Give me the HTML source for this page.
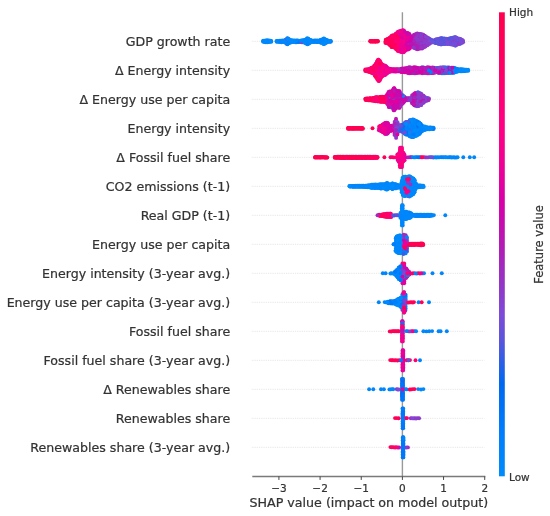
<!DOCTYPE html>
<html><head><meta charset="utf-8"><style>
html,body{margin:0;padding:0;background:#fff;}
body{width:550px;height:516px;overflow:hidden;}
svg{display:block;font-family:"DejaVu Sans","Liberation Sans",sans-serif;}
text{stroke:#333333;stroke-width:0.22px;}
</style></head><body>
<svg width="550" height="516" viewBox="0 0 550 516">
<rect width="550" height="516" fill="#fff"/>
<line x1="251.8" y1="41.30" x2="484.4" y2="41.30" stroke="#e3e3e3" stroke-width="1" stroke-dasharray="0.9 0.9"/>
<line x1="251.8" y1="70.30" x2="484.4" y2="70.30" stroke="#e3e3e3" stroke-width="1" stroke-dasharray="0.9 0.9"/>
<line x1="251.8" y1="99.30" x2="484.4" y2="99.30" stroke="#e3e3e3" stroke-width="1" stroke-dasharray="0.9 0.9"/>
<line x1="251.8" y1="128.30" x2="484.4" y2="128.30" stroke="#e3e3e3" stroke-width="1" stroke-dasharray="0.9 0.9"/>
<line x1="251.8" y1="157.30" x2="484.4" y2="157.30" stroke="#e3e3e3" stroke-width="1" stroke-dasharray="0.9 0.9"/>
<line x1="251.8" y1="186.30" x2="484.4" y2="186.30" stroke="#e3e3e3" stroke-width="1" stroke-dasharray="0.9 0.9"/>
<line x1="251.8" y1="215.30" x2="484.4" y2="215.30" stroke="#e3e3e3" stroke-width="1" stroke-dasharray="0.9 0.9"/>
<line x1="251.8" y1="244.30" x2="484.4" y2="244.30" stroke="#e3e3e3" stroke-width="1" stroke-dasharray="0.9 0.9"/>
<line x1="251.8" y1="273.30" x2="484.4" y2="273.30" stroke="#e3e3e3" stroke-width="1" stroke-dasharray="0.9 0.9"/>
<line x1="251.8" y1="302.30" x2="484.4" y2="302.30" stroke="#e3e3e3" stroke-width="1" stroke-dasharray="0.9 0.9"/>
<line x1="251.8" y1="331.30" x2="484.4" y2="331.30" stroke="#e3e3e3" stroke-width="1" stroke-dasharray="0.9 0.9"/>
<line x1="251.8" y1="360.30" x2="484.4" y2="360.30" stroke="#e3e3e3" stroke-width="1" stroke-dasharray="0.9 0.9"/>
<line x1="251.8" y1="389.30" x2="484.4" y2="389.30" stroke="#e3e3e3" stroke-width="1" stroke-dasharray="0.9 0.9"/>
<line x1="251.8" y1="418.30" x2="484.4" y2="418.30" stroke="#e3e3e3" stroke-width="1" stroke-dasharray="0.9 0.9"/>
<line x1="251.8" y1="447.30" x2="484.4" y2="447.30" stroke="#e3e3e3" stroke-width="1" stroke-dasharray="0.9 0.9"/>
<line x1="402.40" y1="12.3" x2="402.40" y2="476.6" stroke="#999999" stroke-width="1.4"/>
<g><circle cx="402.8" cy="213.3" r="1.95" fill="#008afb"/>
<circle cx="407.9" cy="184.2" r="1.95" fill="#0088fb"/>
<circle cx="399.7" cy="125.3" r="1.95" fill="#8048d6"/>
<circle cx="406.2" cy="273.0" r="1.95" fill="#c60bae"/>
<circle cx="411.4" cy="126.3" r="1.95" fill="#0085fb"/>
<circle cx="396.1" cy="275.1" r="1.95" fill="#0085fb"/>
<circle cx="287.6" cy="41.0" r="1.95" fill="#008bfb"/>
<circle cx="423.8" cy="157.1" r="1.95" fill="#ff005a"/>
<circle cx="387.5" cy="68.5" r="1.95" fill="#f10093"/>
<circle cx="387.5" cy="104.1" r="1.95" fill="#ee0096"/>
<circle cx="400.6" cy="306.8" r="1.95" fill="#0085fb"/>
<circle cx="377.6" cy="64.1" r="1.95" fill="#ff0077"/>
<circle cx="310.3" cy="40.0" r="1.95" fill="#0086fb"/>
<circle cx="429.6" cy="39.0" r="1.95" fill="#724ed9"/>
<circle cx="357.0" cy="128.0" r="1.95" fill="#ff0056"/>
<circle cx="417.5" cy="92.8" r="1.95" fill="#9d2dc1"/>
<circle cx="407.3" cy="126.4" r="1.95" fill="#007ffc"/>
<circle cx="372.8" cy="187.8" r="1.95" fill="#0086fb"/>
<circle cx="425.0" cy="97.5" r="1.95" fill="#774cd9"/>
<circle cx="278.1" cy="40.9" r="1.95" fill="#0088fb"/>
<circle cx="395.9" cy="248.5" r="1.95" fill="#0085fb"/>
<circle cx="403.0" cy="380.5" r="1.95" fill="#006ff4"/>
<circle cx="395.5" cy="99.0" r="1.95" fill="#0088fb"/>
<circle cx="395.4" cy="70.0" r="1.95" fill="#af1eb7"/>
<circle cx="396.9" cy="273.4" r="1.95" fill="#0087fb"/>
<circle cx="430.3" cy="70.0" r="1.95" fill="#8246d4"/>
<circle cx="395.1" cy="92.9" r="1.95" fill="#ce06ac"/>
<circle cx="402.5" cy="128.0" r="1.95" fill="#754dd9"/>
<circle cx="377.1" cy="97.3" r="1.95" fill="#ff006b"/>
<circle cx="404.8" cy="196.0" r="1.95" fill="#0085fb"/>
<circle cx="384.2" cy="188.2" r="1.95" fill="#008bfb"/>
<circle cx="404.5" cy="128.2" r="1.95" fill="#006df3"/>
<circle cx="368.1" cy="99.1" r="1.95" fill="#ff0051"/>
<circle cx="400.9" cy="157.6" r="1.95" fill="#f4008f"/>
<circle cx="377.1" cy="74.3" r="1.95" fill="#ff006e"/>
<circle cx="415.1" cy="120.5" r="1.95" fill="#0086fb"/>
<circle cx="403.2" cy="368.8" r="1.95" fill="#e4009e"/>
<circle cx="400.7" cy="99.3" r="1.95" fill="#cc07ac"/>
<circle cx="391.2" cy="105.7" r="1.95" fill="#b817b3"/>
<circle cx="394.3" cy="39.3" r="1.95" fill="#ff0076"/>
<circle cx="409.2" cy="186.6" r="1.95" fill="#0086fb"/>
<circle cx="396.9" cy="252.2" r="1.95" fill="#0085fb"/>
<circle cx="409.3" cy="176.1" r="1.95" fill="#0088fb"/>
<circle cx="403.1" cy="358.0" r="1.95" fill="#e5009e"/>
<circle cx="394.1" cy="37.4" r="1.95" fill="#ff0061"/>
<circle cx="431.5" cy="68.0" r="1.95" fill="#0084fb"/>
<circle cx="406.8" cy="43.5" r="1.95" fill="#d701a8"/>
<circle cx="352.2" cy="185.9" r="1.95" fill="#0089fb"/>
<circle cx="317.7" cy="157.1" r="1.95" fill="#ff0052"/>
<circle cx="414.5" cy="99.2" r="1.95" fill="#d402a9"/>
<circle cx="296.4" cy="42.2" r="1.95" fill="#0084fb"/>
<circle cx="412.3" cy="121.8" r="1.95" fill="#754dd9"/>
<circle cx="310.6" cy="41.4" r="1.95" fill="#893fce"/>
<circle cx="404.1" cy="184.2" r="1.95" fill="#008bfb"/>
<circle cx="401.7" cy="68.7" r="1.95" fill="#cb08ad"/>
<circle cx="297.5" cy="40.5" r="1.95" fill="#0088fb"/>
<circle cx="397.4" cy="132.8" r="1.95" fill="#8543d2"/>
<circle cx="420.1" cy="99.4" r="1.95" fill="#7e4ad8"/>
<circle cx="394.8" cy="45.8" r="1.95" fill="#ff0060"/>
<circle cx="412.8" cy="188.2" r="1.95" fill="#0089fb"/>
<circle cx="408.1" cy="192.3" r="1.95" fill="#0086fb"/>
<circle cx="427.8" cy="127.4" r="1.95" fill="#0078f9"/>
<circle cx="388.1" cy="132.4" r="1.95" fill="#e4009e"/>
<circle cx="412.8" cy="130.6" r="1.95" fill="#0085fb"/>
<circle cx="403.0" cy="68.5" r="1.95" fill="#cc07ac"/>
<circle cx="373.1" cy="97.9" r="1.95" fill="#ff0070"/>
<circle cx="396.4" cy="271.2" r="1.95" fill="#008bfb"/>
<circle cx="393.6" cy="184.2" r="1.95" fill="#0086fb"/>
<circle cx="386.0" cy="41.6" r="1.95" fill="#ff005e"/>
<circle cx="401.5" cy="95.2" r="1.95" fill="#cc07ac"/>
<circle cx="400.0" cy="41.6" r="1.95" fill="#ff0071"/>
<circle cx="404.8" cy="190.7" r="1.95" fill="#0086fb"/>
<circle cx="405.6" cy="186.1" r="1.95" fill="#008bfb"/>
<circle cx="395.9" cy="45.4" r="1.95" fill="#ff006f"/>
<circle cx="398.3" cy="45.6" r="1.95" fill="#ff0063"/>
<circle cx="412.9" cy="134.5" r="1.95" fill="#008bfb"/>
<circle cx="408.4" cy="217.9" r="1.95" fill="#0086fb"/>
<circle cx="402.2" cy="297.8" r="1.95" fill="#1f61e9"/>
<circle cx="409.9" cy="123.8" r="1.95" fill="#754dd9"/>
<circle cx="455.2" cy="41.4" r="1.95" fill="#704eda"/>
<circle cx="401.2" cy="130.2" r="1.95" fill="#5d54dc"/>
<circle cx="441.7" cy="73.2" r="1.95" fill="#8e3aca"/>
<circle cx="404.6" cy="218.5" r="1.95" fill="#0086fb"/>
<circle cx="329.5" cy="41.7" r="1.95" fill="#0087fb"/>
<circle cx="409.5" cy="121.7" r="1.95" fill="#0089fb"/>
<circle cx="295.3" cy="42.2" r="1.95" fill="#0085fb"/>
<circle cx="405.6" cy="253.4" r="1.95" fill="#0086fb"/>
<circle cx="454.0" cy="37.5" r="1.95" fill="#0071f5"/>
<circle cx="374.8" cy="74.8" r="1.95" fill="#ff0069"/>
<circle cx="417.1" cy="99.3" r="1.95" fill="#9038c8"/>
<circle cx="381.0" cy="186.3" r="1.95" fill="#0087fb"/>
<circle cx="403.3" cy="449.6" r="1.95" fill="#0076f8"/>
<circle cx="376.1" cy="64.1" r="1.95" fill="#ff0065"/>
<circle cx="422.4" cy="126.2" r="1.95" fill="#0084fb"/>
<circle cx="412.1" cy="119.6" r="1.95" fill="#754dd9"/>
<circle cx="405.7" cy="124.4" r="1.95" fill="#754dd9"/>
<circle cx="403.2" cy="364.2" r="1.95" fill="#e5009e"/>
<circle cx="394.2" cy="95.4" r="1.95" fill="#d402a9"/>
<circle cx="402.1" cy="32.6" r="1.95" fill="#e6009d"/>
<circle cx="403.3" cy="182.4" r="1.95" fill="#0089fb"/>
<circle cx="411.1" cy="130.1" r="1.95" fill="#0089fb"/>
<circle cx="401.6" cy="212.6" r="1.95" fill="#0086fb"/>
<circle cx="403.2" cy="359.5" r="1.95" fill="#da00a6"/>
<circle cx="404.7" cy="43.6" r="1.95" fill="#d402a9"/>
<circle cx="305.0" cy="40.0" r="1.95" fill="#0086fb"/>
<circle cx="409.1" cy="273.4" r="1.95" fill="#0084fb"/>
<circle cx="408.3" cy="176.6" r="1.95" fill="#008bfb"/>
<circle cx="375.0" cy="157.1" r="1.95" fill="#ff0060"/>
<circle cx="406.3" cy="268.6" r="1.95" fill="#0084fb"/>
<circle cx="386.2" cy="97.5" r="1.95" fill="#ff0075"/>
<circle cx="389.1" cy="91.6" r="1.95" fill="#c80aae"/>
<circle cx="409.3" cy="35.0" r="1.95" fill="#c30eb0"/>
<circle cx="357.7" cy="185.8" r="1.95" fill="#0084fb"/>
<circle cx="404.4" cy="274.9" r="1.95" fill="#c011b1"/>
<circle cx="276.6" cy="40.9" r="1.95" fill="#008afb"/>
<circle cx="412.3" cy="95.1" r="1.95" fill="#ba15b2"/>
<circle cx="394.7" cy="121.8" r="1.95" fill="#9336c7"/>
<circle cx="404.3" cy="195.9" r="1.95" fill="#0084fb"/>
<circle cx="365.7" cy="156.7" r="1.95" fill="#ff0055"/>
<circle cx="323.8" cy="41.5" r="1.95" fill="#893fce"/>
<circle cx="421.1" cy="96.9" r="1.95" fill="#a428bd"/>
<circle cx="317.4" cy="157.4" r="1.95" fill="#ff0051"/>
<circle cx="402.0" cy="396.5" r="1.95" fill="#0076f8"/>
<circle cx="403.2" cy="418.3" r="1.95" fill="#0077f9"/>
<circle cx="416.8" cy="35.2" r="1.95" fill="#ad20b8"/>
<circle cx="418.6" cy="70.3" r="1.95" fill="#b31bb4"/>
<circle cx="449.5" cy="72.9" r="1.95" fill="#006df3"/>
<circle cx="410.9" cy="195.0" r="1.95" fill="#008bfb"/>
<circle cx="403.0" cy="398.1" r="1.95" fill="#0078fa"/>
<circle cx="399.9" cy="165.3" r="1.95" fill="#f4008f"/>
<circle cx="398.1" cy="71.4" r="1.95" fill="#b916b2"/>
<circle cx="415.8" cy="97.4" r="1.95" fill="#0088fb"/>
<circle cx="395.8" cy="242.3" r="1.95" fill="#0086fb"/>
<circle cx="448.1" cy="72.3" r="1.95" fill="#3a5ce3"/>
<circle cx="403.3" cy="354.9" r="1.95" fill="#e000a2"/>
<circle cx="402.8" cy="438.8" r="1.95" fill="#0079fa"/>
<circle cx="403.0" cy="153.2" r="1.95" fill="#f5008e"/>
<circle cx="407.9" cy="447.4" r="1.95" fill="#a12abf"/>
<circle cx="396.7" cy="244.0" r="1.95" fill="#0089fb"/>
<circle cx="393.2" cy="45.3" r="1.95" fill="#ff006d"/>
<circle cx="385.6" cy="125.9" r="1.95" fill="#e4009e"/>
<circle cx="400.8" cy="155.5" r="1.95" fill="#f6008d"/>
<circle cx="401.5" cy="182.6" r="1.95" fill="#008afb"/>
<circle cx="395.6" cy="43.7" r="1.95" fill="#ff0076"/>
<circle cx="419.6" cy="185.5" r="1.95" fill="#008bfb"/>
<circle cx="413.5" cy="94.9" r="1.95" fill="#9633c4"/>
<circle cx="401.9" cy="394.9" r="1.95" fill="#0071f5"/>
<circle cx="404.1" cy="299.9" r="1.95" fill="#893fce"/>
<circle cx="376.7" cy="184.7" r="1.95" fill="#008bfb"/>
<circle cx="402.5" cy="301.5" r="1.95" fill="#0084fb"/>
<circle cx="380.5" cy="125.9" r="1.95" fill="#f30090"/>
<circle cx="401.0" cy="31.0" r="1.95" fill="#f6008d"/>
<circle cx="401.7" cy="96.9" r="1.95" fill="#9b2fc2"/>
<circle cx="402.6" cy="278.2" r="1.95" fill="#ff0061"/>
<circle cx="402.1" cy="398.1" r="1.95" fill="#0075f8"/>
<circle cx="391.5" cy="273.2" r="1.95" fill="#0088fb"/>
<circle cx="382.2" cy="101.8" r="1.95" fill="#ff005c"/>
<circle cx="411.8" cy="192.5" r="1.95" fill="#0087fb"/>
<circle cx="383.6" cy="214.3" r="1.95" fill="#ff005e"/>
<circle cx="416.9" cy="43.3" r="1.95" fill="#a428bd"/>
<circle cx="421.5" cy="35.0" r="1.95" fill="#8e3aca"/>
<circle cx="415.0" cy="41.1" r="1.95" fill="#a02bbf"/>
<circle cx="402.4" cy="304.3" r="1.95" fill="#1564eb"/>
<circle cx="402.8" cy="445.0" r="1.95" fill="#0078f9"/>
<circle cx="369.1" cy="72.0" r="1.95" fill="#ff0052"/>
<circle cx="320.2" cy="42.3" r="1.95" fill="#0086fb"/>
<circle cx="373.1" cy="99.3" r="1.95" fill="#ff0070"/>
<circle cx="423.5" cy="102.8" r="1.95" fill="#9336c7"/>
<circle cx="415.3" cy="124.0" r="1.95" fill="#008bfb"/>
<circle cx="413.6" cy="128.4" r="1.95" fill="#007dfc"/>
<circle cx="293.6" cy="42.1" r="1.95" fill="#0089fb"/>
<circle cx="359.8" cy="186.9" r="1.95" fill="#008afb"/>
<circle cx="403.2" cy="212.6" r="1.95" fill="#0085fb"/>
<circle cx="355.9" cy="185.8" r="1.95" fill="#0086fb"/>
<circle cx="396.6" cy="239.8" r="1.95" fill="#0084fb"/>
<circle cx="402.8" cy="332.1" r="1.95" fill="#c80aae"/>
<circle cx="295.0" cy="41.2" r="1.95" fill="#0089fb"/>
<circle cx="373.7" cy="156.7" r="1.95" fill="#ff005d"/>
<circle cx="380.9" cy="68.0" r="1.95" fill="#ff0072"/>
<circle cx="361.4" cy="186.0" r="1.95" fill="#008bfb"/>
<circle cx="433.5" cy="157.5" r="1.95" fill="#0078f9"/>
<circle cx="325.5" cy="39.4" r="1.95" fill="#0083fc"/>
<circle cx="394.2" cy="103.3" r="1.95" fill="#0088fb"/>
<circle cx="400.7" cy="161.4" r="1.95" fill="#f6008d"/>
<circle cx="289.9" cy="42.7" r="1.95" fill="#0086fb"/>
<circle cx="401.1" cy="165.3" r="1.95" fill="#ff007e"/>
<circle cx="438.4" cy="41.2" r="1.95" fill="#6e4fda"/>
<circle cx="403.7" cy="242.7" r="1.95" fill="#e4009e"/>
<circle cx="454.2" cy="38.9" r="1.95" fill="#6950da"/>
<circle cx="289.7" cy="41.1" r="1.95" fill="#0084fb"/>
<circle cx="393.5" cy="244.3" r="1.95" fill="#0085fb"/>
<circle cx="413.9" cy="45.8" r="1.95" fill="#a12abe"/>
<circle cx="419.9" cy="273.5" r="1.95" fill="#ff0060"/>
<circle cx="402.0" cy="329.0" r="1.95" fill="#f6008d"/>
<circle cx="421.0" cy="103.4" r="1.95" fill="#9831c3"/>
<circle cx="374.3" cy="41.0" r="1.95" fill="#ff0051"/>
<circle cx="419.0" cy="128.3" r="1.95" fill="#0085fb"/>
<circle cx="419.1" cy="418.3" r="1.95" fill="#8b3dcd"/>
<circle cx="407.2" cy="38.9" r="1.95" fill="#dc00a4"/>
<circle cx="386.7" cy="189.6" r="1.95" fill="#008bfb"/>
<circle cx="399.0" cy="268.9" r="1.95" fill="#0084fb"/>
<circle cx="379.2" cy="186.2" r="1.95" fill="#0087fb"/>
<circle cx="400.7" cy="47.4" r="1.95" fill="#d402a9"/>
<circle cx="390.3" cy="41.0" r="1.95" fill="#ff005b"/>
<circle cx="306.8" cy="43.9" r="1.95" fill="#008afb"/>
<circle cx="403.5" cy="43.3" r="1.95" fill="#e8009b"/>
<circle cx="387.3" cy="183.2" r="1.95" fill="#008bfb"/>
<circle cx="425.4" cy="41.0" r="1.95" fill="#8e3ac9"/>
<circle cx="398.9" cy="267.5" r="1.95" fill="#0078f9"/>
<circle cx="415.8" cy="128.3" r="1.95" fill="#0084fb"/>
<circle cx="390.1" cy="45.2" r="1.95" fill="#ff005b"/>
<circle cx="403.5" cy="249.1" r="1.95" fill="#b41ab4"/>
<circle cx="399.6" cy="43.2" r="1.95" fill="#e4009e"/>
<circle cx="397.5" cy="304.3" r="1.95" fill="#0086fb"/>
<circle cx="410.8" cy="70.4" r="1.95" fill="#cc07ac"/>
<circle cx="347.4" cy="157.4" r="1.95" fill="#ff0052"/>
<circle cx="390.0" cy="101.2" r="1.95" fill="#d502a9"/>
<circle cx="324.4" cy="157.1" r="1.95" fill="#ff0054"/>
<circle cx="406.9" cy="177.5" r="1.95" fill="#0086fb"/>
<circle cx="407.3" cy="212.1" r="1.95" fill="#0085fb"/>
<circle cx="348.3" cy="128.0" r="1.95" fill="#ff0052"/>
<circle cx="359.0" cy="185.8" r="1.95" fill="#008bfb"/>
<circle cx="401.0" cy="32.7" r="1.95" fill="#f00093"/>
<circle cx="398.2" cy="47.3" r="1.95" fill="#ff006b"/>
<circle cx="423.7" cy="186.9" r="1.95" fill="#0089fb"/>
<circle cx="391.5" cy="186.4" r="1.95" fill="#0085fb"/>
<circle cx="353.4" cy="185.9" r="1.95" fill="#0086fb"/>
<circle cx="402.6" cy="130.1" r="1.95" fill="#2760e7"/>
<circle cx="406.4" cy="215.6" r="1.95" fill="#0088fb"/>
<circle cx="378.6" cy="68.2" r="1.95" fill="#ff0061"/>
<circle cx="393.1" cy="301.1" r="1.95" fill="#0089fb"/>
<circle cx="361.4" cy="156.7" r="1.95" fill="#ff0055"/>
<circle cx="377.2" cy="157.7" r="1.95" fill="#ff0062"/>
<circle cx="402.1" cy="41.1" r="1.95" fill="#f10092"/>
<circle cx="403.7" cy="51.7" r="1.95" fill="#e200a0"/>
<circle cx="370.3" cy="185.1" r="1.95" fill="#0088fb"/>
<circle cx="383.8" cy="123.9" r="1.95" fill="#db00a6"/>
<circle cx="432.6" cy="67.5" r="1.95" fill="#a02bbf"/>
<circle cx="382.8" cy="126.5" r="1.95" fill="#f10093"/>
<circle cx="411.2" cy="389.4" r="1.95" fill="#ff0056"/>
<circle cx="399.6" cy="99.2" r="1.95" fill="#ce06ac"/>
<circle cx="394.8" cy="35.1" r="1.95" fill="#ff0053"/>
<circle cx="366.6" cy="100.1" r="1.95" fill="#ff0051"/>
<circle cx="398.8" cy="155.2" r="1.95" fill="#ff007a"/>
<circle cx="414.9" cy="244.4" r="1.95" fill="#ff0057"/>
<circle cx="464.3" cy="71.1" r="1.95" fill="#0073f6"/>
<circle cx="394.0" cy="103.2" r="1.95" fill="#0088fb"/>
<circle cx="381.6" cy="125.4" r="1.95" fill="#e200a0"/>
<circle cx="402.3" cy="306.5" r="1.95" fill="#0085fb"/>
<circle cx="426.1" cy="214.6" r="1.95" fill="#0087fb"/>
<circle cx="394.2" cy="90.8" r="1.95" fill="#d204aa"/>
<circle cx="397.7" cy="69.2" r="1.95" fill="#f20091"/>
<circle cx="425.1" cy="97.5" r="1.95" fill="#7f49d7"/>
<circle cx="381.8" cy="215.3" r="1.95" fill="#ff0065"/>
<circle cx="317.7" cy="157.6" r="1.95" fill="#ff0054"/>
<circle cx="427.9" cy="98.2" r="1.95" fill="#9c2ec1"/>
<circle cx="324.0" cy="43.2" r="1.95" fill="#008bfb"/>
<circle cx="387.2" cy="188.7" r="1.95" fill="#0089fb"/>
<circle cx="389.3" cy="38.0" r="1.95" fill="#ff0058"/>
<circle cx="355.6" cy="156.7" r="1.95" fill="#ff0052"/>
<circle cx="369.3" cy="186.5" r="1.95" fill="#0087fb"/>
<circle cx="401.9" cy="206.8" r="1.95" fill="#0086fb"/>
<circle cx="403.9" cy="306.2" r="1.95" fill="#0086fb"/>
<circle cx="408.2" cy="98.3" r="1.95" fill="#a824bb"/>
<circle cx="406.9" cy="245.1" r="1.95" fill="#b519b4"/>
<circle cx="416.6" cy="130.3" r="1.95" fill="#0084fb"/>
<circle cx="399.6" cy="47.8" r="1.95" fill="#f10092"/>
<circle cx="414.0" cy="215.2" r="1.95" fill="#0088fb"/>
<circle cx="393.7" cy="97.5" r="1.95" fill="#cd07ac"/>
<circle cx="409.2" cy="218.1" r="1.95" fill="#0086fb"/>
<circle cx="426.9" cy="216.1" r="1.95" fill="#0089fb"/>
<circle cx="399.4" cy="101.3" r="1.95" fill="#c10fb0"/>
<circle cx="407.4" cy="134.2" r="1.95" fill="#0085fb"/>
<circle cx="404.7" cy="299.2" r="1.95" fill="#8741d0"/>
<circle cx="395.6" cy="33.9" r="1.95" fill="#ff0064"/>
<circle cx="398.8" cy="159.7" r="1.95" fill="#ff0073"/>
<circle cx="394.6" cy="131.6" r="1.95" fill="#a328bd"/>
<circle cx="389.7" cy="91.4" r="1.95" fill="#d402a9"/>
<circle cx="300.3" cy="42.0" r="1.95" fill="#0086fb"/>
<circle cx="376.9" cy="76.4" r="1.95" fill="#ff006c"/>
<circle cx="415.5" cy="216.0" r="1.95" fill="#0088fb"/>
<circle cx="377.4" cy="101.3" r="1.95" fill="#ff005b"/>
<circle cx="414.9" cy="70.5" r="1.95" fill="#9c2ec1"/>
<circle cx="386.5" cy="123.8" r="1.95" fill="#dc00a4"/>
<circle cx="416.8" cy="41.6" r="1.95" fill="#c40daf"/>
<circle cx="397.6" cy="186.3" r="1.95" fill="#0086fb"/>
<circle cx="382.3" cy="215.5" r="1.95" fill="#ff006b"/>
<circle cx="397.9" cy="304.5" r="1.95" fill="#0082fc"/>
<circle cx="413.0" cy="182.4" r="1.95" fill="#008bfb"/>
<circle cx="407.1" cy="271.5" r="1.95" fill="#ff0072"/>
<circle cx="394.1" cy="101.1" r="1.95" fill="#dc00a4"/>
<circle cx="404.3" cy="268.4" r="1.95" fill="#9e2dc0"/>
<circle cx="402.6" cy="361.1" r="1.95" fill="#e8009b"/>
<circle cx="428.1" cy="129.2" r="1.95" fill="#008bfb"/>
<circle cx="409.5" cy="68.3" r="1.95" fill="#cb08ad"/>
<circle cx="288.5" cy="41.2" r="1.95" fill="#0084fb"/>
<circle cx="370.7" cy="157.6" r="1.95" fill="#ff0061"/>
<circle cx="406.5" cy="122.0" r="1.95" fill="#0087fb"/>
<circle cx="394.3" cy="88.3" r="1.95" fill="#b717b3"/>
<circle cx="445.4" cy="41.1" r="1.95" fill="#6053db"/>
<circle cx="385.4" cy="130.2" r="1.95" fill="#f6008d"/>
<circle cx="410.5" cy="188.1" r="1.95" fill="#008bfb"/>
<circle cx="377.5" cy="157.6" r="1.95" fill="#ff0063"/>
<circle cx="401.5" cy="71.9" r="1.95" fill="#ce06ac"/>
<circle cx="406.0" cy="130.1" r="1.95" fill="#0084fb"/>
<circle cx="343.3" cy="157.2" r="1.95" fill="#ff0057"/>
<circle cx="388.5" cy="97.2" r="1.95" fill="#bd12b1"/>
<circle cx="401.0" cy="152.6" r="1.95" fill="#e8009b"/>
<circle cx="440.6" cy="157.1" r="1.95" fill="#0084fb"/>
<circle cx="402.6" cy="209.9" r="1.95" fill="#0085fb"/>
<circle cx="416.3" cy="103.5" r="1.95" fill="#9e2dc0"/>
<circle cx="405.6" cy="176.8" r="1.95" fill="#0086fb"/>
<circle cx="276.7" cy="41.7" r="1.95" fill="#0086fb"/>
<circle cx="401.8" cy="130.4" r="1.95" fill="#754dd9"/>
<circle cx="376.9" cy="68.5" r="1.95" fill="#ff006a"/>
<circle cx="447.9" cy="39.0" r="1.95" fill="#5556dd"/>
<circle cx="377.3" cy="101.3" r="1.95" fill="#ff005b"/>
<circle cx="319.3" cy="157.6" r="1.95" fill="#ff0051"/>
<circle cx="445.4" cy="43.2" r="1.95" fill="#784cd9"/>
<circle cx="439.7" cy="70.1" r="1.95" fill="#893fce"/>
<circle cx="393.0" cy="37.0" r="1.95" fill="#ff006e"/>
<circle cx="391.4" cy="184.3" r="1.95" fill="#0089fb"/>
<circle cx="410.1" cy="121.7" r="1.95" fill="#754dd9"/>
<circle cx="350.0" cy="156.7" r="1.95" fill="#ff0055"/>
<circle cx="403.3" cy="70.6" r="1.95" fill="#d502a9"/>
<circle cx="401.8" cy="213.4" r="1.95" fill="#0080fc"/>
<circle cx="421.5" cy="41.1" r="1.95" fill="#9b2fc2"/>
<circle cx="452.1" cy="70.5" r="1.95" fill="#0085fb"/>
<circle cx="418.3" cy="103.5" r="1.95" fill="#9534c5"/>
<circle cx="408.1" cy="72.9" r="1.95" fill="#d700a8"/>
<circle cx="406.4" cy="275.5" r="1.95" fill="#9336c6"/>
<circle cx="387.1" cy="186.0" r="1.95" fill="#0089fb"/>
<circle cx="390.9" cy="97.4" r="1.95" fill="#e6009d"/>
<circle cx="448.7" cy="67.5" r="1.95" fill="#0071f5"/>
<circle cx="406.6" cy="218.8" r="1.95" fill="#008bfb"/>
<circle cx="455.5" cy="39.2" r="1.95" fill="#5e54dc"/>
<circle cx="402.3" cy="47.9" r="1.95" fill="#e8009b"/>
<circle cx="419.7" cy="72.4" r="1.95" fill="#b519b4"/>
<circle cx="410.8" cy="190.4" r="1.95" fill="#008bfb"/>
<circle cx="398.1" cy="36.9" r="1.95" fill="#ff0068"/>
<circle cx="291.0" cy="41.5" r="1.95" fill="#0085fb"/>
<circle cx="401.0" cy="187.6" r="1.95" fill="#0085fb"/>
<circle cx="394.7" cy="128.3" r="1.95" fill="#bb14b2"/>
<circle cx="395.4" cy="95.4" r="1.95" fill="#b31bb4"/>
<circle cx="340.0" cy="156.7" r="1.95" fill="#ff0052"/>
<circle cx="438.8" cy="39.0" r="1.95" fill="#8345d4"/>
<circle cx="371.4" cy="187.8" r="1.95" fill="#0086fb"/>
<circle cx="391.8" cy="360.3" r="1.95" fill="#ff005a"/>
<circle cx="381.8" cy="126.0" r="1.95" fill="#e8009b"/>
<circle cx="407.6" cy="49.5" r="1.95" fill="#f00093"/>
<circle cx="460.6" cy="39.2" r="1.95" fill="#4f57de"/>
<circle cx="283.5" cy="42.0" r="1.95" fill="#0088fb"/>
<circle cx="371.6" cy="68.4" r="1.95" fill="#ff0070"/>
<circle cx="403.8" cy="192.6" r="1.95" fill="#008bfb"/>
<circle cx="426.6" cy="72.7" r="1.95" fill="#0084fb"/>
<circle cx="381.8" cy="130.3" r="1.95" fill="#f10092"/>
<circle cx="418.6" cy="92.7" r="1.95" fill="#8246d4"/>
<circle cx="405.7" cy="303.1" r="1.95" fill="#008bfb"/>
<circle cx="402.7" cy="358.0" r="1.95" fill="#d402a9"/>
<circle cx="381.3" cy="64.0" r="1.95" fill="#f6008d"/>
<circle cx="377.6" cy="41.5" r="1.95" fill="#ff0053"/>
<circle cx="403.2" cy="416.7" r="1.95" fill="#0080fc"/>
<circle cx="410.0" cy="360.1" r="1.95" fill="#ff0064"/>
<circle cx="425.9" cy="43.1" r="1.95" fill="#8345d3"/>
<circle cx="347.3" cy="156.7" r="1.95" fill="#ff005b"/>
<circle cx="292.2" cy="40.5" r="1.95" fill="#0087fb"/>
<circle cx="409.3" cy="73.3" r="1.95" fill="#b31bb4"/>
<circle cx="415.6" cy="186.2" r="1.95" fill="#0088fb"/>
<circle cx="402.9" cy="441.9" r="1.95" fill="#0072f6"/>
<circle cx="385.7" cy="216.7" r="1.95" fill="#ff0064"/>
<circle cx="400.7" cy="36.9" r="1.95" fill="#ff0073"/>
<circle cx="365.3" cy="187.0" r="1.95" fill="#0088fb"/>
<circle cx="412.3" cy="244.2" r="1.95" fill="#ff0056"/>
<circle cx="444.6" cy="68.3" r="1.95" fill="#5d54dc"/>
<circle cx="406.9" cy="49.6" r="1.95" fill="#dc00a4"/>
<circle cx="404.1" cy="131.9" r="1.95" fill="#0083fc"/>
<circle cx="360.5" cy="158.0" r="1.95" fill="#ff0054"/>
<circle cx="382.4" cy="99.4" r="1.95" fill="#ff0051"/>
<circle cx="417.3" cy="49.2" r="1.95" fill="#a923ba"/>
<circle cx="431.8" cy="67.6" r="1.95" fill="#d402a9"/>
<circle cx="385.1" cy="122.9" r="1.95" fill="#ff0080"/>
<circle cx="378.4" cy="74.8" r="1.95" fill="#ff007a"/>
<circle cx="404.2" cy="43.2" r="1.95" fill="#eb0099"/>
<circle cx="433.8" cy="70.2" r="1.95" fill="#0084fb"/>
<circle cx="351.7" cy="128.6" r="1.95" fill="#ff0051"/>
<circle cx="404.0" cy="126.0" r="1.95" fill="#0071f5"/>
<circle cx="386.0" cy="101.6" r="1.95" fill="#ff0078"/>
<circle cx="456.9" cy="44.8" r="1.95" fill="#7a4bd8"/>
<circle cx="400.6" cy="126.5" r="1.95" fill="#6352db"/>
<circle cx="403.4" cy="457.4" r="1.95" fill="#007cfc"/>
<circle cx="377.6" cy="66.0" r="1.95" fill="#ed0096"/>
<circle cx="396.8" cy="91.2" r="1.95" fill="#0088fb"/>
<circle cx="453.9" cy="41.0" r="1.95" fill="#5157de"/>
<circle cx="396.3" cy="97.3" r="1.95" fill="#c60bae"/>
<circle cx="392.4" cy="189.1" r="1.95" fill="#008bfb"/>
<circle cx="388.3" cy="93.0" r="1.95" fill="#e4009e"/>
<circle cx="414.5" cy="101.7" r="1.95" fill="#bb14b2"/>
<circle cx="458.1" cy="43.3" r="1.95" fill="#8e3ac9"/>
<circle cx="396.8" cy="92.9" r="1.95" fill="#bd13b1"/>
<circle cx="415.5" cy="43.4" r="1.95" fill="#c60bae"/>
<circle cx="424.2" cy="216.1" r="1.95" fill="#0087fb"/>
<circle cx="356.6" cy="158.0" r="1.95" fill="#ff0051"/>
<circle cx="364.5" cy="158.0" r="1.95" fill="#ff0059"/>
<circle cx="400.5" cy="152.8" r="1.95" fill="#f7008c"/>
<circle cx="381.2" cy="184.5" r="1.95" fill="#008afb"/>
<circle cx="405.7" cy="98.3" r="1.95" fill="#b31bb4"/>
<circle cx="401.6" cy="218.0" r="1.95" fill="#0089fb"/>
<circle cx="417.3" cy="95.0" r="1.95" fill="#9f2cc0"/>
<circle cx="375.1" cy="65.2" r="1.95" fill="#ff0071"/>
<circle cx="405.8" cy="418.2" r="1.95" fill="#ff005d"/>
<circle cx="372.3" cy="98.1" r="1.95" fill="#ff0051"/>
<circle cx="426.6" cy="41.3" r="1.95" fill="#8147d5"/>
<circle cx="385.6" cy="215.5" r="1.95" fill="#ff006f"/>
<circle cx="339.6" cy="157.9" r="1.95" fill="#ff0051"/>
<circle cx="401.1" cy="150.9" r="1.95" fill="#f4008f"/>
<circle cx="403.2" cy="356.4" r="1.95" fill="#e4009e"/>
<circle cx="381.8" cy="186.2" r="1.95" fill="#008bfb"/>
<circle cx="397.4" cy="126.8" r="1.95" fill="#8e3ac9"/>
<circle cx="401.7" cy="128.4" r="1.95" fill="#5456dd"/>
<circle cx="402.5" cy="367.3" r="1.95" fill="#ec0098"/>
<circle cx="402.8" cy="329.0" r="1.95" fill="#f30090"/>
<circle cx="397.2" cy="275.2" r="1.95" fill="#893fce"/>
<circle cx="425.7" cy="216.1" r="1.95" fill="#0089fb"/>
<circle cx="420.1" cy="215.3" r="1.95" fill="#0086fb"/>
<circle cx="418.6" cy="185.4" r="1.95" fill="#0088fb"/>
<circle cx="402.5" cy="270.0" r="1.95" fill="#9931c3"/>
<circle cx="439.0" cy="68.0" r="1.95" fill="#9633c5"/>
<circle cx="403.2" cy="408.4" r="1.95" fill="#007dfc"/>
<circle cx="357.4" cy="128.7" r="1.95" fill="#ff0051"/>
<circle cx="417.6" cy="45.7" r="1.95" fill="#9633c4"/>
<circle cx="426.8" cy="129.3" r="1.95" fill="#007efc"/>
<circle cx="411.4" cy="43.9" r="1.95" fill="#d402a9"/>
<circle cx="394.0" cy="331.3" r="1.95" fill="#ff005c"/>
<circle cx="431.9" cy="70.1" r="1.95" fill="#0084fb"/>
<circle cx="457.8" cy="41.6" r="1.95" fill="#4659e0"/>
<circle cx="409.3" cy="47.5" r="1.95" fill="#d402a9"/>
<circle cx="401.0" cy="185.1" r="1.95" fill="#008bfb"/>
<circle cx="461.7" cy="41.1" r="1.95" fill="#8345d4"/>
<circle cx="374.3" cy="41.4" r="1.95" fill="#ff005d"/>
<circle cx="416.3" cy="33.9" r="1.95" fill="#b519b4"/>
<circle cx="378.7" cy="62.1" r="1.95" fill="#ff007a"/>
<circle cx="419.4" cy="187.1" r="1.95" fill="#0089fb"/>
<circle cx="382.0" cy="74.7" r="1.95" fill="#ff0072"/>
<circle cx="412.1" cy="215.4" r="1.95" fill="#0086fb"/>
<circle cx="446.1" cy="43.2" r="1.95" fill="#4f57de"/>
<circle cx="393.0" cy="302.5" r="1.95" fill="#0087fb"/>
<circle cx="396.0" cy="186.2" r="1.95" fill="#008bfb"/>
<circle cx="447.5" cy="41.2" r="1.95" fill="#4a58df"/>
<circle cx="401.7" cy="94.6" r="1.95" fill="#d402a9"/>
<circle cx="376.2" cy="41.0" r="1.95" fill="#ff0051"/>
<circle cx="432.5" cy="70.5" r="1.95" fill="#9633c4"/>
<circle cx="398.7" cy="278.9" r="1.95" fill="#0085fb"/>
<circle cx="381.3" cy="126.3" r="1.95" fill="#e8009b"/>
<circle cx="452.5" cy="68.0" r="1.95" fill="#4859e0"/>
<circle cx="367.7" cy="98.4" r="1.95" fill="#f6008d"/>
<circle cx="428.1" cy="43.5" r="1.95" fill="#9633c4"/>
<circle cx="397.4" cy="43.5" r="1.95" fill="#ff0072"/>
<circle cx="408.2" cy="188.4" r="1.95" fill="#0088fb"/>
<circle cx="403.5" cy="39.4" r="1.95" fill="#e4009e"/>
<circle cx="394.8" cy="188.3" r="1.95" fill="#0085fb"/>
<circle cx="403.7" cy="32.8" r="1.95" fill="#e4009e"/>
<circle cx="409.4" cy="196.5" r="1.95" fill="#0087fb"/>
<circle cx="390.4" cy="447.1" r="1.95" fill="#ff005b"/>
<circle cx="395.2" cy="274.6" r="1.95" fill="#0087fb"/>
<circle cx="450.8" cy="70.0" r="1.95" fill="#0078f9"/>
<circle cx="402.5" cy="354.9" r="1.95" fill="#f20091"/>
<circle cx="380.2" cy="128.1" r="1.95" fill="#9633c4"/>
<circle cx="424.3" cy="45.2" r="1.95" fill="#8e3ac9"/>
<circle cx="398.8" cy="302.4" r="1.95" fill="#0077f9"/>
<circle cx="448.1" cy="70.2" r="1.95" fill="#1f62e9"/>
<circle cx="308.5" cy="43.8" r="1.95" fill="#0086fb"/>
<circle cx="407.7" cy="41.6" r="1.95" fill="#dc00a4"/>
<circle cx="391.9" cy="45.8" r="1.95" fill="#ff005d"/>
<circle cx="409.8" cy="128.6" r="1.95" fill="#0084fb"/>
<circle cx="422.1" cy="48.5" r="1.95" fill="#a329be"/>
<circle cx="433.3" cy="128.2" r="1.95" fill="#0084fb"/>
<circle cx="386.4" cy="68.4" r="1.95" fill="#e5009e"/>
<circle cx="386.9" cy="101.2" r="1.95" fill="#e4009e"/>
<circle cx="380.4" cy="130.2" r="1.95" fill="#f30090"/>
<circle cx="402.6" cy="206.8" r="1.95" fill="#008afb"/>
<circle cx="425.2" cy="129.8" r="1.95" fill="#008bfb"/>
<circle cx="424.8" cy="72.7" r="1.95" fill="#b31bb5"/>
<circle cx="396.8" cy="236.5" r="1.95" fill="#0085fb"/>
<circle cx="418.7" cy="187.2" r="1.95" fill="#008afb"/>
<circle cx="403.0" cy="386.9" r="1.95" fill="#0071f6"/>
<circle cx="402.1" cy="155.7" r="1.95" fill="#ff0078"/>
<circle cx="412.0" cy="194.8" r="1.95" fill="#0088fb"/>
<circle cx="395.4" cy="215.1" r="1.95" fill="#5a55dc"/>
<circle cx="437.8" cy="157.3" r="1.95" fill="#0087fb"/>
<circle cx="405.5" cy="309.9" r="1.95" fill="#006af1"/>
<circle cx="410.9" cy="192.6" r="1.95" fill="#0087fb"/>
<circle cx="419.6" cy="157.3" r="1.95" fill="#0088fb"/>
<circle cx="381.1" cy="188.4" r="1.95" fill="#0086fb"/>
<circle cx="380.0" cy="78.4" r="1.95" fill="#ff006a"/>
<circle cx="383.5" cy="68.4" r="1.95" fill="#ee0095"/>
<circle cx="366.8" cy="99.1" r="1.95" fill="#ff0051"/>
<circle cx="427.9" cy="100.4" r="1.95" fill="#7f49d7"/>
<circle cx="269.8" cy="41.6" r="1.95" fill="#008bfb"/>
<circle cx="422.8" cy="126.4" r="1.95" fill="#0087fb"/>
<circle cx="390.7" cy="43.3" r="1.95" fill="#ff005b"/>
<circle cx="412.2" cy="180.1" r="1.95" fill="#754dd9"/>
<circle cx="423.1" cy="43.3" r="1.95" fill="#a626bc"/>
<circle cx="401.3" cy="186.0" r="1.95" fill="#008bfb"/>
<circle cx="379.8" cy="78.6" r="1.95" fill="#ff006a"/>
<circle cx="402.1" cy="97.5" r="1.95" fill="#dc00a4"/>
<circle cx="311.9" cy="40.5" r="1.95" fill="#0089fb"/>
<circle cx="416.8" cy="216.1" r="1.95" fill="#0087fb"/>
<circle cx="402.6" cy="368.8" r="1.95" fill="#e100a1"/>
<circle cx="409.0" cy="35.2" r="1.95" fill="#ce06ac"/>
<circle cx="419.6" cy="186.3" r="1.95" fill="#008afb"/>
<circle cx="402.5" cy="279.9" r="1.95" fill="#ff0075"/>
<circle cx="400.0" cy="158.9" r="1.95" fill="#f20091"/>
<circle cx="411.9" cy="184.3" r="1.95" fill="#008afb"/>
<circle cx="412.0" cy="72.6" r="1.95" fill="#d402a9"/>
<circle cx="403.7" cy="215.6" r="1.95" fill="#0084fb"/>
<circle cx="405.7" cy="235.2" r="1.95" fill="#b41ab4"/>
<circle cx="424.1" cy="215.0" r="1.95" fill="#0085fb"/>
<circle cx="352.2" cy="128.0" r="1.95" fill="#ff0054"/>
<circle cx="417.2" cy="41.3" r="1.95" fill="#ae1fb7"/>
<circle cx="419.0" cy="126.1" r="1.95" fill="#0076f8"/>
<circle cx="409.2" cy="213.1" r="1.95" fill="#0085fb"/>
<circle cx="383.9" cy="101.4" r="1.95" fill="#ff0051"/>
<circle cx="415.1" cy="47.5" r="1.95" fill="#9a30c2"/>
<circle cx="392.2" cy="45.8" r="1.95" fill="#ff0051"/>
<circle cx="371.7" cy="41.4" r="1.95" fill="#ff0053"/>
<circle cx="421.4" cy="97.5" r="1.95" fill="#9038c8"/>
<circle cx="401.4" cy="300.3" r="1.95" fill="#0084fb"/>
<circle cx="395.0" cy="447.5" r="1.95" fill="#ff0061"/>
<circle cx="363.9" cy="186.1" r="1.95" fill="#008bfb"/>
<circle cx="404.0" cy="101.5" r="1.95" fill="#d402a9"/>
<circle cx="366.2" cy="185.6" r="1.95" fill="#008bfb"/>
<circle cx="415.5" cy="186.3" r="1.95" fill="#008bfb"/>
<circle cx="412.3" cy="99.1" r="1.95" fill="#0088fb"/>
<circle cx="397.4" cy="157.4" r="1.95" fill="#f30091"/>
<circle cx="420.9" cy="187.1" r="1.95" fill="#0084fb"/>
<circle cx="358.6" cy="128.0" r="1.95" fill="#ff0056"/>
<circle cx="402.5" cy="364.2" r="1.95" fill="#e4009e"/>
<circle cx="403.4" cy="298.4" r="1.95" fill="#6452db"/>
<circle cx="326.8" cy="40.0" r="1.95" fill="#0084fb"/>
<circle cx="407.0" cy="273.4" r="1.95" fill="#d402a9"/>
<circle cx="411.3" cy="213.5" r="1.95" fill="#0084fb"/>
<circle cx="396.3" cy="71.5" r="1.95" fill="#cc08ad"/>
<circle cx="408.5" cy="213.5" r="1.95" fill="#0087fb"/>
<circle cx="419.2" cy="134.0" r="1.95" fill="#008bfb"/>
<circle cx="423.6" cy="101.1" r="1.95" fill="#9633c4"/>
<circle cx="407.8" cy="194.6" r="1.95" fill="#0087fb"/>
<circle cx="416.4" cy="121.1" r="1.95" fill="#008bfb"/>
<circle cx="405.2" cy="186.5" r="1.95" fill="#008afb"/>
<circle cx="403.3" cy="448.1" r="1.95" fill="#0084fb"/>
<circle cx="378.1" cy="187.8" r="1.95" fill="#0085fb"/>
<circle cx="399.3" cy="95.4" r="1.95" fill="#d303aa"/>
<circle cx="393.9" cy="43.3" r="1.95" fill="#ff0062"/>
<circle cx="399.3" cy="242.5" r="1.95" fill="#0085fb"/>
<circle cx="393.4" cy="157.4" r="1.95" fill="#ff0061"/>
<circle cx="386.5" cy="70.3" r="1.95" fill="#ff0076"/>
<circle cx="279.5" cy="41.8" r="1.95" fill="#0084fb"/>
<circle cx="443.2" cy="72.6" r="1.95" fill="#9138c8"/>
<circle cx="419.0" cy="48.6" r="1.95" fill="#a02bbf"/>
<circle cx="395.7" cy="250.6" r="1.95" fill="#0088fb"/>
<circle cx="406.2" cy="126.1" r="1.95" fill="#0084fb"/>
<circle cx="395.1" cy="331.3" r="1.95" fill="#ff0058"/>
<circle cx="357.6" cy="128.2" r="1.95" fill="#ff0053"/>
<circle cx="404.6" cy="45.8" r="1.95" fill="#ee0095"/>
<circle cx="386.9" cy="39.5" r="1.95" fill="#ff005f"/>
<circle cx="385.9" cy="189.2" r="1.95" fill="#0089fb"/>
<circle cx="419.4" cy="45.5" r="1.95" fill="#9137c8"/>
<circle cx="403.5" cy="124.7" r="1.95" fill="#006bf2"/>
<circle cx="447.6" cy="43.5" r="1.95" fill="#4f57df"/>
<circle cx="455.1" cy="37.1" r="1.95" fill="#5756dd"/>
<circle cx="383.8" cy="128.5" r="1.95" fill="#d104ab"/>
<circle cx="450.3" cy="39.4" r="1.95" fill="#714ed9"/>
<circle cx="414.0" cy="120.0" r="1.95" fill="#0089fb"/>
<circle cx="414.7" cy="331.1" r="1.95" fill="#0085fb"/>
<circle cx="387.4" cy="123.8" r="1.95" fill="#cd07ac"/>
<circle cx="393.6" cy="88.9" r="1.95" fill="#c80aae"/>
<circle cx="392.7" cy="331.1" r="1.95" fill="#ff0053"/>
<circle cx="406.9" cy="238.8" r="1.95" fill="#7e4ad8"/>
<circle cx="383.7" cy="70.2" r="1.95" fill="#ff006c"/>
<circle cx="418.0" cy="128.6" r="1.95" fill="#008bfb"/>
<circle cx="409.1" cy="45.8" r="1.95" fill="#e300a0"/>
<circle cx="396.0" cy="118.8" r="1.95" fill="#9633c4"/>
<circle cx="423.3" cy="245.0" r="1.95" fill="#ff0056"/>
<circle cx="403.8" cy="37.3" r="1.95" fill="#e8009b"/>
<circle cx="397.3" cy="276.7" r="1.95" fill="#0084fb"/>
<circle cx="385.3" cy="96.7" r="1.95" fill="#ff0068"/>
<circle cx="425.2" cy="70.4" r="1.95" fill="#9633c4"/>
<circle cx="406.6" cy="360.2" r="1.95" fill="#ff0064"/>
<circle cx="377.2" cy="61.6" r="1.95" fill="#ff0057"/>
<circle cx="324.2" cy="43.9" r="1.95" fill="#0087fb"/>
<circle cx="369.3" cy="100.3" r="1.95" fill="#ff0059"/>
<circle cx="399.2" cy="97.2" r="1.95" fill="#d005ab"/>
<circle cx="431.2" cy="42.8" r="1.95" fill="#724ed9"/>
<circle cx="400.7" cy="153.4" r="1.95" fill="#f7008c"/>
<circle cx="406.4" cy="277.6" r="1.95" fill="#0084fb"/>
<circle cx="382.3" cy="184.3" r="1.95" fill="#008bfb"/>
<circle cx="393.4" cy="41.5" r="1.95" fill="#ff0062"/>
<circle cx="399.7" cy="126.0" r="1.95" fill="#6651db"/>
<circle cx="410.8" cy="215.0" r="1.95" fill="#0088fb"/>
<circle cx="359.5" cy="157.6" r="1.95" fill="#ff0055"/>
<circle cx="269.6" cy="41.9" r="1.95" fill="#0088fb"/>
<circle cx="372.3" cy="72.8" r="1.95" fill="#f4008f"/>
<circle cx="417.9" cy="99.0" r="1.95" fill="#9d2dc1"/>
<circle cx="403.9" cy="176.7" r="1.95" fill="#0088fb"/>
<circle cx="387.4" cy="215.5" r="1.95" fill="#ff0073"/>
<circle cx="300.2" cy="40.6" r="1.95" fill="#0084fb"/>
<circle cx="369.7" cy="158.0" r="1.95" fill="#ff005b"/>
<circle cx="398.2" cy="246.3" r="1.95" fill="#0084fb"/>
<circle cx="397.3" cy="248.7" r="1.95" fill="#0088fb"/>
<circle cx="305.7" cy="39.5" r="1.95" fill="#0084fb"/>
<circle cx="402.8" cy="449.6" r="1.95" fill="#0075f8"/>
<circle cx="399.2" cy="152.9" r="1.95" fill="#ff007f"/>
<circle cx="406.2" cy="39.3" r="1.95" fill="#e4009e"/>
<circle cx="395.4" cy="103.8" r="1.95" fill="#e000a2"/>
<circle cx="389.8" cy="43.7" r="1.95" fill="#ff005a"/>
<circle cx="372.2" cy="157.2" r="1.95" fill="#ff005d"/>
<circle cx="320.3" cy="157.6" r="1.95" fill="#ff0051"/>
<circle cx="400.9" cy="45.2" r="1.95" fill="#ff0074"/>
<circle cx="381.1" cy="74.3" r="1.95" fill="#ff006a"/>
<circle cx="392.4" cy="107.4" r="1.95" fill="#dc00a4"/>
<circle cx="402.7" cy="410.1" r="1.95" fill="#0078fa"/>
<circle cx="391.2" cy="216.9" r="1.95" fill="#ff006b"/>
<circle cx="392.3" cy="183.5" r="1.95" fill="#0085fb"/>
<circle cx="413.8" cy="72.5" r="1.95" fill="#c50caf"/>
<circle cx="407.0" cy="98.3" r="1.95" fill="#a129be"/>
<circle cx="445.8" cy="73.1" r="1.95" fill="#5c54dc"/>
<circle cx="407.7" cy="182.4" r="1.95" fill="#008bfb"/>
<circle cx="397.3" cy="302.2" r="1.95" fill="#0084fb"/>
<circle cx="419.5" cy="128.0" r="1.95" fill="#008bfb"/>
<circle cx="441.4" cy="43.1" r="1.95" fill="#7e4ad8"/>
<circle cx="402.8" cy="338.3" r="1.95" fill="#ef0095"/>
<circle cx="426.7" cy="127.3" r="1.95" fill="#0085fb"/>
<circle cx="402.9" cy="327.4" r="1.95" fill="#f00094"/>
<circle cx="403.0" cy="393.3" r="1.95" fill="#0071f5"/>
<circle cx="411.1" cy="134.9" r="1.95" fill="#008bfb"/>
<circle cx="448.9" cy="43.9" r="1.95" fill="#764cd9"/>
<circle cx="388.8" cy="91.9" r="1.95" fill="#f4008f"/>
<circle cx="402.5" cy="216.1" r="1.95" fill="#0085fb"/>
<circle cx="417.1" cy="33.4" r="1.95" fill="#9930c3"/>
<circle cx="409.5" cy="177.6" r="1.95" fill="#0087fb"/>
<circle cx="408.7" cy="217.3" r="1.95" fill="#0084fb"/>
<circle cx="408.1" cy="360.2" r="1.95" fill="#ff005d"/>
<circle cx="402.5" cy="356.4" r="1.95" fill="#d402a9"/>
<circle cx="421.3" cy="128.4" r="1.95" fill="#008bfb"/>
<circle cx="414.8" cy="418.3" r="1.95" fill="#8e3ac9"/>
<circle cx="390.2" cy="360.1" r="1.95" fill="#ff0058"/>
<circle cx="391.5" cy="125.8" r="1.95" fill="#e4009e"/>
<circle cx="399.1" cy="125.2" r="1.95" fill="#7a4bd8"/>
<circle cx="404.9" cy="126.4" r="1.95" fill="#754dd9"/>
<circle cx="397.5" cy="185.1" r="1.95" fill="#008bfb"/>
<circle cx="387.4" cy="99.6" r="1.95" fill="#e4009e"/>
<circle cx="425.1" cy="39.2" r="1.95" fill="#9534c5"/>
<circle cx="417.3" cy="186.1" r="1.95" fill="#0089fb"/>
<circle cx="380.7" cy="76.9" r="1.95" fill="#ff0063"/>
<circle cx="399.8" cy="126.0" r="1.95" fill="#6651db"/>
<circle cx="391.4" cy="125.9" r="1.95" fill="#cc07ac"/>
<circle cx="420.8" cy="93.6" r="1.95" fill="#0088fb"/>
<circle cx="420.6" cy="130.6" r="1.95" fill="#008bfb"/>
<circle cx="399.9" cy="157.3" r="1.95" fill="#f5008e"/>
<circle cx="406.0" cy="37.0" r="1.95" fill="#cb08ad"/>
<circle cx="401.9" cy="103.4" r="1.95" fill="#0088fb"/>
<circle cx="370.4" cy="41.3" r="1.95" fill="#ff0051"/>
<circle cx="384.0" cy="132.7" r="1.95" fill="#e6009d"/>
<circle cx="387.8" cy="41.1" r="1.95" fill="#ff005a"/>
<circle cx="403.6" cy="236.3" r="1.95" fill="#9d2dc1"/>
<circle cx="423.0" cy="101.4" r="1.95" fill="#8246d4"/>
<circle cx="402.8" cy="454.3" r="1.95" fill="#0078f9"/>
<circle cx="324.1" cy="38.7" r="1.95" fill="#0078f9"/>
<circle cx="404.3" cy="34.7" r="1.95" fill="#ef0094"/>
<circle cx="300.3" cy="41.6" r="1.95" fill="#0085fb"/>
<circle cx="407.8" cy="196.0" r="1.95" fill="#008bfb"/>
<circle cx="433.9" cy="215.1" r="1.95" fill="#0087fb"/>
<circle cx="436.4" cy="72.1" r="1.95" fill="#8147d5"/>
<circle cx="375.7" cy="63.8" r="1.95" fill="#f9008a"/>
<circle cx="383.1" cy="130.3" r="1.95" fill="#ff0075"/>
<circle cx="382.2" cy="97.0" r="1.95" fill="#ff0054"/>
<circle cx="399.2" cy="103.2" r="1.95" fill="#0088fb"/>
<circle cx="395.2" cy="107.6" r="1.95" fill="#0088fb"/>
<circle cx="431.9" cy="72.4" r="1.95" fill="#af1eb7"/>
<circle cx="342.3" cy="156.7" r="1.95" fill="#ff0053"/>
<circle cx="401.3" cy="35.2" r="1.95" fill="#ed0096"/>
<circle cx="422.9" cy="244.3" r="1.95" fill="#ff0054"/>
<circle cx="399.6" cy="37.0" r="1.95" fill="#ff0076"/>
<circle cx="413.7" cy="214.7" r="1.95" fill="#0087fb"/>
<circle cx="403.3" cy="30.3" r="1.95" fill="#f20091"/>
<circle cx="372.2" cy="99.4" r="1.95" fill="#ff006c"/>
<circle cx="404.8" cy="212.1" r="1.95" fill="#0089fb"/>
<circle cx="421.9" cy="131.4" r="1.95" fill="#008bfb"/>
<circle cx="450.6" cy="157.2" r="1.95" fill="#0085fb"/>
<circle cx="403.2" cy="415.0" r="1.95" fill="#007afb"/>
<circle cx="407.4" cy="33.1" r="1.95" fill="#ff007a"/>
<circle cx="399.3" cy="248.7" r="1.95" fill="#0087fb"/>
<circle cx="396.9" cy="250.3" r="1.95" fill="#0088fb"/>
<circle cx="402.8" cy="451.2" r="1.95" fill="#0078f9"/>
<circle cx="420.2" cy="34.0" r="1.95" fill="#9b2ec2"/>
<circle cx="403.9" cy="304.7" r="1.95" fill="#764cd9"/>
<circle cx="403.3" cy="52.3" r="1.95" fill="#eb0099"/>
<circle cx="401.1" cy="147.7" r="1.95" fill="#ff0076"/>
<circle cx="387.2" cy="189.4" r="1.95" fill="#0088fb"/>
<circle cx="407.7" cy="130.2" r="1.95" fill="#754dd9"/>
<circle cx="403.3" cy="365.7" r="1.95" fill="#e6009d"/>
<circle cx="402.0" cy="150.9" r="1.95" fill="#f30090"/>
<circle cx="285.2" cy="40.0" r="1.95" fill="#0089fb"/>
<circle cx="389.8" cy="186.2" r="1.95" fill="#0089fb"/>
<circle cx="374.3" cy="65.8" r="1.95" fill="#ff005b"/>
<circle cx="402.7" cy="154.9" r="1.95" fill="#ff0079"/>
<circle cx="398.7" cy="157.2" r="1.95" fill="#f20091"/>
<circle cx="409.9" cy="244.4" r="1.95" fill="#ff005b"/>
<circle cx="394.7" cy="133.2" r="1.95" fill="#e4009e"/>
<circle cx="389.9" cy="97.0" r="1.95" fill="#cc07ac"/>
<circle cx="409.2" cy="274.6" r="1.95" fill="#ee0096"/>
<circle cx="414.2" cy="180.3" r="1.95" fill="#0086fb"/>
<circle cx="415.8" cy="93.0" r="1.95" fill="#ad20b8"/>
<circle cx="362.5" cy="128.5" r="1.95" fill="#ff0051"/>
<circle cx="405.9" cy="72.3" r="1.95" fill="#df00a2"/>
<circle cx="392.6" cy="92.9" r="1.95" fill="#c20fb0"/>
<circle cx="390.2" cy="128.3" r="1.95" fill="#ed0096"/>
<circle cx="304.7" cy="42.5" r="1.95" fill="#0085fb"/>
<circle cx="388.9" cy="303.2" r="1.95" fill="#0089fb"/>
<circle cx="404.3" cy="278.2" r="1.95" fill="#0084fb"/>
<circle cx="401.9" cy="225.4" r="1.95" fill="#008afb"/>
<circle cx="417.7" cy="37.1" r="1.95" fill="#aa22b9"/>
<circle cx="394.2" cy="109.9" r="1.95" fill="#0088fb"/>
<circle cx="402.9" cy="180.1" r="1.95" fill="#0088fb"/>
<circle cx="371.7" cy="70.0" r="1.95" fill="#ff005c"/>
<circle cx="420.3" cy="123.7" r="1.95" fill="#0088fb"/>
<circle cx="407.3" cy="33.0" r="1.95" fill="#e4009e"/>
<circle cx="402.4" cy="306.6" r="1.95" fill="#4d58df"/>
<circle cx="402.5" cy="131.8" r="1.95" fill="#754dd9"/>
<circle cx="421.1" cy="70.5" r="1.95" fill="#9633c4"/>
<circle cx="380.0" cy="76.9" r="1.95" fill="#ff0079"/>
<circle cx="400.0" cy="149.3" r="1.95" fill="#f7008c"/>
<circle cx="416.1" cy="243.7" r="1.95" fill="#ff0061"/>
<circle cx="402.0" cy="222.3" r="1.95" fill="#0089fb"/>
<circle cx="377.0" cy="99.2" r="1.95" fill="#ff005d"/>
<circle cx="400.7" cy="69.0" r="1.95" fill="#d402a9"/>
<circle cx="451.6" cy="41.3" r="1.95" fill="#3e5be2"/>
<circle cx="407.1" cy="36.9" r="1.95" fill="#dc00a4"/>
<circle cx="293.8" cy="41.5" r="1.95" fill="#008bfb"/>
<circle cx="384.9" cy="68.2" r="1.95" fill="#ee0096"/>
<circle cx="407.2" cy="124.3" r="1.95" fill="#754dd9"/>
<circle cx="387.2" cy="213.8" r="1.95" fill="#ff0065"/>
<circle cx="401.0" cy="125.9" r="1.95" fill="#8246d4"/>
<circle cx="411.6" cy="190.5" r="1.95" fill="#0088fb"/>
<circle cx="402.9" cy="217.5" r="1.95" fill="#0088fb"/>
<circle cx="384.6" cy="302.1" r="1.95" fill="#0087fb"/>
<circle cx="320.7" cy="40.0" r="1.95" fill="#0084fb"/>
<circle cx="392.8" cy="103.7" r="1.95" fill="#e4009e"/>
<circle cx="388.6" cy="101.2" r="1.95" fill="#0088fb"/>
<circle cx="370.9" cy="68.3" r="1.95" fill="#ff006c"/>
<circle cx="402.0" cy="223.8" r="1.95" fill="#0088fb"/>
<circle cx="372.8" cy="186.6" r="1.95" fill="#0086fb"/>
<circle cx="405.3" cy="190.7" r="1.95" fill="#008bfb"/>
<circle cx="406.7" cy="190.5" r="1.95" fill="#008bfb"/>
<circle cx="379.8" cy="61.8" r="1.95" fill="#ff0079"/>
<circle cx="403.3" cy="101.6" r="1.95" fill="#b31bb4"/>
<circle cx="400.9" cy="154.1" r="1.95" fill="#ff0079"/>
<circle cx="422.2" cy="101.5" r="1.95" fill="#9c2ec1"/>
<circle cx="407.9" cy="100.3" r="1.95" fill="#0088fb"/>
<circle cx="416.7" cy="135.5" r="1.95" fill="#008bfb"/>
<circle cx="422.6" cy="273.4" r="1.95" fill="#008afb"/>
<circle cx="408.4" cy="121.7" r="1.95" fill="#007afb"/>
<circle cx="403.4" cy="37.4" r="1.95" fill="#e8009b"/>
<circle cx="401.9" cy="214.5" r="1.95" fill="#0089fb"/>
<circle cx="388.9" cy="302.3" r="1.95" fill="#0087fb"/>
<circle cx="404.8" cy="47.3" r="1.95" fill="#eb0099"/>
<circle cx="402.0" cy="211.4" r="1.95" fill="#0089fb"/>
<circle cx="420.9" cy="101.5" r="1.95" fill="#8444d3"/>
<circle cx="402.0" cy="101.7" r="1.95" fill="#ab21b9"/>
<circle cx="446.2" cy="38.8" r="1.95" fill="#6a50da"/>
<circle cx="407.0" cy="248.2" r="1.95" fill="#6950da"/>
<circle cx="430.5" cy="129.1" r="1.95" fill="#0088fb"/>
<circle cx="399.6" cy="244.6" r="1.95" fill="#0085fb"/>
<circle cx="394.3" cy="43.6" r="1.95" fill="#ff0071"/>
<circle cx="323.9" cy="43.5" r="1.95" fill="#0085fb"/>
<circle cx="401.9" cy="297.6" r="1.95" fill="#0076f8"/>
<circle cx="412.5" cy="137.0" r="1.95" fill="#0088fb"/>
<circle cx="407.3" cy="34.8" r="1.95" fill="#d402a9"/>
<circle cx="384.4" cy="186.3" r="1.95" fill="#0087fb"/>
<circle cx="398.9" cy="331.2" r="1.95" fill="#ff0057"/>
<circle cx="405.5" cy="306.5" r="1.95" fill="#0076f8"/>
<circle cx="411.0" cy="215.1" r="1.95" fill="#0087fb"/>
<circle cx="399.0" cy="240.4" r="1.95" fill="#0084fb"/>
<circle cx="402.9" cy="192.3" r="1.95" fill="#0089fb"/>
<circle cx="394.0" cy="93.2" r="1.95" fill="#e4009e"/>
<circle cx="394.9" cy="184.3" r="1.95" fill="#0086fb"/>
<circle cx="366.8" cy="98.5" r="1.95" fill="#ff0051"/>
<circle cx="348.1" cy="128.0" r="1.95" fill="#ff0053"/>
<circle cx="435.1" cy="157.2" r="1.95" fill="#0085fb"/>
<circle cx="366.6" cy="70.6" r="1.95" fill="#ff005b"/>
<circle cx="405.0" cy="39.3" r="1.95" fill="#e4009e"/>
<circle cx="370.4" cy="186.3" r="1.95" fill="#008bfb"/>
<circle cx="401.6" cy="94.4" r="1.95" fill="#0088fb"/>
<circle cx="419.6" cy="68.2" r="1.95" fill="#8e3aca"/>
<circle cx="407.8" cy="178.1" r="1.95" fill="#0086fb"/>
<circle cx="388.4" cy="92.9" r="1.95" fill="#cc07ac"/>
<circle cx="349.0" cy="156.7" r="1.95" fill="#ff0054"/>
<circle cx="418.9" cy="34.0" r="1.95" fill="#8f39c9"/>
<circle cx="449.3" cy="157.3" r="1.95" fill="#007afb"/>
<circle cx="404.1" cy="159.1" r="1.95" fill="#ff0074"/>
<circle cx="414.4" cy="192.3" r="1.95" fill="#0088fb"/>
<circle cx="390.8" cy="99.1" r="1.95" fill="#0088fb"/>
<circle cx="403.9" cy="32.8" r="1.95" fill="#eb0099"/>
<circle cx="456.3" cy="71.9" r="1.95" fill="#008bfb"/>
<circle cx="377.1" cy="61.7" r="1.95" fill="#ff005e"/>
<circle cx="418.9" cy="92.7" r="1.95" fill="#8e3aca"/>
<circle cx="376.3" cy="41.5" r="1.95" fill="#ff0051"/>
<circle cx="410.1" cy="136.4" r="1.95" fill="#0084fb"/>
<circle cx="398.8" cy="159.1" r="1.95" fill="#ff0075"/>
<circle cx="400.3" cy="97.4" r="1.95" fill="#cb08ad"/>
<circle cx="410.9" cy="132.5" r="1.95" fill="#754dd9"/>
<circle cx="402.5" cy="408.4" r="1.95" fill="#007efc"/>
<circle cx="402.1" cy="380.5" r="1.95" fill="#006ff4"/>
<circle cx="424.1" cy="41.5" r="1.95" fill="#8c3ccb"/>
<circle cx="410.7" cy="186.0" r="1.95" fill="#0084fb"/>
<circle cx="365.3" cy="71.1" r="1.95" fill="#ff0073"/>
<circle cx="355.3" cy="158.0" r="1.95" fill="#ff0051"/>
<circle cx="409.3" cy="190.8" r="1.95" fill="#0087fb"/>
<circle cx="399.4" cy="273.0" r="1.95" fill="#0084fb"/>
<circle cx="271.2" cy="41.0" r="1.95" fill="#0082fc"/>
<circle cx="388.5" cy="186.1" r="1.95" fill="#008afb"/>
<circle cx="398.4" cy="299.2" r="1.95" fill="#0084fb"/>
<circle cx="389.7" cy="184.7" r="1.95" fill="#0089fb"/>
<circle cx="412.4" cy="243.6" r="1.95" fill="#ff0059"/>
<circle cx="411.3" cy="190.3" r="1.95" fill="#008bfb"/>
<circle cx="381.1" cy="215.2" r="1.95" fill="#ff0051"/>
<circle cx="372.0" cy="186.1" r="1.95" fill="#0087fb"/>
<circle cx="402.4" cy="39.1" r="1.95" fill="#f20092"/>
<circle cx="398.3" cy="33.1" r="1.95" fill="#f7008c"/>
<circle cx="401.7" cy="215.3" r="1.95" fill="#008afb"/>
<circle cx="398.8" cy="39.3" r="1.95" fill="#f7008c"/>
<circle cx="390.8" cy="45.8" r="1.95" fill="#ff0074"/>
<circle cx="405.9" cy="41.2" r="1.95" fill="#d403aa"/>
<circle cx="402.6" cy="274.9" r="1.95" fill="#a427bd"/>
<circle cx="446.7" cy="41.5" r="1.95" fill="#4959e0"/>
<circle cx="388.7" cy="125.9" r="1.95" fill="#9633c4"/>
<circle cx="400.8" cy="43.6" r="1.95" fill="#ff007f"/>
<circle cx="399.5" cy="271.4" r="1.95" fill="#007afb"/>
<circle cx="425.6" cy="215.3" r="1.95" fill="#0086fb"/>
<circle cx="451.3" cy="38.0" r="1.95" fill="#5456dd"/>
<circle cx="369.4" cy="156.7" r="1.95" fill="#ff0055"/>
<circle cx="360.0" cy="185.7" r="1.95" fill="#008bfb"/>
<circle cx="401.2" cy="186.4" r="1.95" fill="#0088fb"/>
<circle cx="404.6" cy="68.4" r="1.95" fill="#e000a2"/>
<circle cx="387.7" cy="97.5" r="1.95" fill="#ed0096"/>
<circle cx="403.2" cy="419.9" r="1.95" fill="#0084fb"/>
<circle cx="377.9" cy="41.3" r="1.95" fill="#ff0051"/>
<circle cx="428.7" cy="72.1" r="1.95" fill="#ca09ad"/>
<circle cx="416.4" cy="132.5" r="1.95" fill="#0084fb"/>
<circle cx="403.1" cy="194.5" r="1.95" fill="#0088fb"/>
<circle cx="398.8" cy="275.4" r="1.95" fill="#008afb"/>
<circle cx="403.0" cy="382.1" r="1.95" fill="#0076f8"/>
<circle cx="397.9" cy="159.4" r="1.95" fill="#ff0079"/>
<circle cx="406.3" cy="126.4" r="1.95" fill="#0071f5"/>
<circle cx="397.7" cy="277.4" r="1.95" fill="#0085fb"/>
<circle cx="393.0" cy="360.2" r="1.95" fill="#ff0056"/>
<circle cx="382.7" cy="124.5" r="1.95" fill="#ee0095"/>
<circle cx="414.1" cy="273.2" r="1.95" fill="#e8009b"/>
<circle cx="433.5" cy="127.6" r="1.95" fill="#008bfb"/>
<circle cx="423.0" cy="47.8" r="1.95" fill="#8f39c8"/>
<circle cx="428.7" cy="216.0" r="1.95" fill="#0086fb"/>
<circle cx="427.7" cy="73.4" r="1.95" fill="#cb08ad"/>
<circle cx="402.1" cy="163.7" r="1.95" fill="#ff0082"/>
<circle cx="413.6" cy="418.4" r="1.95" fill="#8e3ac9"/>
<circle cx="404.9" cy="192.7" r="1.95" fill="#008bfb"/>
<circle cx="399.1" cy="237.7" r="1.95" fill="#0088fb"/>
<circle cx="415.5" cy="34.8" r="1.95" fill="#8b3dcd"/>
<circle cx="457.4" cy="71.6" r="1.95" fill="#0087fb"/>
<circle cx="347.7" cy="158.0" r="1.95" fill="#ff0052"/>
<circle cx="318.7" cy="40.6" r="1.95" fill="#008afb"/>
<circle cx="430.9" cy="41.3" r="1.95" fill="#6c4fda"/>
<circle cx="381.3" cy="128.3" r="1.95" fill="#e8009c"/>
<circle cx="406.0" cy="132.3" r="1.95" fill="#0075f8"/>
<circle cx="423.2" cy="36.9" r="1.95" fill="#a229be"/>
<circle cx="402.9" cy="443.4" r="1.95" fill="#0078f9"/>
<circle cx="365.5" cy="185.6" r="1.95" fill="#0087fb"/>
<circle cx="418.2" cy="389.1" r="1.95" fill="#0085fb"/>
<circle cx="447.4" cy="70.5" r="1.95" fill="#734dd9"/>
<circle cx="423.6" cy="99.5" r="1.95" fill="#0088fb"/>
<circle cx="395.3" cy="273.2" r="1.95" fill="#008bfb"/>
<circle cx="440.0" cy="72.2" r="1.95" fill="#a328bd"/>
<circle cx="392.0" cy="41.6" r="1.95" fill="#ff0061"/>
<circle cx="414.9" cy="122.1" r="1.95" fill="#007afb"/>
<circle cx="428.9" cy="68.1" r="1.95" fill="#b31bb4"/>
<circle cx="396.8" cy="269.9" r="1.95" fill="#0086fb"/>
<circle cx="422.2" cy="72.5" r="1.95" fill="#ae1fb7"/>
<circle cx="441.8" cy="70.3" r="1.95" fill="#8444d3"/>
<circle cx="323.7" cy="44.0" r="1.95" fill="#0089fb"/>
<circle cx="365.6" cy="100.0" r="1.95" fill="#ff0067"/>
<circle cx="375.5" cy="74.5" r="1.95" fill="#ff0063"/>
<circle cx="401.8" cy="125.0" r="1.95" fill="#4559e1"/>
<circle cx="393.3" cy="447.3" r="1.95" fill="#ff005d"/>
<circle cx="417.8" cy="134.9" r="1.95" fill="#0089fb"/>
<circle cx="410.0" cy="45.6" r="1.95" fill="#c30eb0"/>
<circle cx="399.6" cy="95.4" r="1.95" fill="#dc00a4"/>
<circle cx="401.7" cy="184.3" r="1.95" fill="#0089fb"/>
<circle cx="423.2" cy="214.6" r="1.95" fill="#0088fb"/>
<circle cx="397.9" cy="70.3" r="1.95" fill="#b619b4"/>
<circle cx="401.0" cy="30.6" r="1.95" fill="#f6008d"/>
<circle cx="387.6" cy="72.5" r="1.95" fill="#f20091"/>
<circle cx="397.7" cy="103.4" r="1.95" fill="#bc14b2"/>
<circle cx="436.0" cy="39.5" r="1.95" fill="#3c5be3"/>
<circle cx="384.9" cy="188.5" r="1.95" fill="#0087fb"/>
<circle cx="394.0" cy="188.1" r="1.95" fill="#0085fb"/>
<circle cx="402.6" cy="211.4" r="1.95" fill="#0084fb"/>
<circle cx="400.5" cy="253.2" r="1.95" fill="#0085fb"/>
<circle cx="402.6" cy="208.3" r="1.95" fill="#008afb"/>
<circle cx="415.0" cy="136.1" r="1.95" fill="#0084fb"/>
<circle cx="427.1" cy="45.4" r="1.95" fill="#9633c4"/>
<circle cx="459.8" cy="43.6" r="1.95" fill="#7a4bd8"/>
<circle cx="408.7" cy="33.4" r="1.95" fill="#dc00a4"/>
<circle cx="284.6" cy="42.1" r="1.95" fill="#0086fb"/>
<circle cx="395.6" cy="36.8" r="1.95" fill="#ff0060"/>
<circle cx="404.2" cy="177.6" r="1.95" fill="#0089fb"/>
<circle cx="383.4" cy="216.3" r="1.95" fill="#ff005c"/>
<circle cx="400.5" cy="212.9" r="1.95" fill="#008afb"/>
<circle cx="417.1" cy="101.2" r="1.95" fill="#b21cb5"/>
<circle cx="379.7" cy="79.7" r="1.95" fill="#ff0068"/>
<circle cx="378.4" cy="97.4" r="1.95" fill="#ff0051"/>
<circle cx="419.2" cy="41.0" r="1.95" fill="#a12abf"/>
<circle cx="337.2" cy="157.4" r="1.95" fill="#ff0057"/>
<circle cx="444.3" cy="70.0" r="1.95" fill="#4759e0"/>
<circle cx="396.9" cy="45.5" r="1.95" fill="#ff005d"/>
<circle cx="402.0" cy="322.8" r="1.95" fill="#9534c5"/>
<circle cx="396.0" cy="126.7" r="1.95" fill="#9633c4"/>
<circle cx="375.4" cy="184.5" r="1.95" fill="#0087fb"/>
<circle cx="391.2" cy="97.3" r="1.95" fill="#cf05ab"/>
<circle cx="375.5" cy="41.0" r="1.95" fill="#ff0051"/>
<circle cx="384.6" cy="97.5" r="1.95" fill="#ff0051"/>
<circle cx="411.9" cy="188.2" r="1.95" fill="#754dd9"/>
<circle cx="378.9" cy="78.6" r="1.95" fill="#f10093"/>
<circle cx="391.8" cy="35.6" r="1.95" fill="#ff0075"/>
<circle cx="411.7" cy="331.3" r="1.95" fill="#ff0063"/>
<circle cx="415.9" cy="125.9" r="1.95" fill="#0084fb"/>
<circle cx="386.8" cy="216.9" r="1.95" fill="#ff006d"/>
<circle cx="399.1" cy="248.7" r="1.95" fill="#0086fb"/>
<circle cx="398.9" cy="91.1" r="1.95" fill="#bb14b2"/>
<circle cx="398.0" cy="215.3" r="1.95" fill="#5955dc"/>
<circle cx="410.7" cy="178.1" r="1.95" fill="#0089fb"/>
<circle cx="380.9" cy="99.2" r="1.95" fill="#ff0051"/>
<circle cx="414.1" cy="37.1" r="1.95" fill="#b519b4"/>
<circle cx="375.5" cy="72.1" r="1.95" fill="#ff0074"/>
<circle cx="395.9" cy="134.7" r="1.95" fill="#9038c8"/>
<circle cx="375.6" cy="188.1" r="1.95" fill="#008afb"/>
<circle cx="395.2" cy="186.0" r="1.95" fill="#0089fb"/>
<circle cx="442.6" cy="39.4" r="1.95" fill="#435ae1"/>
<circle cx="409.5" cy="130.2" r="1.95" fill="#008bfb"/>
<circle cx="350.4" cy="128.7" r="1.95" fill="#ff0052"/>
<circle cx="376.0" cy="157.4" r="1.95" fill="#ff005d"/>
<circle cx="394.5" cy="302.5" r="1.95" fill="#008bfb"/>
<circle cx="398.8" cy="273.1" r="1.95" fill="#008afb"/>
<circle cx="386.3" cy="126.0" r="1.95" fill="#d800a8"/>
<circle cx="408.7" cy="47.7" r="1.95" fill="#de00a3"/>
<circle cx="377.4" cy="79.0" r="1.95" fill="#f20091"/>
<circle cx="409.3" cy="212.5" r="1.95" fill="#0087fb"/>
<circle cx="416.3" cy="132.6" r="1.95" fill="#008bfb"/>
<circle cx="434.1" cy="72.2" r="1.95" fill="#d402a9"/>
<circle cx="387.2" cy="184.5" r="1.95" fill="#0084fb"/>
<circle cx="394.7" cy="126.7" r="1.95" fill="#e4009e"/>
<circle cx="430.9" cy="127.5" r="1.95" fill="#008bfb"/>
<circle cx="453.6" cy="72.9" r="1.95" fill="#0084fb"/>
<circle cx="402.5" cy="222.3" r="1.95" fill="#0085fb"/>
<circle cx="435.8" cy="68.4" r="1.95" fill="#ae1fb8"/>
<circle cx="396.6" cy="69.1" r="1.95" fill="#dc00a4"/>
<circle cx="387.1" cy="183.0" r="1.95" fill="#0089fb"/>
<circle cx="402.8" cy="161.4" r="1.95" fill="#ff0075"/>
<circle cx="417.0" cy="106.2" r="1.95" fill="#9d2dc1"/>
<circle cx="376.2" cy="65.8" r="1.95" fill="#ff0069"/>
<circle cx="307.2" cy="41.0" r="1.95" fill="#007bfb"/>
<circle cx="378.9" cy="74.3" r="1.95" fill="#ff0073"/>
<circle cx="402.7" cy="300.1" r="1.95" fill="#0072f6"/>
<circle cx="386.3" cy="96.2" r="1.95" fill="#ff0075"/>
<circle cx="425.7" cy="39.3" r="1.95" fill="#8840cf"/>
<circle cx="421.5" cy="214.6" r="1.95" fill="#0086fb"/>
<circle cx="402.6" cy="183.9" r="1.95" fill="#0086fb"/>
<circle cx="394.2" cy="215.5" r="1.95" fill="#3f5be2"/>
<circle cx="413.2" cy="119.5" r="1.95" fill="#0085fb"/>
<circle cx="324.4" cy="157.4" r="1.95" fill="#ff0053"/>
<circle cx="419.1" cy="215.0" r="1.95" fill="#0086fb"/>
<circle cx="414.2" cy="186.2" r="1.95" fill="#008bfb"/>
<circle cx="415.6" cy="101.1" r="1.95" fill="#ae1fb7"/>
<circle cx="411.9" cy="39.5" r="1.95" fill="#be12b1"/>
<circle cx="426.3" cy="100.9" r="1.95" fill="#784cd9"/>
<circle cx="397.6" cy="185.1" r="1.95" fill="#0089fb"/>
<circle cx="440.9" cy="68.3" r="1.95" fill="#bd13b1"/>
<circle cx="395.4" cy="108.8" r="1.95" fill="#d402a9"/>
<circle cx="388.0" cy="123.8" r="1.95" fill="#e8009b"/>
<circle cx="405.4" cy="192.4" r="1.95" fill="#0089fb"/>
<circle cx="346.2" cy="157.4" r="1.95" fill="#ff0056"/>
<circle cx="398.7" cy="43.7" r="1.95" fill="#ff006d"/>
<circle cx="399.5" cy="277.5" r="1.95" fill="#007ffc"/>
<circle cx="396.2" cy="45.4" r="1.95" fill="#ff0073"/>
<circle cx="404.2" cy="283.2" r="1.95" fill="#e5009e"/>
<circle cx="398.0" cy="302.0" r="1.95" fill="#007ffc"/>
<circle cx="387.4" cy="132.5" r="1.95" fill="#e8009b"/>
<circle cx="414.6" cy="389.1" r="1.95" fill="#ff005b"/>
<circle cx="416.4" cy="39.5" r="1.95" fill="#9732c4"/>
<circle cx="403.5" cy="239.5" r="1.95" fill="#b31bb4"/>
<circle cx="424.0" cy="39.0" r="1.95" fill="#b31bb4"/>
<circle cx="398.9" cy="277.8" r="1.95" fill="#0089fb"/>
<circle cx="383.8" cy="75.4" r="1.95" fill="#f7008c"/>
<circle cx="356.3" cy="186.4" r="1.95" fill="#0088fb"/>
<circle cx="405.5" cy="215.3" r="1.95" fill="#0089fb"/>
<circle cx="389.3" cy="39.3" r="1.95" fill="#ff005e"/>
<circle cx="434.4" cy="41.6" r="1.95" fill="#0071f5"/>
<circle cx="407.0" cy="188.1" r="1.95" fill="#0087fb"/>
<circle cx="424.4" cy="37.2" r="1.95" fill="#9633c4"/>
<circle cx="389.2" cy="131.1" r="1.95" fill="#d005ab"/>
<circle cx="404.5" cy="72.2" r="1.95" fill="#e4009e"/>
<circle cx="392.3" cy="186.3" r="1.95" fill="#008bfb"/>
<circle cx="402.9" cy="437.2" r="1.95" fill="#0074f7"/>
<circle cx="381.7" cy="125.4" r="1.95" fill="#dc00a4"/>
<circle cx="444.1" cy="38.5" r="1.95" fill="#0071f5"/>
<circle cx="417.7" cy="37.2" r="1.95" fill="#9633c4"/>
<circle cx="400.6" cy="246.6" r="1.95" fill="#0086fb"/>
<circle cx="448.3" cy="68.4" r="1.95" fill="#0084fb"/>
<circle cx="403.1" cy="95.7" r="1.95" fill="#b31bb4"/>
<circle cx="403.8" cy="51.9" r="1.95" fill="#f30091"/>
<circle cx="394.7" cy="301.1" r="1.95" fill="#0080fc"/>
<circle cx="406.7" cy="100.3" r="1.95" fill="#b01db6"/>
<circle cx="399.9" cy="299.9" r="1.95" fill="#0076f9"/>
<circle cx="405.7" cy="299.8" r="1.95" fill="#0084fb"/>
<circle cx="414.8" cy="103.3" r="1.95" fill="#ca09ad"/>
<circle cx="336.9" cy="157.8" r="1.95" fill="#ff0051"/>
<circle cx="399.6" cy="131.3" r="1.95" fill="#4d58df"/>
<circle cx="413.7" cy="124.2" r="1.95" fill="#008bfb"/>
<circle cx="401.9" cy="220.7" r="1.95" fill="#008afb"/>
<circle cx="402.0" cy="213.0" r="1.95" fill="#0085fb"/>
<circle cx="401.2" cy="49.5" r="1.95" fill="#f7008c"/>
<circle cx="421.0" cy="94.9" r="1.95" fill="#0088fb"/>
<circle cx="451.8" cy="44.6" r="1.95" fill="#774cd9"/>
<circle cx="397.0" cy="99.6" r="1.95" fill="#ce06ac"/>
<circle cx="408.9" cy="41.1" r="1.95" fill="#dc00a5"/>
<circle cx="310.6" cy="40.2" r="1.95" fill="#0084fb"/>
<circle cx="403.3" cy="437.2" r="1.95" fill="#007ffc"/>
<circle cx="361.5" cy="185.7" r="1.95" fill="#0089fb"/>
<circle cx="367.1" cy="157.2" r="1.95" fill="#ff005a"/>
<circle cx="404.3" cy="180.0" r="1.95" fill="#0089fb"/>
<circle cx="378.3" cy="65.8" r="1.95" fill="#ff005f"/>
<circle cx="362.8" cy="185.7" r="1.95" fill="#0089fb"/>
<circle cx="382.5" cy="75.9" r="1.95" fill="#ff0070"/>
<circle cx="420.2" cy="48.6" r="1.95" fill="#b817b3"/>
<circle cx="395.6" cy="101.4" r="1.95" fill="#b01db6"/>
<circle cx="402.6" cy="411.7" r="1.95" fill="#0076f9"/>
<circle cx="386.3" cy="72.3" r="1.95" fill="#e8009b"/>
<circle cx="450.8" cy="72.8" r="1.95" fill="#0074f7"/>
<circle cx="420.2" cy="45.5" r="1.95" fill="#9b2fc2"/>
<circle cx="402.5" cy="359.5" r="1.95" fill="#dc00a4"/>
<circle cx="326.8" cy="41.0" r="1.95" fill="#0085fb"/>
<circle cx="402.3" cy="294.8" r="1.95" fill="#007afb"/>
<circle cx="400.9" cy="158.9" r="1.95" fill="#ff0076"/>
<circle cx="409.9" cy="243.6" r="1.95" fill="#ff005a"/>
<circle cx="398.1" cy="275.5" r="1.95" fill="#0084fb"/>
<circle cx="442.7" cy="43.7" r="1.95" fill="#744dd9"/>
<circle cx="396.5" cy="273.2" r="1.95" fill="#0089fb"/>
<circle cx="308.0" cy="41.3" r="1.95" fill="#0086fb"/>
<circle cx="403.9" cy="304.7" r="1.95" fill="#893fce"/>
<circle cx="401.0" cy="38.9" r="1.95" fill="#f00093"/>
<circle cx="401.7" cy="152.8" r="1.95" fill="#ff0076"/>
<circle cx="465.2" cy="71.0" r="1.95" fill="#0089fb"/>
<circle cx="353.6" cy="158.0" r="1.95" fill="#ff0058"/>
<circle cx="418.1" cy="95.0" r="1.95" fill="#cc07ac"/>
<circle cx="391.3" cy="130.8" r="1.95" fill="#ce06ac"/>
<circle cx="408.3" cy="194.8" r="1.95" fill="#008bfb"/>
<circle cx="404.0" cy="157.1" r="1.95" fill="#ff0079"/>
<circle cx="424.7" cy="43.6" r="1.95" fill="#8642d1"/>
<circle cx="399.8" cy="302.5" r="1.95" fill="#0088fb"/>
<circle cx="404.1" cy="101.7" r="1.95" fill="#a527bd"/>
<circle cx="414.7" cy="190.7" r="1.95" fill="#0088fb"/>
<circle cx="354.2" cy="157.3" r="1.95" fill="#ff005a"/>
<circle cx="449.1" cy="39.0" r="1.95" fill="#8c3ccb"/>
<circle cx="408.3" cy="178.0" r="1.95" fill="#0086fb"/>
<circle cx="320.1" cy="41.2" r="1.95" fill="#008bfb"/>
<circle cx="396.6" cy="389.1" r="1.95" fill="#8642d1"/>
<circle cx="419.3" cy="39.1" r="1.95" fill="#9137c7"/>
<circle cx="414.1" cy="244.5" r="1.95" fill="#ff0059"/>
<circle cx="400.1" cy="147.7" r="1.95" fill="#f10092"/>
<circle cx="402.0" cy="104.0" r="1.95" fill="#b817b3"/>
<circle cx="326.7" cy="42.6" r="1.95" fill="#893fce"/>
<circle cx="281.8" cy="42.2" r="1.95" fill="#008bfb"/>
<circle cx="403.2" cy="350.2" r="1.95" fill="#e6009d"/>
<circle cx="287.6" cy="38.2" r="1.95" fill="#0086fb"/>
<circle cx="316.0" cy="41.2" r="1.95" fill="#0084fb"/>
<circle cx="361.4" cy="186.9" r="1.95" fill="#0087fb"/>
<circle cx="413.9" cy="243.6" r="1.95" fill="#ff005a"/>
<circle cx="393.7" cy="110.3" r="1.95" fill="#c50caf"/>
<circle cx="399.2" cy="186.1" r="1.95" fill="#0089fb"/>
<circle cx="399.8" cy="128.0" r="1.95" fill="#8444d3"/>
<circle cx="358.4" cy="128.0" r="1.95" fill="#ff0051"/>
<circle cx="422.0" cy="39.2" r="1.95" fill="#9c2ec1"/>
<circle cx="360.7" cy="157.0" r="1.95" fill="#ff0052"/>
<circle cx="413.4" cy="184.2" r="1.95" fill="#0086fb"/>
<circle cx="391.6" cy="302.4" r="1.95" fill="#0086fb"/>
<circle cx="396.8" cy="35.0" r="1.95" fill="#ff005d"/>
<circle cx="461.4" cy="69.3" r="1.95" fill="#008bfb"/>
<circle cx="392.5" cy="70.4" r="1.95" fill="#e3009f"/>
<circle cx="401.5" cy="306.8" r="1.95" fill="#0077f9"/>
<circle cx="334.8" cy="157.7" r="1.95" fill="#ff0052"/>
<circle cx="414.8" cy="103.4" r="1.95" fill="#0088fb"/>
<circle cx="377.7" cy="41.0" r="1.95" fill="#ff0051"/>
<circle cx="401.8" cy="161.8" r="1.95" fill="#f5008e"/>
<circle cx="421.8" cy="34.1" r="1.95" fill="#a427bd"/>
<circle cx="307.6" cy="44.2" r="1.95" fill="#0089fb"/>
<circle cx="462.6" cy="69.4" r="1.95" fill="#007bfb"/>
<circle cx="441.9" cy="68.3" r="1.95" fill="#d402a9"/>
<circle cx="391.6" cy="36.8" r="1.95" fill="#ff0051"/>
<circle cx="407.7" cy="270.7" r="1.95" fill="#ff0072"/>
<circle cx="412.2" cy="101.7" r="1.95" fill="#9c2ec1"/>
<circle cx="352.5" cy="158.0" r="1.95" fill="#ff0057"/>
<circle cx="400.5" cy="271.0" r="1.95" fill="#0084fb"/>
<circle cx="405.6" cy="296.4" r="1.95" fill="#0078f9"/>
<circle cx="377.5" cy="156.9" r="1.95" fill="#ff005c"/>
<circle cx="411.9" cy="68.2" r="1.95" fill="#cc08ad"/>
<circle cx="391.2" cy="215.5" r="1.95" fill="#ff0074"/>
<circle cx="382.4" cy="72.2" r="1.95" fill="#e7009c"/>
<circle cx="382.8" cy="65.8" r="1.95" fill="#ff0077"/>
<circle cx="327.7" cy="40.5" r="1.95" fill="#0089fb"/>
<circle cx="388.5" cy="105.4" r="1.95" fill="#e7009c"/>
<circle cx="316.0" cy="40.5" r="1.95" fill="#0089fb"/>
<circle cx="282.1" cy="41.2" r="1.95" fill="#008bfb"/>
<circle cx="396.0" cy="240.3" r="1.95" fill="#008bfb"/>
<circle cx="447.6" cy="43.6" r="1.95" fill="#774cd9"/>
<circle cx="401.4" cy="217.1" r="1.95" fill="#0084fb"/>
<circle cx="399.1" cy="360.3" r="1.95" fill="#ff0059"/>
<circle cx="403.1" cy="378.9" r="1.95" fill="#0078f9"/>
<circle cx="403.4" cy="445.0" r="1.95" fill="#007dfc"/>
<circle cx="392.7" cy="188.2" r="1.95" fill="#0084fb"/>
<circle cx="398.8" cy="187.6" r="1.95" fill="#0085fb"/>
<circle cx="397.3" cy="103.4" r="1.95" fill="#cb08ad"/>
<circle cx="398.2" cy="49.4" r="1.95" fill="#ff006a"/>
<circle cx="422.2" cy="67.3" r="1.95" fill="#0084fb"/>
<circle cx="416.0" cy="99.2" r="1.95" fill="#734dd9"/>
<circle cx="408.3" cy="130.6" r="1.95" fill="#0085fb"/>
<circle cx="361.3" cy="128.7" r="1.95" fill="#ff0051"/>
<circle cx="408.5" cy="49.2" r="1.95" fill="#cf06ab"/>
<circle cx="402.8" cy="333.6" r="1.95" fill="#fa0089"/>
<circle cx="409.2" cy="124.0" r="1.95" fill="#008bfb"/>
<circle cx="451.7" cy="43.2" r="1.95" fill="#784cd9"/>
<circle cx="402.6" cy="223.8" r="1.95" fill="#0084fb"/>
<circle cx="403.9" cy="45.3" r="1.95" fill="#dc00a4"/>
<circle cx="387.6" cy="73.1" r="1.95" fill="#c60bae"/>
<circle cx="405.2" cy="50.8" r="1.95" fill="#ef0094"/>
<circle cx="417.5" cy="215.5" r="1.95" fill="#0085fb"/>
<circle cx="419.6" cy="133.7" r="1.95" fill="#008bfb"/>
<circle cx="456.2" cy="157.5" r="1.95" fill="#008bfb"/>
<circle cx="374.5" cy="101.0" r="1.95" fill="#ff0051"/>
<circle cx="402.1" cy="298.2" r="1.95" fill="#0076f8"/>
<circle cx="402.7" cy="72.1" r="1.95" fill="#d303aa"/>
<circle cx="443.0" cy="70.0" r="1.95" fill="#6452db"/>
<circle cx="398.7" cy="47.5" r="1.95" fill="#ff0065"/>
<circle cx="399.0" cy="250.4" r="1.95" fill="#0085fb"/>
<circle cx="402.9" cy="97.5" r="1.95" fill="#0088fb"/>
<circle cx="380.9" cy="97.0" r="1.95" fill="#ff0064"/>
<circle cx="423.2" cy="45.5" r="1.95" fill="#b31bb4"/>
<circle cx="324.6" cy="157.6" r="1.95" fill="#ff0054"/>
<circle cx="430.9" cy="215.9" r="1.95" fill="#0085fb"/>
<circle cx="330.7" cy="41.2" r="1.95" fill="#0084fb"/>
<circle cx="388.7" cy="105.6" r="1.95" fill="#0088fb"/>
<circle cx="390.8" cy="103.4" r="1.95" fill="#db00a6"/>
<circle cx="367.8" cy="70.1" r="1.95" fill="#ff005e"/>
<circle cx="421.6" cy="245.2" r="1.95" fill="#ff005a"/>
<circle cx="383.1" cy="124.6" r="1.95" fill="#e8009c"/>
<circle cx="396.7" cy="418.1" r="1.95" fill="#ff0059"/>
<circle cx="406.5" cy="35.3" r="1.95" fill="#f00094"/>
<circle cx="396.3" cy="36.9" r="1.95" fill="#ff0078"/>
<circle cx="409.5" cy="182.3" r="1.95" fill="#008bfb"/>
<circle cx="401.9" cy="186.2" r="1.95" fill="#008afb"/>
<circle cx="419.5" cy="122.9" r="1.95" fill="#0084fb"/>
<circle cx="362.4" cy="128.0" r="1.95" fill="#ff0051"/>
<circle cx="446.1" cy="157.3" r="1.95" fill="#0088fb"/>
<circle cx="311.9" cy="41.0" r="1.95" fill="#0085fb"/>
<circle cx="378.4" cy="60.1" r="1.95" fill="#ff0078"/>
<circle cx="394.2" cy="110.2" r="1.95" fill="#d402a9"/>
<circle cx="406.5" cy="182.4" r="1.95" fill="#0086fb"/>
<circle cx="405.3" cy="300.5" r="1.95" fill="#744dd9"/>
<circle cx="419.5" cy="37.1" r="1.95" fill="#9633c4"/>
<circle cx="410.5" cy="180.2" r="1.95" fill="#008bfb"/>
<circle cx="405.2" cy="188.3" r="1.95" fill="#0089fb"/>
<circle cx="405.3" cy="128.2" r="1.95" fill="#2a5fe7"/>
<circle cx="402.7" cy="43.4" r="1.95" fill="#f30091"/>
<circle cx="400.6" cy="128.0" r="1.95" fill="#4b58df"/>
<circle cx="358.0" cy="157.0" r="1.95" fill="#ff0053"/>
<circle cx="356.9" cy="157.6" r="1.95" fill="#ff005d"/>
<circle cx="375.7" cy="70.1" r="1.95" fill="#ff0070"/>
<circle cx="413.9" cy="122.0" r="1.95" fill="#0078f9"/>
<circle cx="368.0" cy="158.0" r="1.95" fill="#ff0051"/>
<circle cx="404.2" cy="70.4" r="1.95" fill="#be12b1"/>
<circle cx="389.2" cy="44.6" r="1.95" fill="#ff0051"/>
<circle cx="400.8" cy="250.4" r="1.95" fill="#0086fb"/>
<circle cx="303.0" cy="41.6" r="1.95" fill="#0085fb"/>
<circle cx="322.9" cy="39.0" r="1.95" fill="#0087fb"/>
<circle cx="402.0" cy="160.5" r="1.95" fill="#f5008f"/>
<circle cx="354.8" cy="186.3" r="1.95" fill="#0089fb"/>
<circle cx="416.0" cy="134.3" r="1.95" fill="#0088fb"/>
<circle cx="402.5" cy="370.4" r="1.95" fill="#e000a1"/>
<circle cx="396.3" cy="47.7" r="1.95" fill="#ff0068"/>
<circle cx="423.5" cy="216.1" r="1.95" fill="#0087fb"/>
<circle cx="408.0" cy="124.2" r="1.95" fill="#754dd9"/>
<circle cx="399.1" cy="237.7" r="1.95" fill="#008bfb"/>
<circle cx="403.2" cy="361.1" r="1.95" fill="#dc00a4"/>
<circle cx="398.3" cy="31.7" r="1.95" fill="#ff0077"/>
<circle cx="405.2" cy="49.5" r="1.95" fill="#eb0099"/>
<circle cx="458.0" cy="38.5" r="1.95" fill="#7f49d7"/>
<circle cx="402.6" cy="35.3" r="1.95" fill="#ff006f"/>
<circle cx="406.3" cy="130.6" r="1.95" fill="#0080fc"/>
<circle cx="462.9" cy="71.2" r="1.95" fill="#0088fb"/>
<circle cx="393.2" cy="389.3" r="1.95" fill="#0085fb"/>
<circle cx="395.5" cy="105.3" r="1.95" fill="#c60bae"/>
<circle cx="466.4" cy="69.7" r="1.95" fill="#007efc"/>
<circle cx="386.3" cy="70.2" r="1.95" fill="#f10092"/>
<circle cx="414.7" cy="190.2" r="1.95" fill="#008bfb"/>
<circle cx="413.5" cy="99.1" r="1.95" fill="#0088fb"/>
<circle cx="422.4" cy="68.3" r="1.95" fill="#0084fb"/>
<circle cx="421.4" cy="126.2" r="1.95" fill="#008bfb"/>
<circle cx="367.7" cy="187.2" r="1.95" fill="#008bfb"/>
<circle cx="412.6" cy="99.1" r="1.95" fill="#a427bd"/>
<circle cx="457.6" cy="157.3" r="1.95" fill="#0089fb"/>
<circle cx="412.8" cy="130.3" r="1.95" fill="#008bfb"/>
<circle cx="416.1" cy="72.1" r="1.95" fill="#cc07ac"/>
<circle cx="414.7" cy="93.4" r="1.95" fill="#c70bae"/>
<circle cx="403.0" cy="388.5" r="1.95" fill="#006ff4"/>
<circle cx="371.6" cy="184.8" r="1.95" fill="#0089fb"/>
<circle cx="404.2" cy="30.9" r="1.95" fill="#e4009e"/>
<circle cx="428.2" cy="39.4" r="1.95" fill="#9038c8"/>
<circle cx="375.6" cy="97.3" r="1.95" fill="#ff006a"/>
<circle cx="419.5" cy="126.0" r="1.95" fill="#008bfb"/>
<circle cx="418.4" cy="68.3" r="1.95" fill="#dc00a4"/>
<circle cx="416.0" cy="184.0" r="1.95" fill="#0089fb"/>
<circle cx="466.3" cy="70.0" r="1.95" fill="#008bfb"/>
<circle cx="395.6" cy="38.9" r="1.95" fill="#ff0060"/>
<circle cx="426.6" cy="99.1" r="1.95" fill="#9038c8"/>
<circle cx="404.8" cy="179.7" r="1.95" fill="#0084fb"/>
<circle cx="396.8" cy="238.2" r="1.95" fill="#008bfb"/>
<circle cx="413.4" cy="192.4" r="1.95" fill="#008afb"/>
<circle cx="398.1" cy="50.9" r="1.95" fill="#ff0067"/>
<circle cx="402.2" cy="45.5" r="1.95" fill="#f4008f"/>
<circle cx="398.2" cy="300.3" r="1.95" fill="#008bfb"/>
<circle cx="293.5" cy="40.5" r="1.95" fill="#008bfb"/>
<circle cx="372.3" cy="184.8" r="1.95" fill="#0088fb"/>
<circle cx="344.7" cy="158.0" r="1.95" fill="#ff0055"/>
<circle cx="416.9" cy="273.5" r="1.95" fill="#007dfc"/>
<circle cx="409.6" cy="180.3" r="1.95" fill="#0089fb"/>
<circle cx="386.5" cy="43.1" r="1.95" fill="#ff0055"/>
<circle cx="423.0" cy="128.6" r="1.95" fill="#0088fb"/>
<circle cx="354.9" cy="157.6" r="1.95" fill="#ff0051"/>
<circle cx="399.5" cy="71.4" r="1.95" fill="#d005ab"/>
<circle cx="413.7" cy="104.3" r="1.95" fill="#bc13b1"/>
<circle cx="407.3" cy="275.9" r="1.95" fill="#a824ba"/>
<circle cx="353.6" cy="128.2" r="1.95" fill="#ff0052"/>
<circle cx="381.8" cy="131.2" r="1.95" fill="#ee0095"/>
<circle cx="385.6" cy="41.2" r="1.95" fill="#ff0051"/>
<circle cx="418.8" cy="72.7" r="1.95" fill="#c20fb0"/>
<circle cx="402.5" cy="303.1" r="1.95" fill="#008bfb"/>
<circle cx="436.0" cy="41.4" r="1.95" fill="#6950da"/>
<circle cx="413.0" cy="190.8" r="1.95" fill="#0087fb"/>
<circle cx="404.8" cy="130.2" r="1.95" fill="#754dd9"/>
<circle cx="415.7" cy="124.2" r="1.95" fill="#008bfb"/>
<circle cx="383.9" cy="65.2" r="1.95" fill="#f4008f"/>
<circle cx="369.1" cy="70.5" r="1.95" fill="#ff0075"/>
<circle cx="414.2" cy="39.1" r="1.95" fill="#9c2ec2"/>
<circle cx="378.2" cy="78.6" r="1.95" fill="#ff0063"/>
<circle cx="411.3" cy="245.0" r="1.95" fill="#ff0053"/>
<circle cx="390.2" cy="188.1" r="1.95" fill="#008bfb"/>
<circle cx="417.9" cy="216.1" r="1.95" fill="#0088fb"/>
<circle cx="398.7" cy="305.4" r="1.95" fill="#007efc"/>
<circle cx="380.7" cy="215.9" r="1.95" fill="#ff0058"/>
<circle cx="401.0" cy="163.7" r="1.95" fill="#f20091"/>
<circle cx="350.6" cy="186.6" r="1.95" fill="#0086fb"/>
<circle cx="377.7" cy="72.3" r="1.95" fill="#ff006d"/>
<circle cx="405.7" cy="100.3" r="1.95" fill="#c60caf"/>
<circle cx="420.1" cy="103.2" r="1.95" fill="#8e3ac9"/>
<circle cx="406.7" cy="72.3" r="1.95" fill="#e8009b"/>
<circle cx="407.2" cy="130.5" r="1.95" fill="#0082fc"/>
<circle cx="395.2" cy="184.3" r="1.95" fill="#0087fb"/>
<circle cx="396.0" cy="120.3" r="1.95" fill="#e4009e"/>
<circle cx="404.0" cy="295.2" r="1.95" fill="#0085fb"/>
<circle cx="296.7" cy="41.6" r="1.95" fill="#0089fb"/>
<circle cx="390.1" cy="184.5" r="1.95" fill="#0087fb"/>
<circle cx="415.4" cy="134.3" r="1.95" fill="#008afb"/>
<circle cx="401.9" cy="378.9" r="1.95" fill="#0076f8"/>
<circle cx="401.8" cy="181.9" r="1.95" fill="#0088fb"/>
<circle cx="403.2" cy="212.4" r="1.95" fill="#0086fb"/>
<circle cx="402.0" cy="393.3" r="1.95" fill="#335de5"/>
<circle cx="417.3" cy="187.3" r="1.95" fill="#0084fb"/>
<circle cx="324.0" cy="39.4" r="1.95" fill="#0086fb"/>
<circle cx="386.7" cy="122.6" r="1.95" fill="#d402a9"/>
<circle cx="445.7" cy="68.5" r="1.95" fill="#5f54db"/>
<circle cx="407.7" cy="126.4" r="1.95" fill="#008bfb"/>
<circle cx="414.9" cy="126.3" r="1.95" fill="#0085fb"/>
<circle cx="358.8" cy="158.0" r="1.95" fill="#ff0054"/>
<circle cx="420.1" cy="95.0" r="1.95" fill="#ab21b9"/>
<circle cx="368.3" cy="100.2" r="1.95" fill="#ff005b"/>
<circle cx="386.2" cy="73.9" r="1.95" fill="#f6008d"/>
<circle cx="414.3" cy="105.2" r="1.95" fill="#9633c4"/>
<circle cx="405.5" cy="245.1" r="1.95" fill="#cd07ac"/>
<circle cx="392.3" cy="184.2" r="1.95" fill="#008afb"/>
<circle cx="429.3" cy="128.4" r="1.95" fill="#008bfb"/>
<circle cx="397.2" cy="105.9" r="1.95" fill="#c10fb0"/>
<circle cx="401.6" cy="70.0" r="1.95" fill="#dc00a4"/>
<circle cx="425.3" cy="126.8" r="1.95" fill="#008bfb"/>
<circle cx="431.4" cy="73.0" r="1.95" fill="#9435c6"/>
<circle cx="350.6" cy="186.3" r="1.95" fill="#0088fb"/>
<circle cx="405.8" cy="122.1" r="1.95" fill="#007cfc"/>
<circle cx="318.5" cy="42.0" r="1.95" fill="#0084fb"/>
<circle cx="402.1" cy="190.5" r="1.95" fill="#0088fb"/>
<circle cx="405.3" cy="217.6" r="1.95" fill="#0086fb"/>
<circle cx="403.1" cy="413.4" r="1.95" fill="#0077f9"/>
<circle cx="402.5" cy="415.0" r="1.95" fill="#007efc"/>
<circle cx="402.8" cy="341.4" r="1.95" fill="#ff007a"/>
<circle cx="410.7" cy="184.3" r="1.95" fill="#0087fb"/>
<circle cx="412.3" cy="119.8" r="1.95" fill="#0086fb"/>
<circle cx="417.6" cy="105.8" r="1.95" fill="#8d3bcb"/>
<circle cx="417.8" cy="214.6" r="1.95" fill="#0088fb"/>
<circle cx="403.9" cy="124.7" r="1.95" fill="#2161e9"/>
<circle cx="400.4" cy="106.0" r="1.95" fill="#8e3aca"/>
<circle cx="373.9" cy="184.6" r="1.95" fill="#008bfb"/>
<circle cx="392.8" cy="69.2" r="1.95" fill="#e5009e"/>
<circle cx="410.7" cy="67.5" r="1.95" fill="#cc07ac"/>
<circle cx="412.4" cy="97.0" r="1.95" fill="#a02bbf"/>
<circle cx="403.5" cy="250.7" r="1.95" fill="#6352db"/>
<circle cx="317.5" cy="42.1" r="1.95" fill="#0084fb"/>
<circle cx="427.3" cy="214.6" r="1.95" fill="#0088fb"/>
<circle cx="441.2" cy="38.2" r="1.95" fill="#5c54dc"/>
<circle cx="308.5" cy="38.8" r="1.95" fill="#0087fb"/>
<circle cx="403.1" cy="215.1" r="1.95" fill="#0089fb"/>
<circle cx="388.4" cy="99.4" r="1.95" fill="#c60bae"/>
<circle cx="408.7" cy="244.5" r="1.95" fill="#ff005c"/>
<circle cx="360.0" cy="128.7" r="1.95" fill="#ff0051"/>
<circle cx="401.2" cy="43.3" r="1.95" fill="#ef0094"/>
<circle cx="349.1" cy="128.5" r="1.95" fill="#ff0051"/>
<circle cx="452.9" cy="39.4" r="1.95" fill="#4f57de"/>
<circle cx="447.1" cy="68.4" r="1.95" fill="#6252db"/>
<circle cx="435.0" cy="39.9" r="1.95" fill="#4c58df"/>
<circle cx="419.2" cy="214.6" r="1.95" fill="#0087fb"/>
<circle cx="385.7" cy="213.9" r="1.95" fill="#c60bae"/>
<circle cx="403.7" cy="212.9" r="1.95" fill="#008afb"/>
<circle cx="400.9" cy="277.5" r="1.95" fill="#007bfb"/>
<circle cx="416.7" cy="157.1" r="1.95" fill="#0071f5"/>
<circle cx="450.2" cy="38.3" r="1.95" fill="#6452db"/>
<circle cx="394.7" cy="186.0" r="1.95" fill="#0089fb"/>
<circle cx="407.0" cy="251.4" r="1.95" fill="#6053db"/>
<circle cx="418.4" cy="105.9" r="1.95" fill="#734dd9"/>
<circle cx="402.6" cy="418.3" r="1.95" fill="#0076f9"/>
<circle cx="414.8" cy="180.3" r="1.95" fill="#0088fb"/>
<circle cx="417.5" cy="68.3" r="1.95" fill="#b817b3"/>
<circle cx="370.3" cy="41.0" r="1.95" fill="#ff0051"/>
<circle cx="402.4" cy="281.5" r="1.95" fill="#cf06ab"/>
<circle cx="396.9" cy="107.3" r="1.95" fill="#dc00a4"/>
<circle cx="374.1" cy="186.3" r="1.95" fill="#008afb"/>
<circle cx="388.1" cy="303.0" r="1.95" fill="#007afb"/>
<circle cx="425.4" cy="128.6" r="1.95" fill="#008bfb"/>
<circle cx="396.9" cy="242.4" r="1.95" fill="#0089fb"/>
<circle cx="403.0" cy="383.7" r="1.95" fill="#006ff4"/>
<circle cx="402.1" cy="385.3" r="1.95" fill="#0075f8"/>
<circle cx="445.5" cy="67.5" r="1.95" fill="#754dd9"/>
<circle cx="354.6" cy="128.0" r="1.95" fill="#ff0051"/>
<circle cx="402.7" cy="190.4" r="1.95" fill="#0087fb"/>
<circle cx="378.1" cy="59.8" r="1.95" fill="#ff0068"/>
<circle cx="429.7" cy="127.4" r="1.95" fill="#0081fc"/>
<circle cx="435.8" cy="41.0" r="1.95" fill="#4659e0"/>
<circle cx="384.6" cy="96.7" r="1.95" fill="#ff006a"/>
<circle cx="447.3" cy="67.5" r="1.95" fill="#5756dd"/>
<circle cx="399.7" cy="250.6" r="1.95" fill="#0088fb"/>
<circle cx="425.0" cy="46.7" r="1.95" fill="#9633c4"/>
<circle cx="422.9" cy="215.5" r="1.95" fill="#0088fb"/>
<circle cx="420.1" cy="105.2" r="1.95" fill="#a824bb"/>
<circle cx="403.2" cy="161.6" r="1.95" fill="#f6008d"/>
<circle cx="393.8" cy="45.8" r="1.95" fill="#ff0056"/>
<circle cx="443.5" cy="157.2" r="1.95" fill="#0084fb"/>
<circle cx="384.7" cy="215.0" r="1.95" fill="#ff0066"/>
<circle cx="349.0" cy="128.0" r="1.95" fill="#ff0051"/>
<circle cx="402.7" cy="225.4" r="1.95" fill="#0084fb"/>
<circle cx="433.3" cy="40.4" r="1.95" fill="#724ed9"/>
<circle cx="405.0" cy="177.9" r="1.95" fill="#008bfb"/>
<circle cx="408.1" cy="192.6" r="1.95" fill="#0089fb"/>
<circle cx="413.1" cy="137.1" r="1.95" fill="#0087fb"/>
<circle cx="414.7" cy="184.0" r="1.95" fill="#008bfb"/>
<circle cx="279.3" cy="40.8" r="1.95" fill="#0084fb"/>
<circle cx="392.1" cy="157.1" r="1.95" fill="#ff006e"/>
<circle cx="405.6" cy="236.9" r="1.95" fill="#8e3ac9"/>
<circle cx="394.7" cy="38.9" r="1.95" fill="#ff0068"/>
<circle cx="401.1" cy="157.3" r="1.95" fill="#ff0083"/>
<circle cx="288.2" cy="43.6" r="1.95" fill="#008bfb"/>
<circle cx="406.7" cy="45.7" r="1.95" fill="#d900a7"/>
<circle cx="378.8" cy="76.5" r="1.95" fill="#ff0071"/>
<circle cx="391.1" cy="91.7" r="1.95" fill="#d402a9"/>
<circle cx="394.6" cy="125.0" r="1.95" fill="#b31bb5"/>
<circle cx="401.1" cy="47.7" r="1.95" fill="#ff0076"/>
<circle cx="454.7" cy="68.2" r="1.95" fill="#008bfb"/>
<circle cx="373.4" cy="158.0" r="1.95" fill="#ff0065"/>
<circle cx="413.0" cy="136.5" r="1.95" fill="#0086fb"/>
<circle cx="406.8" cy="243.5" r="1.95" fill="#0086fb"/>
<circle cx="406.4" cy="43.4" r="1.95" fill="#d402a9"/>
<circle cx="322.9" cy="157.6" r="1.95" fill="#ff0052"/>
<circle cx="404.2" cy="128.6" r="1.95" fill="#0071f5"/>
<circle cx="395.9" cy="47.8" r="1.95" fill="#ff006f"/>
<circle cx="400.5" cy="185.1" r="1.95" fill="#0089fb"/>
<circle cx="439.1" cy="157.4" r="1.95" fill="#0084fb"/>
<circle cx="397.9" cy="187.6" r="1.95" fill="#008bfb"/>
<circle cx="388.8" cy="128.4" r="1.95" fill="#9633c4"/>
<circle cx="413.9" cy="47.5" r="1.95" fill="#9c2ec1"/>
<circle cx="400.8" cy="33.1" r="1.95" fill="#f5008e"/>
<circle cx="394.0" cy="107.5" r="1.95" fill="#d402a9"/>
<circle cx="292.2" cy="41.0" r="1.95" fill="#0084fb"/>
<circle cx="408.8" cy="126.4" r="1.95" fill="#754dd9"/>
<circle cx="400.8" cy="268.9" r="1.95" fill="#0071f5"/>
<circle cx="402.6" cy="424.9" r="1.95" fill="#007afb"/>
<circle cx="412.6" cy="132.4" r="1.95" fill="#0083fc"/>
<circle cx="428.3" cy="214.6" r="1.95" fill="#0086fb"/>
<circle cx="422.1" cy="43.1" r="1.95" fill="#8d3bcb"/>
<circle cx="398.9" cy="155.2" r="1.95" fill="#f00093"/>
<circle cx="419.4" cy="35.3" r="1.95" fill="#8e3ac9"/>
<circle cx="459.4" cy="43.4" r="1.95" fill="#714ed9"/>
<circle cx="372.9" cy="41.5" r="1.95" fill="#ff0051"/>
<circle cx="403.1" cy="426.5" r="1.95" fill="#0077f9"/>
<circle cx="406.8" cy="213.5" r="1.95" fill="#0089fb"/>
<circle cx="385.3" cy="126.2" r="1.95" fill="#9633c4"/>
<circle cx="375.8" cy="186.5" r="1.95" fill="#0087fb"/>
<circle cx="398.6" cy="45.4" r="1.95" fill="#ff0083"/>
<circle cx="418.6" cy="99.5" r="1.95" fill="#ad20b8"/>
<circle cx="414.5" cy="182.3" r="1.95" fill="#008bfb"/>
<circle cx="385.2" cy="74.7" r="1.95" fill="#f6008d"/>
<circle cx="394.1" cy="273.4" r="1.95" fill="#0086fb"/>
<circle cx="404.3" cy="133.3" r="1.95" fill="#754dd9"/>
<circle cx="413.5" cy="67.5" r="1.95" fill="#c909ad"/>
<circle cx="382.1" cy="72.6" r="1.95" fill="#f20092"/>
<circle cx="417.5" cy="47.7" r="1.95" fill="#b31bb4"/>
<circle cx="410.1" cy="39.5" r="1.95" fill="#dc00a4"/>
<circle cx="380.0" cy="66.2" r="1.95" fill="#ff0067"/>
<circle cx="402.0" cy="341.4" r="1.95" fill="#f10093"/>
<circle cx="402.7" cy="324.3" r="1.95" fill="#0078f9"/>
<circle cx="388.6" cy="183.9" r="1.95" fill="#0089fb"/>
<circle cx="350.9" cy="186.0" r="1.95" fill="#0087fb"/>
<circle cx="377.7" cy="74.5" r="1.95" fill="#ff0073"/>
<circle cx="323.9" cy="41.5" r="1.95" fill="#0088fb"/>
<circle cx="391.8" cy="447.3" r="1.95" fill="#ff0064"/>
<circle cx="405.9" cy="70.4" r="1.95" fill="#c20eb0"/>
<circle cx="414.7" cy="186.2" r="1.95" fill="#0089fb"/>
<circle cx="402.0" cy="391.7" r="1.95" fill="#006af1"/>
<circle cx="412.3" cy="134.5" r="1.95" fill="#754dd9"/>
<circle cx="459.5" cy="41.4" r="1.95" fill="#7e4ad8"/>
<circle cx="323.6" cy="39.5" r="1.95" fill="#0084fb"/>
<circle cx="355.9" cy="128.7" r="1.95" fill="#ff0052"/>
<circle cx="449.0" cy="41.0" r="1.95" fill="#794cd9"/>
<circle cx="394.5" cy="134.9" r="1.95" fill="#9732c4"/>
<circle cx="403.2" cy="184.5" r="1.95" fill="#008bfb"/>
<circle cx="413.5" cy="194.0" r="1.95" fill="#008bfb"/>
<circle cx="436.2" cy="43.1" r="1.95" fill="#5c54dc"/>
<circle cx="415.9" cy="130.3" r="1.95" fill="#0084fb"/>
<circle cx="402.0" cy="306.6" r="1.95" fill="#2460e8"/>
<circle cx="394.5" cy="303.5" r="1.95" fill="#0084fb"/>
<circle cx="377.4" cy="68.4" r="1.95" fill="#f8008b"/>
<circle cx="401.5" cy="190.0" r="1.95" fill="#0087fb"/>
<circle cx="454.0" cy="43.5" r="1.95" fill="#0071f5"/>
<circle cx="393.9" cy="70.5" r="1.95" fill="#dc00a4"/>
<circle cx="320.9" cy="42.5" r="1.95" fill="#0084fb"/>
<circle cx="379.8" cy="70.0" r="1.95" fill="#ff006b"/>
<circle cx="268.5" cy="42.1" r="1.95" fill="#0084fb"/>
<circle cx="415.2" cy="189.2" r="1.95" fill="#0089fb"/>
<circle cx="405.0" cy="305.4" r="1.95" fill="#8543d2"/>
<circle cx="424.5" cy="214.6" r="1.95" fill="#0087fb"/>
<circle cx="383.9" cy="74.3" r="1.95" fill="#fa0089"/>
<circle cx="391.8" cy="128.5" r="1.95" fill="#b31bb4"/>
<circle cx="371.7" cy="67.8" r="1.95" fill="#ff005a"/>
<circle cx="415.3" cy="214.6" r="1.95" fill="#0088fb"/>
<circle cx="455.1" cy="45.5" r="1.95" fill="#0071f5"/>
<circle cx="390.4" cy="71.6" r="1.95" fill="#dc00a4"/>
<circle cx="327.1" cy="157.6" r="1.95" fill="#ff0051"/>
<circle cx="291.2" cy="42.3" r="1.95" fill="#0086fb"/>
<circle cx="399.4" cy="105.5" r="1.95" fill="#cc07ac"/>
<circle cx="389.5" cy="216.9" r="1.95" fill="#ff0070"/>
<circle cx="390.6" cy="302.4" r="1.95" fill="#007cfc"/>
<circle cx="413.7" cy="43.1" r="1.95" fill="#b01db6"/>
<circle cx="412.7" cy="41.0" r="1.95" fill="#9633c4"/>
<circle cx="384.4" cy="214.1" r="1.95" fill="#ff0061"/>
<circle cx="402.1" cy="388.5" r="1.95" fill="#0076f9"/>
<circle cx="432.8" cy="215.5" r="1.95" fill="#0087fb"/>
<circle cx="404.3" cy="154.3" r="1.95" fill="#ff0075"/>
<circle cx="396.1" cy="121.9" r="1.95" fill="#7c4bd8"/>
<circle cx="413.1" cy="132.5" r="1.95" fill="#008bfb"/>
<circle cx="338.5" cy="156.7" r="1.95" fill="#ff0053"/>
<circle cx="423.1" cy="215.4" r="1.95" fill="#0087fb"/>
<circle cx="396.0" cy="125.1" r="1.95" fill="#8a3ecd"/>
<circle cx="409.8" cy="39.0" r="1.95" fill="#e4009e"/>
<circle cx="414.6" cy="99.3" r="1.95" fill="#ee0095"/>
<circle cx="410.7" cy="182.3" r="1.95" fill="#008afb"/>
<circle cx="317.5" cy="40.5" r="1.95" fill="#0087fb"/>
<circle cx="411.1" cy="195.5" r="1.95" fill="#0088fb"/>
<circle cx="411.0" cy="100.5" r="1.95" fill="#d204aa"/>
<circle cx="450.5" cy="41.3" r="1.95" fill="#8642d1"/>
<circle cx="396.0" cy="123.5" r="1.95" fill="#8741d0"/>
<circle cx="401.7" cy="213.4" r="1.95" fill="#008bfb"/>
<circle cx="394.3" cy="88.5" r="1.95" fill="#e8009c"/>
<circle cx="363.7" cy="185.6" r="1.95" fill="#0084fb"/>
<circle cx="316.1" cy="157.6" r="1.95" fill="#ff0051"/>
<circle cx="457.0" cy="41.6" r="1.95" fill="#5057de"/>
<circle cx="399.5" cy="246.4" r="1.95" fill="#008bfb"/>
<circle cx="402.3" cy="299.8" r="1.95" fill="#007ffc"/>
<circle cx="412.8" cy="97.2" r="1.95" fill="#b817b3"/>
<circle cx="403.5" cy="452.7" r="1.95" fill="#0077f9"/>
<circle cx="417.6" cy="92.4" r="1.95" fill="#0088fb"/>
<circle cx="307.1" cy="38.7" r="1.95" fill="#0085fb"/>
<circle cx="307.9" cy="43.3" r="1.95" fill="#0085fb"/>
<circle cx="388.8" cy="126.4" r="1.95" fill="#c60bae"/>
<circle cx="403.4" cy="451.2" r="1.95" fill="#0078fa"/>
<circle cx="438.6" cy="331.2" r="1.95" fill="#0086fb"/>
<circle cx="403.7" cy="31.1" r="1.95" fill="#ff007a"/>
<circle cx="401.6" cy="95.1" r="1.95" fill="#ba15b2"/>
<circle cx="402.6" cy="351.8" r="1.95" fill="#f10092"/>
<circle cx="440.1" cy="44.1" r="1.95" fill="#5157de"/>
<circle cx="402.3" cy="52.1" r="1.95" fill="#ff0074"/>
<circle cx="412.7" cy="273.4" r="1.95" fill="#ff0058"/>
<circle cx="401.6" cy="217.7" r="1.95" fill="#0085fb"/>
<circle cx="465.3" cy="69.6" r="1.95" fill="#008bfb"/>
<circle cx="383.1" cy="186.1" r="1.95" fill="#0086fb"/>
<circle cx="439.7" cy="41.3" r="1.95" fill="#8e3ac9"/>
<circle cx="367.0" cy="71.2" r="1.95" fill="#ff0057"/>
<circle cx="388.7" cy="215.3" r="1.95" fill="#ff0069"/>
<circle cx="397.2" cy="49.9" r="1.95" fill="#ff0072"/>
<circle cx="402.6" cy="421.6" r="1.95" fill="#0081fc"/>
<circle cx="399.7" cy="107.5" r="1.95" fill="#bd13b1"/>
<circle cx="406.5" cy="177.8" r="1.95" fill="#008afb"/>
<circle cx="269.6" cy="40.7" r="1.95" fill="#008bfb"/>
<circle cx="400.5" cy="130.2" r="1.95" fill="#5855dc"/>
<circle cx="385.2" cy="132.6" r="1.95" fill="#ef0095"/>
<circle cx="424.5" cy="35.8" r="1.95" fill="#b11cb5"/>
<circle cx="420.8" cy="99.5" r="1.95" fill="#9633c4"/>
<circle cx="403.4" cy="41.6" r="1.95" fill="#ed0096"/>
<circle cx="374.8" cy="72.1" r="1.95" fill="#ff006e"/>
<circle cx="408.2" cy="190.6" r="1.95" fill="#0087fb"/>
<circle cx="401.4" cy="155.0" r="1.95" fill="#f4008f"/>
<circle cx="405.5" cy="180.3" r="1.95" fill="#0087fb"/>
<circle cx="374.9" cy="70.3" r="1.95" fill="#ff005e"/>
<circle cx="360.3" cy="156.7" r="1.95" fill="#ff0055"/>
<circle cx="390.4" cy="99.4" r="1.95" fill="#d104ab"/>
<circle cx="401.0" cy="159.3" r="1.95" fill="#f4008f"/>
<circle cx="392.1" cy="35.6" r="1.95" fill="#ff0077"/>
<circle cx="416.6" cy="244.9" r="1.95" fill="#ff0055"/>
<circle cx="414.1" cy="37.3" r="1.95" fill="#8e3ac9"/>
<circle cx="409.2" cy="34.0" r="1.95" fill="#c60bae"/>
<circle cx="340.9" cy="156.7" r="1.95" fill="#ff0055"/>
<circle cx="355.0" cy="186.7" r="1.95" fill="#0085fb"/>
<circle cx="388.7" cy="99.5" r="1.95" fill="#e200a1"/>
<circle cx="376.9" cy="64.3" r="1.95" fill="#ff005b"/>
<circle cx="389.9" cy="215.4" r="1.95" fill="#ff0077"/>
<circle cx="403.1" cy="410.1" r="1.95" fill="#007ffc"/>
<circle cx="409.8" cy="41.1" r="1.95" fill="#d800a8"/>
<circle cx="389.4" cy="389.4" r="1.95" fill="#0085fb"/>
<circle cx="403.3" cy="351.8" r="1.95" fill="#e4009e"/>
<circle cx="413.6" cy="96.9" r="1.95" fill="#b717b3"/>
<circle cx="336.0" cy="156.9" r="1.95" fill="#ff0055"/>
<circle cx="402.7" cy="217.6" r="1.95" fill="#0087fb"/>
<circle cx="404.2" cy="263.4" r="1.95" fill="#ff0062"/>
<circle cx="387.7" cy="38.9" r="1.95" fill="#ff0051"/>
<circle cx="435.7" cy="72.4" r="1.95" fill="#ae1fb7"/>
<circle cx="290.0" cy="40.0" r="1.95" fill="#0089fb"/>
<circle cx="385.0" cy="70.4" r="1.95" fill="#de00a3"/>
<circle cx="384.5" cy="184.2" r="1.95" fill="#0089fb"/>
<circle cx="462.9" cy="40.4" r="1.95" fill="#6452db"/>
<circle cx="396.1" cy="131.5" r="1.95" fill="#8246d4"/>
<circle cx="349.9" cy="186.6" r="1.95" fill="#0089fb"/>
<circle cx="397.4" cy="32.7" r="1.95" fill="#ff0071"/>
<circle cx="408.1" cy="68.3" r="1.95" fill="#c60bae"/>
<circle cx="387.1" cy="67.5" r="1.95" fill="#e000a1"/>
<circle cx="381.1" cy="70.2" r="1.95" fill="#ff006a"/>
<circle cx="404.1" cy="99.6" r="1.95" fill="#c90aae"/>
<circle cx="365.3" cy="69.5" r="1.95" fill="#ff006f"/>
<circle cx="394.0" cy="41.5" r="1.95" fill="#ff0058"/>
<circle cx="416.0" cy="135.7" r="1.95" fill="#008bfb"/>
<circle cx="409.9" cy="302.4" r="1.95" fill="#ff0057"/>
<circle cx="382.1" cy="101.1" r="1.95" fill="#ff005b"/>
<circle cx="374.7" cy="66.4" r="1.95" fill="#ff006b"/>
<circle cx="382.6" cy="128.2" r="1.95" fill="#ea009a"/>
<circle cx="366.8" cy="187.0" r="1.95" fill="#0086fb"/>
<circle cx="399.0" cy="253.1" r="1.95" fill="#0086fb"/>
<circle cx="422.1" cy="216.1" r="1.95" fill="#0085fb"/>
<circle cx="455.7" cy="41.4" r="1.95" fill="#0071f5"/>
<circle cx="412.3" cy="103.6" r="1.95" fill="#ca09ad"/>
<circle cx="404.1" cy="47.6" r="1.95" fill="#f5008e"/>
<circle cx="408.9" cy="121.7" r="1.95" fill="#0077f9"/>
<circle cx="445.4" cy="39.0" r="1.95" fill="#6c4fda"/>
<circle cx="373.5" cy="68.3" r="1.95" fill="#ff0071"/>
<circle cx="428.1" cy="41.2" r="1.95" fill="#9c2ec1"/>
<circle cx="405.5" cy="250.1" r="1.95" fill="#8b3dcd"/>
<circle cx="378.7" cy="62.1" r="1.95" fill="#ff0073"/>
<circle cx="418.1" cy="92.5" r="1.95" fill="#5e54dc"/>
<circle cx="410.4" cy="37.0" r="1.95" fill="#d402a9"/>
<circle cx="379.9" cy="99.6" r="1.95" fill="#ff0051"/>
<circle cx="365.5" cy="70.2" r="1.95" fill="#ff0051"/>
<circle cx="402.5" cy="178.1" r="1.95" fill="#0084fb"/>
<circle cx="399.1" cy="70.6" r="1.95" fill="#e3009f"/>
<circle cx="373.6" cy="73.4" r="1.95" fill="#f30090"/>
<circle cx="395.9" cy="41.4" r="1.95" fill="#ff0074"/>
<circle cx="432.3" cy="129.0" r="1.95" fill="#008bfb"/>
<circle cx="425.2" cy="157.4" r="1.95" fill="#8d3bca"/>
<circle cx="428.0" cy="70.5" r="1.95" fill="#b817b3"/>
<circle cx="350.5" cy="128.0" r="1.95" fill="#ff0051"/>
<circle cx="396.1" cy="34.7" r="1.95" fill="#ff0076"/>
<circle cx="387.3" cy="94.5" r="1.95" fill="#f20091"/>
<circle cx="415.0" cy="37.2" r="1.95" fill="#b21bb5"/>
<circle cx="408.2" cy="186.2" r="1.95" fill="#0089fb"/>
<circle cx="386.6" cy="41.0" r="1.95" fill="#ff005a"/>
<circle cx="403.0" cy="159.6" r="1.95" fill="#fc0087"/>
<circle cx="431.2" cy="215.2" r="1.95" fill="#0088fb"/>
<circle cx="403.0" cy="390.1" r="1.95" fill="#0071f5"/>
<circle cx="383.5" cy="101.7" r="1.95" fill="#ff005e"/>
<circle cx="393.9" cy="69.2" r="1.95" fill="#c40daf"/>
<circle cx="354.0" cy="156.7" r="1.95" fill="#ff0057"/>
<circle cx="400.3" cy="252.7" r="1.95" fill="#0086fb"/>
<circle cx="325.7" cy="157.1" r="1.95" fill="#ff0052"/>
<circle cx="439.2" cy="72.9" r="1.95" fill="#a229be"/>
<circle cx="407.2" cy="47.8" r="1.95" fill="#de00a4"/>
<circle cx="392.0" cy="389.1" r="1.95" fill="#0087fb"/>
<circle cx="416.5" cy="123.9" r="1.95" fill="#0089fb"/>
<circle cx="447.9" cy="157.4" r="1.95" fill="#0086fb"/>
<circle cx="382.4" cy="70.6" r="1.95" fill="#ff0075"/>
<circle cx="397.0" cy="242.5" r="1.95" fill="#0084fb"/>
<circle cx="426.7" cy="97.7" r="1.95" fill="#714ed9"/>
<circle cx="427.1" cy="215.0" r="1.95" fill="#0085fb"/>
<circle cx="381.2" cy="72.5" r="1.95" fill="#ff006b"/>
<circle cx="342.5" cy="157.2" r="1.95" fill="#ff0055"/>
<circle cx="387.1" cy="101.4" r="1.95" fill="#0088fb"/>
<circle cx="380.6" cy="215.5" r="1.95" fill="#ff0062"/>
<circle cx="409.2" cy="188.4" r="1.95" fill="#0086fb"/>
<circle cx="399.8" cy="304.7" r="1.95" fill="#0077f9"/>
<circle cx="383.9" cy="96.9" r="1.95" fill="#ff005a"/>
<circle cx="387.2" cy="103.5" r="1.95" fill="#e4009e"/>
<circle cx="391.1" cy="92.7" r="1.95" fill="#0088fb"/>
<circle cx="407.0" cy="246.7" r="1.95" fill="#0086fb"/>
<circle cx="411.2" cy="100.5" r="1.95" fill="#9633c4"/>
<circle cx="391.5" cy="69.2" r="1.95" fill="#dc00a4"/>
<circle cx="404.6" cy="41.5" r="1.95" fill="#f20091"/>
<circle cx="447.4" cy="39.0" r="1.95" fill="#8741d0"/>
<circle cx="437.0" cy="70.5" r="1.95" fill="#8d3bcb"/>
<circle cx="422.8" cy="41.4" r="1.95" fill="#8b3dcc"/>
<circle cx="416.0" cy="105.9" r="1.95" fill="#0088fb"/>
<circle cx="379.7" cy="72.1" r="1.95" fill="#ff0070"/>
<circle cx="379.5" cy="188.1" r="1.95" fill="#0089fb"/>
<circle cx="413.1" cy="188.1" r="1.95" fill="#0088fb"/>
<circle cx="387.2" cy="186.3" r="1.95" fill="#0085fb"/>
<circle cx="377.6" cy="61.7" r="1.95" fill="#ff005c"/>
<circle cx="397.5" cy="122.3" r="1.95" fill="#7a4bd8"/>
<circle cx="403.1" cy="370.4" r="1.95" fill="#ea009a"/>
<circle cx="426.5" cy="68.1" r="1.95" fill="#ab21b9"/>
<circle cx="389.8" cy="331.4" r="1.95" fill="#ff0053"/>
<circle cx="405.6" cy="251.7" r="1.95" fill="#0086fb"/>
<circle cx="404.1" cy="301.5" r="1.95" fill="#0081fc"/>
<circle cx="405.5" cy="243.5" r="1.95" fill="#ee0096"/>
<circle cx="398.1" cy="242.5" r="1.95" fill="#0084fb"/>
<circle cx="396.9" cy="246.4" r="1.95" fill="#0088fb"/>
<circle cx="396.8" cy="250.4" r="1.95" fill="#0084fb"/>
<circle cx="316.4" cy="42.1" r="1.95" fill="#0084fb"/>
<circle cx="384.7" cy="99.0" r="1.95" fill="#ff0051"/>
<circle cx="394.0" cy="97.3" r="1.95" fill="#dc00a4"/>
<circle cx="403.8" cy="101.6" r="1.95" fill="#c909ae"/>
<circle cx="397.8" cy="35.2" r="1.95" fill="#ff0056"/>
<circle cx="404.3" cy="279.9" r="1.95" fill="#f7008c"/>
<circle cx="396.0" cy="246.6" r="1.95" fill="#0087fb"/>
<circle cx="402.7" cy="213.0" r="1.95" fill="#0084fb"/>
<circle cx="385.2" cy="74.8" r="1.95" fill="#f30090"/>
<circle cx="402.7" cy="321.2" r="1.95" fill="#dc00a4"/>
<circle cx="398.3" cy="244.4" r="1.95" fill="#008bfb"/>
<circle cx="398.7" cy="236.1" r="1.95" fill="#0088fb"/>
<circle cx="448.9" cy="43.2" r="1.95" fill="#8147d5"/>
<circle cx="378.7" cy="70.5" r="1.95" fill="#ec0098"/>
<circle cx="394.3" cy="99.6" r="1.95" fill="#c70bae"/>
<circle cx="410.2" cy="331.4" r="1.95" fill="#6751db"/>
<circle cx="396.9" cy="236.4" r="1.95" fill="#0084fb"/>
<circle cx="402.4" cy="30.5" r="1.95" fill="#eb0099"/>
<circle cx="397.9" cy="305.3" r="1.95" fill="#008bfb"/>
<circle cx="378.1" cy="184.8" r="1.95" fill="#0086fb"/>
<circle cx="365.6" cy="98.6" r="1.95" fill="#ff0051"/>
<circle cx="393.8" cy="88.4" r="1.95" fill="#dc00a4"/>
<circle cx="425.6" cy="37.3" r="1.95" fill="#a428bd"/>
<circle cx="418.1" cy="244.9" r="1.95" fill="#ff0058"/>
<circle cx="418.8" cy="130.3" r="1.95" fill="#008bfb"/>
<circle cx="429.6" cy="216.0" r="1.95" fill="#0086fb"/>
<circle cx="414.4" cy="192.3" r="1.95" fill="#0085fb"/>
<circle cx="440.7" cy="73.1" r="1.95" fill="#0084fb"/>
<circle cx="403.3" cy="152.8" r="1.95" fill="#f5008e"/>
<circle cx="369.1" cy="99.6" r="1.95" fill="#ff0067"/>
<circle cx="304.5" cy="41.3" r="1.95" fill="#0087fb"/>
<circle cx="423.4" cy="389.1" r="1.95" fill="#0088fb"/>
<circle cx="370.4" cy="99.0" r="1.95" fill="#ff0051"/>
<circle cx="407.1" cy="275.7" r="1.95" fill="#a427bd"/>
<circle cx="411.3" cy="157.2" r="1.95" fill="#c60bae"/>
<circle cx="390.6" cy="389.4" r="1.95" fill="#0088fb"/>
<circle cx="379.4" cy="101.5" r="1.95" fill="#ff005e"/>
<circle cx="404.0" cy="307.8" r="1.95" fill="#893fce"/>
<circle cx="412.9" cy="389.1" r="1.95" fill="#ff005b"/>
<circle cx="409.6" cy="217.1" r="1.95" fill="#0089fb"/>
<circle cx="430.9" cy="157.3" r="1.95" fill="#9236c7"/>
<circle cx="420.4" cy="41.3" r="1.95" fill="#a526bc"/>
<circle cx="402.9" cy="159.2" r="1.95" fill="#f30090"/>
<circle cx="449.4" cy="67.7" r="1.95" fill="#d402a9"/>
<circle cx="422.8" cy="243.6" r="1.95" fill="#ff005c"/>
<circle cx="385.9" cy="42.8" r="1.95" fill="#ff0063"/>
<circle cx="401.2" cy="36.8" r="1.95" fill="#ff0074"/>
<circle cx="420.7" cy="186.2" r="1.95" fill="#008bfb"/>
<circle cx="391.0" cy="106.9" r="1.95" fill="#dc00a4"/>
<circle cx="397.2" cy="186.1" r="1.95" fill="#0088fb"/>
<circle cx="420.6" cy="39.4" r="1.95" fill="#8f39c9"/>
<circle cx="364.2" cy="187.0" r="1.95" fill="#0089fb"/>
<circle cx="416.7" cy="128.3" r="1.95" fill="#0075f8"/>
<circle cx="440.6" cy="70.2" r="1.95" fill="#8a3ecd"/>
<circle cx="415.7" cy="184.1" r="1.95" fill="#0089fb"/>
<circle cx="438.4" cy="72.7" r="1.95" fill="#8444d3"/>
<circle cx="403.5" cy="306.2" r="1.95" fill="#704eda"/>
<circle cx="402.5" cy="273.3" r="1.95" fill="#7d4ad8"/>
<circle cx="409.8" cy="37.2" r="1.95" fill="#da00a6"/>
<circle cx="390.3" cy="130.1" r="1.95" fill="#e8009b"/>
<circle cx="390.9" cy="215.6" r="1.95" fill="#ff005c"/>
<circle cx="416.3" cy="48.7" r="1.95" fill="#ab21b9"/>
<circle cx="418.7" cy="101.1" r="1.95" fill="#0088fb"/>
<circle cx="323.7" cy="38.5" r="1.95" fill="#0088fb"/>
<circle cx="406.6" cy="389.4" r="1.95" fill="#0086fb"/>
<circle cx="422.7" cy="99.5" r="1.95" fill="#7f49d7"/>
<circle cx="395.9" cy="128.3" r="1.95" fill="#8147d5"/>
<circle cx="405.5" cy="240.2" r="1.95" fill="#8f39c9"/>
<circle cx="391.0" cy="103.3" r="1.95" fill="#eb0099"/>
<circle cx="349.6" cy="186.2" r="1.95" fill="#0089fb"/>
<circle cx="395.9" cy="133.1" r="1.95" fill="#9832c4"/>
<circle cx="412.5" cy="45.3" r="1.95" fill="#a427bd"/>
<circle cx="441.2" cy="44.4" r="1.95" fill="#8147d5"/>
<circle cx="350.4" cy="157.0" r="1.95" fill="#ff0055"/>
<circle cx="386.9" cy="95.7" r="1.95" fill="#ff0078"/>
<circle cx="359.0" cy="186.8" r="1.95" fill="#008afb"/>
<circle cx="432.3" cy="127.6" r="1.95" fill="#0082fc"/>
<circle cx="400.2" cy="161.8" r="1.95" fill="#f7008c"/>
<circle cx="409.7" cy="120.2" r="1.95" fill="#0087fb"/>
<circle cx="284.8" cy="41.2" r="1.95" fill="#007efc"/>
<circle cx="421.0" cy="72.8" r="1.95" fill="#d402a9"/>
<circle cx="392.2" cy="302.3" r="1.95" fill="#0086fb"/>
<circle cx="419.3" cy="122.6" r="1.95" fill="#0088fb"/>
<circle cx="389.9" cy="126.3" r="1.95" fill="#cd07ac"/>
<circle cx="417.4" cy="43.5" r="1.95" fill="#ad20b8"/>
<circle cx="404.9" cy="184.5" r="1.95" fill="#0085fb"/>
<circle cx="419.2" cy="130.6" r="1.95" fill="#0084fb"/>
<circle cx="375.5" cy="41.6" r="1.95" fill="#ff0053"/>
<circle cx="400.9" cy="306.6" r="1.95" fill="#0088fb"/>
<circle cx="418.4" cy="273.1" r="1.95" fill="#ff0060"/>
<circle cx="371.9" cy="72.8" r="1.95" fill="#ff0075"/>
<circle cx="423.3" cy="185.7" r="1.95" fill="#0088fb"/>
<circle cx="420.6" cy="123.8" r="1.95" fill="#0084fb"/>
<circle cx="383.8" cy="186.4" r="1.95" fill="#0087fb"/>
<circle cx="399.0" cy="246.6" r="1.95" fill="#0087fb"/>
<circle cx="372.2" cy="158.0" r="1.95" fill="#ff0063"/>
<circle cx="420.6" cy="37.0" r="1.95" fill="#9633c4"/>
<circle cx="379.1" cy="214.8" r="1.95" fill="#ff005e"/>
<circle cx="440.9" cy="44.4" r="1.95" fill="#5955dc"/>
<circle cx="417.3" cy="67.9" r="1.95" fill="#c60caf"/>
<circle cx="353.7" cy="186.7" r="1.95" fill="#0088fb"/>
<circle cx="391.9" cy="41.0" r="1.95" fill="#ff0062"/>
<circle cx="385.1" cy="66.0" r="1.95" fill="#ff0074"/>
<circle cx="380.0" cy="80.0" r="1.95" fill="#f9008a"/>
<circle cx="410.0" cy="47.4" r="1.95" fill="#dc00a4"/>
<circle cx="429.7" cy="215.2" r="1.95" fill="#0088fb"/>
<circle cx="392.5" cy="90.2" r="1.95" fill="#cc07ac"/>
<circle cx="462.9" cy="41.3" r="1.95" fill="#6b50da"/>
<circle cx="397.3" cy="39.5" r="1.95" fill="#ff0068"/>
<circle cx="423.4" cy="39.1" r="1.95" fill="#8e3ac9"/>
<circle cx="421.7" cy="125.2" r="1.95" fill="#0078fa"/>
<circle cx="392.1" cy="39.5" r="1.95" fill="#ff0052"/>
<circle cx="326.7" cy="157.1" r="1.95" fill="#ff0051"/>
<circle cx="382.2" cy="76.2" r="1.95" fill="#ff0074"/>
<circle cx="411.5" cy="124.1" r="1.95" fill="#008bfb"/>
<circle cx="403.3" cy="218.0" r="1.95" fill="#0086fb"/>
<circle cx="306.9" cy="39.4" r="1.95" fill="#008afb"/>
<circle cx="438.0" cy="68.0" r="1.95" fill="#0084fb"/>
<circle cx="310.1" cy="41.2" r="1.95" fill="#0088fb"/>
<circle cx="413.1" cy="186.2" r="1.95" fill="#0088fb"/>
<circle cx="403.4" cy="443.4" r="1.95" fill="#0077f9"/>
<circle cx="394.7" cy="41.4" r="1.95" fill="#ff0066"/>
<circle cx="370.5" cy="98.2" r="1.95" fill="#ff0063"/>
<circle cx="447.3" cy="72.2" r="1.95" fill="#5855dc"/>
<circle cx="365.5" cy="186.5" r="1.95" fill="#0089fb"/>
<circle cx="420.6" cy="215.4" r="1.95" fill="#0087fb"/>
<circle cx="397.5" cy="360.5" r="1.95" fill="#ff0056"/>
<circle cx="414.6" cy="67.2" r="1.95" fill="#bf11b1"/>
<circle cx="374.8" cy="68.1" r="1.95" fill="#ff0071"/>
<circle cx="417.6" cy="215.5" r="1.95" fill="#0086fb"/>
<circle cx="403.2" cy="428.2" r="1.95" fill="#0076f8"/>
<circle cx="404.4" cy="188.2" r="1.95" fill="#0088fb"/>
<circle cx="376.8" cy="187.9" r="1.95" fill="#0086fb"/>
<circle cx="353.7" cy="186.2" r="1.95" fill="#0084fb"/>
<circle cx="398.1" cy="34.8" r="1.95" fill="#ff0074"/>
<circle cx="403.9" cy="298.4" r="1.95" fill="#007afb"/>
<circle cx="402.0" cy="327.4" r="1.95" fill="#f7008c"/>
<circle cx="417.7" cy="39.3" r="1.95" fill="#9633c4"/>
<circle cx="397.7" cy="187.6" r="1.95" fill="#0087fb"/>
<circle cx="396.0" cy="33.7" r="1.95" fill="#ff006d"/>
<circle cx="402.7" cy="339.8" r="1.95" fill="#ff0077"/>
<circle cx="417.6" cy="97.4" r="1.95" fill="#a527bc"/>
<circle cx="402.5" cy="298.1" r="1.95" fill="#0084fb"/>
<circle cx="417.1" cy="103.2" r="1.95" fill="#734dd9"/>
<circle cx="409.7" cy="389.5" r="1.95" fill="#ff0056"/>
<circle cx="451.2" cy="39.2" r="1.95" fill="#6a50da"/>
<circle cx="404.7" cy="124.3" r="1.95" fill="#0076f8"/>
<circle cx="361.4" cy="128.0" r="1.95" fill="#ff0053"/>
<circle cx="315.0" cy="157.6" r="1.95" fill="#ff0054"/>
<circle cx="419.1" cy="244.2" r="1.95" fill="#ff0058"/>
<circle cx="409.8" cy="134.3" r="1.95" fill="#008bfb"/>
<circle cx="362.8" cy="186.9" r="1.95" fill="#0085fb"/>
<circle cx="391.0" cy="93.1" r="1.95" fill="#d403aa"/>
<circle cx="385.2" cy="97.0" r="1.95" fill="#ff0051"/>
<circle cx="412.1" cy="245.0" r="1.95" fill="#ff0053"/>
<circle cx="379.6" cy="60.6" r="1.95" fill="#ff005b"/>
<circle cx="391.3" cy="331.5" r="1.95" fill="#ff0056"/>
<circle cx="411.8" cy="41.2" r="1.95" fill="#c60bae"/>
<circle cx="420.5" cy="35.3" r="1.95" fill="#6851da"/>
<circle cx="399.9" cy="167.0" r="1.95" fill="#ff007a"/>
<circle cx="393.5" cy="186.4" r="1.95" fill="#0088fb"/>
<circle cx="422.0" cy="244.4" r="1.95" fill="#ff005b"/>
<circle cx="434.2" cy="72.9" r="1.95" fill="#8f39c9"/>
<circle cx="402.0" cy="386.9" r="1.95" fill="#0074f7"/>
<circle cx="403.3" cy="45.3" r="1.95" fill="#f7008c"/>
<circle cx="421.7" cy="45.5" r="1.95" fill="#ad20b8"/>
<circle cx="395.2" cy="157.4" r="1.95" fill="#ff0075"/>
<circle cx="380.4" cy="130.7" r="1.95" fill="#f40090"/>
<circle cx="403.0" cy="396.5" r="1.95" fill="#0076f9"/>
<circle cx="321.4" cy="41.1" r="1.95" fill="#0085fb"/>
<circle cx="409.4" cy="45.6" r="1.95" fill="#c60bae"/>
<circle cx="396.5" cy="70.5" r="1.95" fill="#f4008f"/>
<circle cx="316.2" cy="157.3" r="1.95" fill="#ff0052"/>
<circle cx="381.5" cy="130.1" r="1.95" fill="#9633c4"/>
<circle cx="386.0" cy="188.3" r="1.95" fill="#0087fb"/>
<circle cx="424.1" cy="46.8" r="1.95" fill="#a428bd"/>
<circle cx="407.5" cy="43.6" r="1.95" fill="#e9009b"/>
<circle cx="399.7" cy="50.0" r="1.95" fill="#fa0089"/>
<circle cx="388.6" cy="70.1" r="1.95" fill="#ee0096"/>
<circle cx="383.0" cy="184.4" r="1.95" fill="#008bfb"/>
<circle cx="287.2" cy="41.4" r="1.95" fill="#008bfb"/>
<circle cx="357.4" cy="186.5" r="1.95" fill="#0088fb"/>
<circle cx="384.6" cy="72.1" r="1.95" fill="#ff0070"/>
<circle cx="410.9" cy="213.4" r="1.95" fill="#0085fb"/>
<circle cx="397.9" cy="331.2" r="1.95" fill="#ff0058"/>
<circle cx="405.1" cy="176.6" r="1.95" fill="#0089fb"/>
<circle cx="396.2" cy="188.2" r="1.95" fill="#0088fb"/>
<circle cx="387.6" cy="123.0" r="1.95" fill="#b31bb4"/>
<circle cx="415.6" cy="188.3" r="1.95" fill="#0089fb"/>
<circle cx="385.5" cy="128.3" r="1.95" fill="#ee0095"/>
<circle cx="400.2" cy="240.1" r="1.95" fill="#0086fb"/>
<circle cx="397.4" cy="154.4" r="1.95" fill="#ff0081"/>
<circle cx="352.2" cy="128.7" r="1.95" fill="#ff0057"/>
<circle cx="383.5" cy="215.3" r="1.95" fill="#ff0069"/>
<circle cx="410.0" cy="213.0" r="1.95" fill="#0086fb"/>
<circle cx="379.7" cy="74.6" r="1.95" fill="#ff0068"/>
<circle cx="415.5" cy="188.6" r="1.95" fill="#008bfb"/>
<circle cx="408.3" cy="190.3" r="1.95" fill="#008bfb"/>
<circle cx="385.1" cy="65.8" r="1.95" fill="#ff0078"/>
<circle cx="379.2" cy="126.4" r="1.95" fill="#ff0079"/>
<circle cx="436.1" cy="39.5" r="1.95" fill="#8345d4"/>
<circle cx="417.9" cy="33.6" r="1.95" fill="#a328bd"/>
<circle cx="394.1" cy="35.6" r="1.95" fill="#ff0054"/>
<circle cx="408.5" cy="124.2" r="1.95" fill="#0085fb"/>
<circle cx="315.3" cy="157.0" r="1.95" fill="#ff0056"/>
<circle cx="401.2" cy="52.0" r="1.95" fill="#f30090"/>
<circle cx="400.0" cy="152.5" r="1.95" fill="#f30091"/>
<circle cx="401.7" cy="307.0" r="1.95" fill="#006cf3"/>
<circle cx="378.4" cy="99.0" r="1.95" fill="#ff0062"/>
<circle cx="410.2" cy="195.8" r="1.95" fill="#008afb"/>
<circle cx="412.8" cy="125.9" r="1.95" fill="#008bfb"/>
<circle cx="420.2" cy="132.9" r="1.95" fill="#008bfb"/>
<circle cx="409.0" cy="274.6" r="1.95" fill="#c010b0"/>
<circle cx="375.9" cy="76.8" r="1.95" fill="#ff006a"/>
<circle cx="441.5" cy="38.2" r="1.95" fill="#6f4fda"/>
<circle cx="398.3" cy="300.2" r="1.95" fill="#0084fb"/>
<circle cx="408.2" cy="179.7" r="1.95" fill="#0088fb"/>
<circle cx="403.3" cy="47.4" r="1.95" fill="#e8009b"/>
<circle cx="410.2" cy="128.3" r="1.95" fill="#008bfb"/>
<circle cx="397.1" cy="107.4" r="1.95" fill="#b916b2"/>
<circle cx="401.9" cy="131.6" r="1.95" fill="#006df3"/>
<circle cx="362.9" cy="128.7" r="1.95" fill="#ff0055"/>
<circle cx="399.6" cy="31.2" r="1.95" fill="#f20091"/>
<circle cx="400.2" cy="215.3" r="1.95" fill="#008afb"/>
<circle cx="442.1" cy="67.4" r="1.95" fill="#0084fb"/>
<circle cx="405.6" cy="294.8" r="1.95" fill="#006df3"/>
<circle cx="405.6" cy="213.0" r="1.95" fill="#008afb"/>
<circle cx="432.8" cy="73.1" r="1.95" fill="#d402a9"/>
<circle cx="418.0" cy="132.8" r="1.95" fill="#0084fb"/>
<circle cx="385.4" cy="42.7" r="1.95" fill="#ff0056"/>
<circle cx="448.1" cy="73.1" r="1.95" fill="#6851da"/>
<circle cx="397.2" cy="252.1" r="1.95" fill="#0087fb"/>
<circle cx="449.4" cy="68.4" r="1.95" fill="#d402a9"/>
<circle cx="414.0" cy="35.0" r="1.95" fill="#a328bd"/>
<circle cx="394.2" cy="105.4" r="1.95" fill="#cc07ac"/>
<circle cx="418.9" cy="243.6" r="1.95" fill="#ff0055"/>
<circle cx="399.2" cy="105.9" r="1.95" fill="#0088fb"/>
<circle cx="402.0" cy="338.3" r="1.95" fill="#e8009b"/>
<circle cx="403.2" cy="421.6" r="1.95" fill="#0083fc"/>
<circle cx="375.1" cy="74.6" r="1.95" fill="#ff0066"/>
<circle cx="280.8" cy="41.2" r="1.95" fill="#0082fc"/>
<circle cx="454.7" cy="157.5" r="1.95" fill="#0084fb"/>
<circle cx="408.2" cy="215.2" r="1.95" fill="#0084fb"/>
<circle cx="376.7" cy="186.3" r="1.95" fill="#0084fb"/>
<circle cx="410.9" cy="73.1" r="1.95" fill="#ca09ad"/>
<circle cx="263.3" cy="41.8" r="1.95" fill="#0087fb"/>
<circle cx="386.0" cy="99.5" r="1.95" fill="#ff0075"/>
<circle cx="399.3" cy="153.4" r="1.95" fill="#ff0074"/>
<circle cx="388.8" cy="216.9" r="1.95" fill="#ff005a"/>
<circle cx="400.1" cy="92.6" r="1.95" fill="#a824bb"/>
<circle cx="412.6" cy="37.1" r="1.95" fill="#b31bb4"/>
<circle cx="402.0" cy="298.0" r="1.95" fill="#0078fa"/>
<circle cx="336.0" cy="157.7" r="1.95" fill="#ff005b"/>
<circle cx="417.2" cy="185.3" r="1.95" fill="#0088fb"/>
<circle cx="360.0" cy="128.1" r="1.95" fill="#ff0051"/>
<circle cx="366.7" cy="69.4" r="1.95" fill="#ff007f"/>
<circle cx="305.4" cy="43.1" r="1.95" fill="#0085fb"/>
<circle cx="402.8" cy="190.6" r="1.95" fill="#0088fb"/>
<circle cx="402.5" cy="306.8" r="1.95" fill="#0076f8"/>
<circle cx="307.0" cy="43.6" r="1.95" fill="#0089fb"/>
<circle cx="314.9" cy="42.1" r="1.95" fill="#0086fb"/>
<circle cx="400.8" cy="71.6" r="1.95" fill="#ce06ac"/>
<circle cx="396.7" cy="93.1" r="1.95" fill="#b916b2"/>
<circle cx="442.0" cy="157.3" r="1.95" fill="#0084fb"/>
<circle cx="434.5" cy="68.3" r="1.95" fill="#9930c3"/>
<circle cx="467.7" cy="70.2" r="1.95" fill="#0085fb"/>
<circle cx="315.2" cy="157.1" r="1.95" fill="#ff0051"/>
<circle cx="422.2" cy="215.1" r="1.95" fill="#0088fb"/>
<circle cx="380.4" cy="184.2" r="1.95" fill="#0086fb"/>
<circle cx="413.0" cy="180.3" r="1.95" fill="#008bfb"/>
<circle cx="414.7" cy="72.4" r="1.95" fill="#dd00a4"/>
<circle cx="390.4" cy="107.2" r="1.95" fill="#f5008e"/>
<circle cx="377.6" cy="79.7" r="1.95" fill="#ff0071"/>
<circle cx="395.8" cy="244.6" r="1.95" fill="#008bfb"/>
<circle cx="403.7" cy="252.3" r="1.95" fill="#007efc"/>
<circle cx="459.6" cy="38.8" r="1.95" fill="#8345d3"/>
<circle cx="367.8" cy="69.2" r="1.95" fill="#ff005c"/>
<circle cx="371.7" cy="186.4" r="1.95" fill="#0089fb"/>
<circle cx="379.8" cy="61.7" r="1.95" fill="#ff007a"/>
<circle cx="403.1" cy="182.4" r="1.95" fill="#008afb"/>
<circle cx="399.7" cy="131.4" r="1.95" fill="#8048d7"/>
<circle cx="468.1" cy="69.8" r="1.95" fill="#008bfb"/>
<circle cx="438.2" cy="72.6" r="1.95" fill="#b31bb4"/>
<circle cx="402.2" cy="300.2" r="1.95" fill="#007afb"/>
<circle cx="352.5" cy="186.7" r="1.95" fill="#0089fb"/>
<circle cx="397.1" cy="95.0" r="1.95" fill="#cd07ac"/>
<circle cx="402.8" cy="192.4" r="1.95" fill="#008bfb"/>
<circle cx="415.7" cy="95.0" r="1.95" fill="#b31bb4"/>
<circle cx="461.9" cy="39.8" r="1.95" fill="#8246d4"/>
<circle cx="443.0" cy="73.3" r="1.95" fill="#0084fb"/>
<circle cx="397.6" cy="389.5" r="1.95" fill="#8444d2"/>
<circle cx="386.2" cy="183.4" r="1.95" fill="#0085fb"/>
<circle cx="417.1" cy="72.5" r="1.95" fill="#b31bb4"/>
<circle cx="409.8" cy="120.5" r="1.95" fill="#754dd9"/>
<circle cx="389.0" cy="97.4" r="1.95" fill="#0088fb"/>
<circle cx="456.5" cy="68.7" r="1.95" fill="#0084fb"/>
<circle cx="377.4" cy="70.0" r="1.95" fill="#ff005b"/>
<circle cx="439.7" cy="68.4" r="1.95" fill="#b31bb4"/>
<circle cx="424.0" cy="128.3" r="1.95" fill="#0084fb"/>
<circle cx="407.5" cy="271.4" r="1.95" fill="#ff0072"/>
<circle cx="408.2" cy="182.2" r="1.95" fill="#008afb"/>
<circle cx="381.0" cy="78.0" r="1.95" fill="#ff0069"/>
<circle cx="379.5" cy="215.5" r="1.95" fill="#ff0051"/>
<circle cx="397.7" cy="91.0" r="1.95" fill="#d402a9"/>
<circle cx="411.4" cy="43.6" r="1.95" fill="#cd07ac"/>
<circle cx="402.0" cy="399.8" r="1.95" fill="#0075f8"/>
<circle cx="402.7" cy="302.6" r="1.95" fill="#0084fb"/>
<circle cx="404.2" cy="194.7" r="1.95" fill="#0085fb"/>
<circle cx="398.4" cy="41.2" r="1.95" fill="#ff0069"/>
<circle cx="382.4" cy="214.5" r="1.95" fill="#ff0056"/>
<circle cx="402.0" cy="205.2" r="1.95" fill="#0087fb"/>
<circle cx="425.4" cy="72.6" r="1.95" fill="#c70bae"/>
<circle cx="402.7" cy="423.2" r="1.95" fill="#0078f9"/>
<circle cx="307.3" cy="39.4" r="1.95" fill="#008afb"/>
<circle cx="416.6" cy="126.4" r="1.95" fill="#0088fb"/>
<circle cx="423.8" cy="96.3" r="1.95" fill="#893fce"/>
<circle cx="320.3" cy="157.2" r="1.95" fill="#ff0051"/>
<circle cx="289.8" cy="42.5" r="1.95" fill="#008bfb"/>
<circle cx="390.8" cy="217.0" r="1.95" fill="#ff0070"/>
<circle cx="393.3" cy="302.1" r="1.95" fill="#008bfb"/>
<circle cx="444.7" cy="67.4" r="1.95" fill="#0084fb"/>
<circle cx="413.6" cy="126.2" r="1.95" fill="#008bfb"/>
<circle cx="429.2" cy="38.7" r="1.95" fill="#794bd9"/>
<circle cx="404.5" cy="96.9" r="1.95" fill="#b31bb4"/>
<circle cx="321.4" cy="157.1" r="1.95" fill="#ff0051"/>
<circle cx="409.8" cy="48.6" r="1.95" fill="#e100a1"/>
<circle cx="398.8" cy="32.8" r="1.95" fill="#f00093"/>
<circle cx="263.2" cy="40.8" r="1.95" fill="#0088fb"/>
<circle cx="409.3" cy="67.3" r="1.95" fill="#c60bae"/>
<circle cx="402.7" cy="205.2" r="1.95" fill="#0087fb"/>
<circle cx="378.3" cy="70.5" r="1.95" fill="#ff0074"/>
<circle cx="402.4" cy="263.4" r="1.95" fill="#ff0076"/>
<circle cx="415.6" cy="39.2" r="1.95" fill="#b31bb4"/>
<circle cx="443.7" cy="43.3" r="1.95" fill="#8246d4"/>
<circle cx="411.8" cy="182.4" r="1.95" fill="#0080fc"/>
<circle cx="384.3" cy="216.5" r="1.95" fill="#ff0067"/>
<circle cx="453.8" cy="72.4" r="1.95" fill="#0076f8"/>
<circle cx="411.4" cy="38.7" r="1.95" fill="#b916b3"/>
<circle cx="397.1" cy="49.4" r="1.95" fill="#ff0078"/>
<circle cx="397.5" cy="154.9" r="1.95" fill="#fa0089"/>
<circle cx="383.7" cy="184.4" r="1.95" fill="#0089fb"/>
<circle cx="397.4" cy="125.3" r="1.95" fill="#8f39c9"/>
<circle cx="387.1" cy="215.5" r="1.95" fill="#ff0064"/>
<circle cx="402.6" cy="428.2" r="1.95" fill="#0077f9"/>
<circle cx="370.5" cy="41.5" r="1.95" fill="#ff0052"/>
<circle cx="391.6" cy="301.2" r="1.95" fill="#0085fb"/>
<circle cx="414.5" cy="105.2" r="1.95" fill="#c60bae"/>
<circle cx="388.0" cy="128.6" r="1.95" fill="#ff0078"/>
<circle cx="375.9" cy="156.7" r="1.95" fill="#ff0068"/>
<circle cx="412.3" cy="137.0" r="1.95" fill="#754dd9"/>
<circle cx="408.7" cy="243.7" r="1.95" fill="#ff0052"/>
<circle cx="430.3" cy="72.9" r="1.95" fill="#c909ae"/>
<circle cx="388.6" cy="95.3" r="1.95" fill="#dd00a4"/>
<circle cx="343.6" cy="156.7" r="1.95" fill="#ff0051"/>
<circle cx="390.1" cy="37.4" r="1.95" fill="#ff005b"/>
<circle cx="390.1" cy="215.5" r="1.95" fill="#ff0066"/>
<circle cx="398.5" cy="238.2" r="1.95" fill="#0088fb"/>
<circle cx="400.3" cy="161.4" r="1.95" fill="#f4008f"/>
<circle cx="321.0" cy="39.8" r="1.95" fill="#008afb"/>
<circle cx="399.2" cy="107.9" r="1.95" fill="#ca09ad"/>
<circle cx="441.0" cy="41.0" r="1.95" fill="#6f4fda"/>
<circle cx="392.8" cy="95.1" r="1.95" fill="#cb08ad"/>
<circle cx="382.6" cy="66.1" r="1.95" fill="#f00094"/>
<circle cx="441.4" cy="38.9" r="1.95" fill="#5f54db"/>
<circle cx="375.5" cy="68.2" r="1.95" fill="#ff0062"/>
<circle cx="411.1" cy="41.3" r="1.95" fill="#b31bb5"/>
<circle cx="401.5" cy="101.3" r="1.95" fill="#cd07ac"/>
<circle cx="389.7" cy="43.2" r="1.95" fill="#ff0051"/>
<circle cx="396.9" cy="248.2" r="1.95" fill="#0086fb"/>
<circle cx="264.2" cy="41.5" r="1.95" fill="#0089fb"/>
<circle cx="417.3" cy="70.5" r="1.95" fill="#d204aa"/>
<circle cx="359.7" cy="128.0" r="1.95" fill="#ff0052"/>
<circle cx="399.5" cy="39.4" r="1.95" fill="#ff006b"/>
<circle cx="422.7" cy="70.6" r="1.95" fill="#c60caf"/>
<circle cx="455.3" cy="43.4" r="1.95" fill="#4f57de"/>
<circle cx="406.4" cy="180.3" r="1.95" fill="#0084fb"/>
<circle cx="420.5" cy="132.2" r="1.95" fill="#0078f9"/>
<circle cx="306.6" cy="41.1" r="1.95" fill="#0084fb"/>
<circle cx="430.0" cy="214.6" r="1.95" fill="#0086fb"/>
<circle cx="409.7" cy="126.3" r="1.95" fill="#0089fb"/>
<circle cx="409.2" cy="272.0" r="1.95" fill="#ef0095"/>
<circle cx="383.5" cy="99.1" r="1.95" fill="#ff005d"/>
<circle cx="406.5" cy="217.6" r="1.95" fill="#008afb"/>
<circle cx="378.1" cy="64.0" r="1.95" fill="#ff0078"/>
<circle cx="427.9" cy="128.2" r="1.95" fill="#008bfb"/>
<circle cx="419.0" cy="132.8" r="1.95" fill="#0089fb"/>
<circle cx="285.3" cy="41.0" r="1.95" fill="#0084fb"/>
<circle cx="418.5" cy="101.4" r="1.95" fill="#8642d1"/>
<circle cx="394.4" cy="37.1" r="1.95" fill="#ff0073"/>
<circle cx="393.9" cy="107.5" r="1.95" fill="#cc07ac"/>
<circle cx="423.6" cy="67.5" r="1.95" fill="#ba15b2"/>
<circle cx="395.8" cy="43.6" r="1.95" fill="#ff0063"/>
<circle cx="399.1" cy="279.1" r="1.95" fill="#0084fb"/>
<circle cx="410.7" cy="177.6" r="1.95" fill="#0085fb"/>
<circle cx="401.9" cy="302.5" r="1.95" fill="#0567ef"/>
<circle cx="423.4" cy="95.8" r="1.95" fill="#a328bd"/>
<circle cx="404.3" cy="265.1" r="1.95" fill="#f5008e"/>
<circle cx="422.7" cy="130.2" r="1.95" fill="#0088fb"/>
<circle cx="390.3" cy="69.0" r="1.95" fill="#ee0095"/>
<circle cx="422.0" cy="186.4" r="1.95" fill="#0089fb"/>
<circle cx="392.4" cy="189.1" r="1.95" fill="#0085fb"/>
<circle cx="435.7" cy="43.1" r="1.95" fill="#744dd9"/>
<circle cx="374.4" cy="70.6" r="1.95" fill="#ff0070"/>
<circle cx="389.2" cy="187.9" r="1.95" fill="#0088fb"/>
<circle cx="394.8" cy="303.6" r="1.95" fill="#0087fb"/>
<circle cx="374.3" cy="188.0" r="1.95" fill="#0087fb"/>
<circle cx="396.0" cy="237.7" r="1.95" fill="#0089fb"/>
<circle cx="402.4" cy="296.4" r="1.95" fill="#0089fb"/>
<circle cx="429.5" cy="157.1" r="1.95" fill="#0084fb"/>
<circle cx="383.8" cy="97.1" r="1.95" fill="#ff005a"/>
<circle cx="404.3" cy="212.9" r="1.95" fill="#0087fb"/>
<circle cx="405.2" cy="218.7" r="1.95" fill="#0084fb"/>
<circle cx="387.3" cy="70.0" r="1.95" fill="#ee0095"/>
<circle cx="400.8" cy="300.4" r="1.95" fill="#007ffc"/>
<circle cx="395.1" cy="302.5" r="1.95" fill="#0084fb"/>
<circle cx="417.4" cy="39.4" r="1.95" fill="#8e3aca"/>
<circle cx="396.1" cy="137.9" r="1.95" fill="#9633c4"/>
<circle cx="406.8" cy="192.9" r="1.95" fill="#008bfb"/>
<circle cx="407.3" cy="270.1" r="1.95" fill="#dc00a4"/>
<circle cx="396.9" cy="215.2" r="1.95" fill="#5d54dc"/>
<circle cx="416.1" cy="215.3" r="1.95" fill="#0089fb"/>
<circle cx="372.1" cy="156.7" r="1.95" fill="#ff005c"/>
<circle cx="389.0" cy="125.5" r="1.95" fill="#dc00a4"/>
<circle cx="369.6" cy="98.3" r="1.95" fill="#ff005d"/>
<circle cx="443.6" cy="41.1" r="1.95" fill="#4f57de"/>
<circle cx="401.9" cy="99.3" r="1.95" fill="#dc00a4"/>
<circle cx="402.7" cy="419.9" r="1.95" fill="#007ffc"/>
<circle cx="420.6" cy="214.6" r="1.95" fill="#0086fb"/>
<circle cx="388.9" cy="131.1" r="1.95" fill="#dc00a4"/>
<circle cx="401.6" cy="103.7" r="1.95" fill="#a328bd"/>
<circle cx="408.6" cy="134.9" r="1.95" fill="#0084fb"/>
<circle cx="401.5" cy="72.0" r="1.95" fill="#e200a0"/>
<circle cx="406.6" cy="99.5" r="1.95" fill="#b519b4"/>
<circle cx="314.7" cy="41.3" r="1.95" fill="#008afb"/>
<circle cx="400.8" cy="279.9" r="1.95" fill="#0081fc"/>
<circle cx="385.1" cy="101.9" r="1.95" fill="#ff0055"/>
<circle cx="407.3" cy="128.4" r="1.95" fill="#0084fb"/>
<circle cx="403.3" cy="441.9" r="1.95" fill="#007bfb"/>
<circle cx="408.2" cy="72.2" r="1.95" fill="#e8009b"/>
<circle cx="411.1" cy="121.8" r="1.95" fill="#0077f9"/>
<circle cx="409.4" cy="98.3" r="1.95" fill="#ac20b8"/>
<circle cx="402.0" cy="339.8" r="1.95" fill="#f30091"/>
<circle cx="390.7" cy="213.7" r="1.95" fill="#ff005b"/>
<circle cx="430.4" cy="67.7" r="1.95" fill="#9138c8"/>
<circle cx="446.7" cy="43.8" r="1.95" fill="#714ed9"/>
<circle cx="401.4" cy="157.0" r="1.95" fill="#f6008d"/>
<circle cx="417.5" cy="418.1" r="1.95" fill="#8f39c9"/>
<circle cx="402.6" cy="362.6" r="1.95" fill="#e4009e"/>
<circle cx="385.0" cy="101.1" r="1.95" fill="#ff0051"/>
<circle cx="389.7" cy="213.7" r="1.95" fill="#ff0066"/>
<circle cx="348.0" cy="128.7" r="1.95" fill="#ff0051"/>
<circle cx="424.7" cy="37.1" r="1.95" fill="#a229be"/>
<circle cx="410.8" cy="418.2" r="1.95" fill="#9d2dc1"/>
<circle cx="408.1" cy="196.0" r="1.95" fill="#754dd9"/>
<circle cx="292.2" cy="42.1" r="1.95" fill="#008afb"/>
<circle cx="415.0" cy="101.3" r="1.95" fill="#aa22b9"/>
<circle cx="396.1" cy="270.6" r="1.95" fill="#0084fb"/>
<circle cx="408.2" cy="67.9" r="1.95" fill="#c909ae"/>
<circle cx="455.6" cy="39.4" r="1.95" fill="#8246d4"/>
<circle cx="387.8" cy="43.5" r="1.95" fill="#ff006d"/>
<circle cx="397.2" cy="246.6" r="1.95" fill="#0085fb"/>
<circle cx="401.9" cy="209.9" r="1.95" fill="#0088fb"/>
<circle cx="327.2" cy="157.6" r="1.95" fill="#ff0051"/>
<circle cx="424.9" cy="68.0" r="1.95" fill="#b31bb4"/>
<circle cx="390.6" cy="39.5" r="1.95" fill="#ff0057"/>
<circle cx="302.8" cy="40.3" r="1.95" fill="#0089fb"/>
<circle cx="415.0" cy="243.7" r="1.95" fill="#ff0053"/>
<circle cx="429.3" cy="73.2" r="1.95" fill="#a12abe"/>
<circle cx="420.2" cy="70.3" r="1.95" fill="#cf05ab"/>
<circle cx="353.2" cy="128.0" r="1.95" fill="#ff0051"/>
<circle cx="422.9" cy="128.1" r="1.95" fill="#008bfb"/>
<circle cx="382.1" cy="188.3" r="1.95" fill="#0088fb"/>
<circle cx="355.9" cy="128.4" r="1.95" fill="#ff0051"/>
<circle cx="386.4" cy="132.4" r="1.95" fill="#f30091"/>
<circle cx="409.6" cy="130.4" r="1.95" fill="#008bfb"/>
<circle cx="395.0" cy="71.5" r="1.95" fill="#e8009b"/>
<circle cx="325.8" cy="157.6" r="1.95" fill="#ff0051"/>
<circle cx="397.3" cy="239.9" r="1.95" fill="#0084fb"/>
<circle cx="280.3" cy="42.0" r="1.95" fill="#0084fb"/>
<circle cx="379.7" cy="68.1" r="1.95" fill="#ff0069"/>
<circle cx="330.7" cy="41.7" r="1.95" fill="#007ffc"/>
<circle cx="403.6" cy="237.9" r="1.95" fill="#8d3bcb"/>
<circle cx="403.5" cy="440.3" r="1.95" fill="#0078f9"/>
<circle cx="397.5" cy="271.5" r="1.95" fill="#893fce"/>
<circle cx="398.3" cy="235.9" r="1.95" fill="#008afb"/>
<circle cx="401.2" cy="35.2" r="1.95" fill="#ff0065"/>
<circle cx="427.4" cy="99.4" r="1.95" fill="#a725bb"/>
<circle cx="412.3" cy="124.0" r="1.95" fill="#0085fb"/>
<circle cx="412.8" cy="302.5" r="1.95" fill="#ff0054"/>
<circle cx="389.7" cy="71.6" r="1.95" fill="#e4009e"/>
<circle cx="395.8" cy="300.4" r="1.95" fill="#0078f9"/>
<circle cx="400.6" cy="101.4" r="1.95" fill="#0088fb"/>
<circle cx="400.5" cy="236.0" r="1.95" fill="#0085fb"/>
<circle cx="454.6" cy="70.5" r="1.95" fill="#0076f8"/>
<circle cx="390.3" cy="302.2" r="1.95" fill="#0087fb"/>
<circle cx="400.4" cy="298.1" r="1.95" fill="#0085fb"/>
<circle cx="418.3" cy="105.9" r="1.95" fill="#774cd9"/>
<circle cx="405.8" cy="389.1" r="1.95" fill="#0087fb"/>
<circle cx="407.4" cy="132.3" r="1.95" fill="#007afb"/>
<circle cx="385.5" cy="130.2" r="1.95" fill="#f10092"/>
<circle cx="421.0" cy="389.5" r="1.95" fill="#0087fb"/>
<circle cx="412.5" cy="39.0" r="1.95" fill="#ad20b8"/>
<circle cx="407.5" cy="45.5" r="1.95" fill="#ec0098"/>
<circle cx="402.8" cy="455.8" r="1.95" fill="#007dfc"/>
<circle cx="402.4" cy="266.7" r="1.95" fill="#bd13b1"/>
<circle cx="414.0" cy="245.0" r="1.95" fill="#ff0055"/>
<circle cx="398.5" cy="304.2" r="1.95" fill="#008bfb"/>
<circle cx="424.3" cy="130.1" r="1.95" fill="#0087fb"/>
<circle cx="408.0" cy="176.6" r="1.95" fill="#0089fb"/>
<circle cx="431.0" cy="215.2" r="1.95" fill="#0086fb"/>
<circle cx="390.8" cy="36.9" r="1.95" fill="#ff005e"/>
<circle cx="399.5" cy="93.2" r="1.95" fill="#c40daf"/>
<circle cx="289.7" cy="41.5" r="1.95" fill="#0089fb"/>
<circle cx="409.9" cy="43.4" r="1.95" fill="#d402a9"/>
<circle cx="399.0" cy="157.6" r="1.95" fill="#ff0073"/>
<circle cx="382.5" cy="64.7" r="1.95" fill="#f30090"/>
<circle cx="374.2" cy="41.5" r="1.95" fill="#ff0051"/>
<circle cx="400.4" cy="217.7" r="1.95" fill="#0089fb"/>
<circle cx="377.3" cy="72.2" r="1.95" fill="#ff007b"/>
<circle cx="381.1" cy="214.7" r="1.95" fill="#ff0068"/>
<circle cx="388.0" cy="39.0" r="1.95" fill="#ff0059"/>
<circle cx="386.5" cy="134.0" r="1.95" fill="#9633c4"/>
<circle cx="439.9" cy="38.5" r="1.95" fill="#8e3ac9"/>
<circle cx="440.1" cy="67.6" r="1.95" fill="#9b2fc2"/>
<circle cx="463.1" cy="42.2" r="1.95" fill="#8246d5"/>
<circle cx="400.6" cy="237.7" r="1.95" fill="#0087fb"/>
<circle cx="414.7" cy="93.4" r="1.95" fill="#d303aa"/>
<circle cx="370.9" cy="158.0" r="1.95" fill="#ff0058"/>
<circle cx="364.2" cy="157.3" r="1.95" fill="#ff005b"/>
<circle cx="355.9" cy="186.8" r="1.95" fill="#0088fb"/>
<circle cx="446.4" cy="39.1" r="1.95" fill="#6252db"/>
<circle cx="379.7" cy="60.9" r="1.95" fill="#ff0072"/>
<circle cx="392.8" cy="71.4" r="1.95" fill="#e200a0"/>
<circle cx="307.6" cy="43.6" r="1.95" fill="#0084fb"/>
<circle cx="403.1" cy="157.4" r="1.95" fill="#f6008d"/>
<circle cx="334.8" cy="156.9" r="1.95" fill="#ff0052"/>
<circle cx="412.8" cy="194.2" r="1.95" fill="#0088fb"/>
<circle cx="419.7" cy="97.4" r="1.95" fill="#a12abe"/>
<circle cx="399.2" cy="161.3" r="1.95" fill="#ff007a"/>
<circle cx="445.0" cy="38.6" r="1.95" fill="#6651db"/>
<circle cx="321.1" cy="42.8" r="1.95" fill="#0087fb"/>
<circle cx="438.8" cy="43.7" r="1.95" fill="#8345d4"/>
<circle cx="416.2" cy="120.9" r="1.95" fill="#008bfb"/>
<circle cx="398.0" cy="101.3" r="1.95" fill="#cc07ac"/>
<circle cx="390.9" cy="107.1" r="1.95" fill="#0088fb"/>
<circle cx="406.4" cy="447.5" r="1.95" fill="#8f39c8"/>
<circle cx="427.0" cy="215.3" r="1.95" fill="#0087fb"/>
<circle cx="416.7" cy="214.6" r="1.95" fill="#0088fb"/>
<circle cx="402.5" cy="413.4" r="1.95" fill="#0076f8"/>
<circle cx="378.9" cy="80.8" r="1.95" fill="#ff0079"/>
<circle cx="451.3" cy="67.8" r="1.95" fill="#0071f5"/>
<circle cx="390.2" cy="186.4" r="1.95" fill="#008bfb"/>
<circle cx="374.5" cy="72.1" r="1.95" fill="#ff005d"/>
<circle cx="349.0" cy="158.0" r="1.95" fill="#ff0055"/>
<circle cx="405.2" cy="195.8" r="1.95" fill="#008bfb"/>
<circle cx="400.1" cy="306.1" r="1.95" fill="#0088fb"/>
<circle cx="377.7" cy="78.9" r="1.95" fill="#ff0062"/>
<circle cx="408.3" cy="67.7" r="1.95" fill="#d303aa"/>
<circle cx="423.3" cy="34.7" r="1.95" fill="#8d3bcb"/>
<circle cx="439.7" cy="39.0" r="1.95" fill="#3f5be2"/>
<circle cx="385.9" cy="74.1" r="1.95" fill="#eb0098"/>
<circle cx="394.6" cy="360.4" r="1.95" fill="#ff0057"/>
<circle cx="397.5" cy="131.3" r="1.95" fill="#8444d3"/>
<circle cx="401.9" cy="180.4" r="1.95" fill="#0088fb"/>
<circle cx="369.0" cy="187.3" r="1.95" fill="#008bfb"/>
<circle cx="413.5" cy="132.4" r="1.95" fill="#008bfb"/>
<circle cx="418.0" cy="126.0" r="1.95" fill="#0070f5"/>
<circle cx="434.0" cy="67.7" r="1.95" fill="#d402a9"/>
<circle cx="445.1" cy="157.3" r="1.95" fill="#008bfb"/>
<circle cx="453.7" cy="67.7" r="1.95" fill="#0077f9"/>
<circle cx="406.9" cy="157.4" r="1.95" fill="#be12b1"/>
<circle cx="397.3" cy="47.3" r="1.95" fill="#ff0073"/>
<circle cx="399.7" cy="32.8" r="1.95" fill="#f20092"/>
<circle cx="318.4" cy="41.5" r="1.95" fill="#0085fb"/>
<circle cx="401.7" cy="126.5" r="1.95" fill="#754dd9"/>
<circle cx="395.9" cy="360.2" r="1.95" fill="#ff005a"/>
<circle cx="394.2" cy="105.8" r="1.95" fill="#b51ab4"/>
<circle cx="380.8" cy="101.6" r="1.95" fill="#ff0075"/>
<circle cx="410.7" cy="217.2" r="1.95" fill="#0085fb"/>
<circle cx="403.7" cy="247.5" r="1.95" fill="#0086fb"/>
<circle cx="396.1" cy="136.3" r="1.95" fill="#8b3dcc"/>
<circle cx="322.9" cy="157.0" r="1.95" fill="#ff0051"/>
<circle cx="393.4" cy="39.5" r="1.95" fill="#ff005c"/>
<circle cx="398.1" cy="31.8" r="1.95" fill="#f7008c"/>
<circle cx="407.8" cy="186.2" r="1.95" fill="#0084fb"/>
<circle cx="391.8" cy="47.0" r="1.95" fill="#ff0053"/>
<circle cx="398.9" cy="389.5" r="1.95" fill="#7c4bd8"/>
<circle cx="403.7" cy="99.4" r="1.95" fill="#b916b2"/>
<circle cx="406.3" cy="128.6" r="1.95" fill="#006df3"/>
<circle cx="407.2" cy="70.4" r="1.95" fill="#c60bae"/>
<circle cx="392.6" cy="183.5" r="1.95" fill="#0088fb"/>
<circle cx="405.1" cy="184.2" r="1.95" fill="#0084fb"/>
<circle cx="405.5" cy="304.8" r="1.95" fill="#0084fb"/>
<circle cx="371.9" cy="100.5" r="1.95" fill="#ff005b"/>
<circle cx="310.1" cy="42.5" r="1.95" fill="#0087fb"/>
<circle cx="425.0" cy="43.7" r="1.95" fill="#744dd9"/>
<circle cx="397.4" cy="128.3" r="1.95" fill="#7d4ad8"/>
<circle cx="395.9" cy="304.2" r="1.95" fill="#0078f9"/>
<circle cx="402.0" cy="68.6" r="1.95" fill="#c20fb0"/>
<circle cx="402.8" cy="186.2" r="1.95" fill="#008afb"/>
<circle cx="410.8" cy="99.1" r="1.95" fill="#b31bb4"/>
<circle cx="387.7" cy="43.1" r="1.95" fill="#ff005b"/>
<circle cx="286.8" cy="44.1" r="1.95" fill="#007efc"/>
<circle cx="378.5" cy="76.4" r="1.95" fill="#f4008f"/>
<circle cx="402.7" cy="452.7" r="1.95" fill="#0078f9"/>
<circle cx="400.0" cy="154.1" r="1.95" fill="#f00093"/>
<circle cx="327.8" cy="41.3" r="1.95" fill="#0089fb"/>
<circle cx="413.9" cy="41.5" r="1.95" fill="#9633c5"/>
<circle cx="283.3" cy="40.6" r="1.95" fill="#0084fb"/>
<circle cx="413.2" cy="186.6" r="1.95" fill="#0087fb"/>
<circle cx="419.0" cy="245.0" r="1.95" fill="#ff005a"/>
<circle cx="405.6" cy="301.5" r="1.95" fill="#9633c4"/>
<circle cx="400.6" cy="304.5" r="1.95" fill="#0076f8"/>
<circle cx="456.9" cy="38.9" r="1.95" fill="#8d3bcb"/>
<circle cx="287.5" cy="44.3" r="1.95" fill="#0084fb"/>
<circle cx="375.6" cy="99.1" r="1.95" fill="#ff0051"/>
<circle cx="414.8" cy="244.9" r="1.95" fill="#ff0051"/>
<circle cx="378.9" cy="130.2" r="1.95" fill="#e4009f"/>
<circle cx="454.8" cy="68.3" r="1.95" fill="#0084fb"/>
<circle cx="411.6" cy="186.6" r="1.95" fill="#0087fb"/>
<circle cx="427.6" cy="67.2" r="1.95" fill="#c60bae"/>
<circle cx="460.4" cy="69.3" r="1.95" fill="#008afb"/>
<circle cx="401.5" cy="218.0" r="1.95" fill="#008bfb"/>
<circle cx="401.5" cy="188.4" r="1.95" fill="#0087fb"/>
<circle cx="402.8" cy="440.3" r="1.95" fill="#0078f9"/>
<circle cx="412.8" cy="128.0" r="1.95" fill="#008bfb"/>
<circle cx="460.3" cy="41.0" r="1.95" fill="#4f57df"/>
<circle cx="321.0" cy="41.6" r="1.95" fill="#0085fb"/>
<circle cx="402.0" cy="152.5" r="1.95" fill="#ff007e"/>
<circle cx="400.9" cy="125.8" r="1.95" fill="#4e58df"/>
<circle cx="403.8" cy="97.3" r="1.95" fill="#cc07ac"/>
<circle cx="392.2" cy="188.1" r="1.95" fill="#008bfb"/>
<circle cx="354.9" cy="185.9" r="1.95" fill="#0085fb"/>
<circle cx="282.9" cy="41.1" r="1.95" fill="#0084fb"/>
<circle cx="426.1" cy="70.4" r="1.95" fill="#c40daf"/>
<circle cx="416.7" cy="244.3" r="1.95" fill="#ff0051"/>
<circle cx="406.8" cy="249.8" r="1.95" fill="#2660e7"/>
<circle cx="401.5" cy="152.8" r="1.95" fill="#ff0078"/>
<circle cx="413.3" cy="178.4" r="1.95" fill="#0089fb"/>
<circle cx="389.1" cy="125.5" r="1.95" fill="#d402a9"/>
<circle cx="422.3" cy="95.2" r="1.95" fill="#9434c6"/>
<circle cx="409.1" cy="36.9" r="1.95" fill="#dc00a4"/>
<circle cx="398.1" cy="252.7" r="1.95" fill="#008bfb"/>
<circle cx="398.1" cy="49.8" r="1.95" fill="#ff0074"/>
<circle cx="287.2" cy="43.3" r="1.95" fill="#008bfb"/>
<circle cx="402.6" cy="416.7" r="1.95" fill="#0078f9"/>
<circle cx="410.8" cy="72.5" r="1.95" fill="#d402a9"/>
<circle cx="406.1" cy="134.5" r="1.95" fill="#0073f7"/>
<circle cx="264.9" cy="42.0" r="1.95" fill="#0089fb"/>
<circle cx="407.2" cy="331.1" r="1.95" fill="#0076f8"/>
<circle cx="403.5" cy="244.3" r="1.95" fill="#f7008c"/>
<circle cx="385.5" cy="124.0" r="1.95" fill="#e3009f"/>
<circle cx="386.3" cy="102.4" r="1.95" fill="#ff006a"/>
<circle cx="380.2" cy="74.4" r="1.95" fill="#fe0085"/>
<circle cx="401.1" cy="130.8" r="1.95" fill="#4959e0"/>
<circle cx="422.3" cy="73.3" r="1.95" fill="#b41ab4"/>
<circle cx="403.7" cy="302.2" r="1.95" fill="#4e58df"/>
<circle cx="453.7" cy="70.1" r="1.95" fill="#0084fb"/>
<circle cx="396.3" cy="99.1" r="1.95" fill="#ce06ac"/>
<circle cx="413.5" cy="178.6" r="1.95" fill="#0085fb"/>
<circle cx="422.4" cy="187.0" r="1.95" fill="#008bfb"/>
<circle cx="400.9" cy="152.5" r="1.95" fill="#ff007a"/>
<circle cx="454.9" cy="72.3" r="1.95" fill="#0089fb"/>
<circle cx="396.8" cy="103.6" r="1.95" fill="#c60caf"/>
<circle cx="401.5" cy="161.8" r="1.95" fill="#ee0095"/>
<circle cx="268.2" cy="41.0" r="1.95" fill="#0089fb"/>
<circle cx="367.5" cy="185.4" r="1.95" fill="#0089fb"/>
<circle cx="408.9" cy="272.0" r="1.95" fill="#a427bd"/>
<circle cx="420.2" cy="93.4" r="1.95" fill="#0088fb"/>
<circle cx="400.8" cy="244.2" r="1.95" fill="#0088fb"/>
<circle cx="425.1" cy="101.1" r="1.95" fill="#8e3ac9"/>
<circle cx="432.1" cy="157.2" r="1.95" fill="#6c4fda"/>
<circle cx="433.7" cy="41.0" r="1.95" fill="#335de5"/>
<circle cx="441.6" cy="72.1" r="1.95" fill="#5d54dc"/>
<circle cx="404.5" cy="123.3" r="1.95" fill="#0076f8"/>
<circle cx="417.5" cy="134.6" r="1.95" fill="#0085fb"/>
<circle cx="399.6" cy="130.3" r="1.95" fill="#5556dd"/>
<circle cx="384.3" cy="130.7" r="1.95" fill="#ff007c"/>
<circle cx="432.1" cy="40.5" r="1.95" fill="#8e3aca"/>
<circle cx="406.5" cy="33.3" r="1.95" fill="#dc00a4"/>
<circle cx="382.9" cy="132.0" r="1.95" fill="#f6008d"/>
<circle cx="379.0" cy="66.0" r="1.95" fill="#ff006a"/>
<circle cx="280.4" cy="40.6" r="1.95" fill="#008bfb"/>
<circle cx="412.0" cy="102.8" r="1.95" fill="#9633c4"/>
<circle cx="416.4" cy="121.9" r="1.95" fill="#0078f9"/>
<circle cx="387.6" cy="130.1" r="1.95" fill="#eb0098"/>
<circle cx="346.4" cy="156.7" r="1.95" fill="#ff0053"/>
<circle cx="399.5" cy="99.0" r="1.95" fill="#d204aa"/>
<circle cx="285.9" cy="43.0" r="1.95" fill="#893fce"/>
<circle cx="389.0" cy="130.5" r="1.95" fill="#ca09ad"/>
<circle cx="368.9" cy="185.3" r="1.95" fill="#0085fb"/>
<circle cx="408.4" cy="72.9" r="1.95" fill="#bc13b1"/>
<circle cx="403.8" cy="39.4" r="1.95" fill="#f10092"/>
<circle cx="415.9" cy="121.8" r="1.95" fill="#0086fb"/>
<circle cx="314.6" cy="40.5" r="1.95" fill="#0086fb"/>
<circle cx="431.2" cy="39.8" r="1.95" fill="#5a55dc"/>
<circle cx="395.2" cy="188.3" r="1.95" fill="#0086fb"/>
<circle cx="408.1" cy="70.1" r="1.95" fill="#b817b3"/>
<circle cx="412.8" cy="184.0" r="1.95" fill="#0087fb"/>
<circle cx="420.8" cy="185.5" r="1.95" fill="#0089fb"/>
<circle cx="401.9" cy="154.1" r="1.95" fill="#ff007a"/>
<circle cx="382.2" cy="70.3" r="1.95" fill="#ff0076"/>
<circle cx="413.0" cy="331.2" r="1.95" fill="#f5008e"/>
<circle cx="429.6" cy="129.2" r="1.95" fill="#008bfb"/>
<circle cx="404.7" cy="32.9" r="1.95" fill="#dc00a4"/>
<circle cx="406.9" cy="68.3" r="1.95" fill="#ee0095"/>
<circle cx="338.6" cy="157.1" r="1.95" fill="#ff0054"/>
<circle cx="400.4" cy="248.4" r="1.95" fill="#0085fb"/>
<circle cx="398.8" cy="185.1" r="1.95" fill="#0086fb"/>
<circle cx="329.1" cy="41.4" r="1.95" fill="#008bfb"/>
<circle cx="369.4" cy="68.6" r="1.95" fill="#f7008c"/>
<circle cx="403.4" cy="455.8" r="1.95" fill="#0075f8"/>
<circle cx="325.1" cy="41.1" r="1.95" fill="#008bfb"/>
<circle cx="399.4" cy="51.4" r="1.95" fill="#f4008f"/>
<circle cx="415.0" cy="34.4" r="1.95" fill="#a328bd"/>
<circle cx="425.1" cy="45.6" r="1.95" fill="#8d3bcb"/>
<circle cx="424.8" cy="35.9" r="1.95" fill="#b31bb4"/>
<circle cx="373.2" cy="184.8" r="1.95" fill="#0085fb"/>
<circle cx="429.6" cy="43.3" r="1.95" fill="#9633c4"/>
<circle cx="451.3" cy="72.2" r="1.95" fill="#1763eb"/>
<circle cx="403.1" cy="353.3" r="1.95" fill="#de00a3"/>
<circle cx="404.5" cy="217.4" r="1.95" fill="#0085fb"/>
<circle cx="400.9" cy="304.2" r="1.95" fill="#0086fb"/>
<circle cx="401.9" cy="147.7" r="1.95" fill="#f5008e"/>
<circle cx="440.2" cy="43.4" r="1.95" fill="#5656dd"/>
<circle cx="414.4" cy="188.2" r="1.95" fill="#0084fb"/>
<circle cx="411.6" cy="273.4" r="1.95" fill="#ff005e"/>
<circle cx="415.7" cy="188.2" r="1.95" fill="#008afb"/>
<circle cx="409.7" cy="43.7" r="1.95" fill="#d701a9"/>
<circle cx="392.6" cy="91.1" r="1.95" fill="#dc00a4"/>
<circle cx="390.4" cy="273.5" r="1.95" fill="#0088fb"/>
<circle cx="404.6" cy="160.3" r="1.95" fill="#fa0089"/>
<circle cx="463.8" cy="70.3" r="1.95" fill="#008bfb"/>
<circle cx="385.3" cy="122.9" r="1.95" fill="#dc00a4"/>
<circle cx="413.4" cy="103.6" r="1.95" fill="#b718b3"/>
<circle cx="399.1" cy="275.2" r="1.95" fill="#008afb"/>
<circle cx="402.9" cy="448.1" r="1.95" fill="#0078f9"/>
<circle cx="405.7" cy="68.3" r="1.95" fill="#ce06ac"/>
<circle cx="409.4" cy="136.1" r="1.95" fill="#0087fb"/>
<circle cx="353.2" cy="128.7" r="1.95" fill="#ff0051"/>
<circle cx="429.2" cy="67.4" r="1.95" fill="#ce06ac"/>
<circle cx="374.6" cy="97.6" r="1.95" fill="#ff0057"/>
<circle cx="406.9" cy="240.4" r="1.95" fill="#8543d2"/>
<circle cx="400.1" cy="93.1" r="1.95" fill="#0088fb"/>
<circle cx="436.9" cy="67.9" r="1.95" fill="#0084fb"/>
<circle cx="377.2" cy="99.5" r="1.95" fill="#ff0051"/>
<circle cx="398.8" cy="244.5" r="1.95" fill="#0087fb"/>
<circle cx="305.4" cy="41.2" r="1.95" fill="#0085fb"/>
<circle cx="388.7" cy="95.0" r="1.95" fill="#0088fb"/>
<circle cx="388.8" cy="188.5" r="1.95" fill="#0087fb"/>
<circle cx="405.6" cy="241.8" r="1.95" fill="#f30090"/>
<circle cx="403.4" cy="102.5" r="1.95" fill="#a427bd"/>
<circle cx="400.7" cy="217.1" r="1.95" fill="#0085fb"/>
<circle cx="309.6" cy="43.0" r="1.95" fill="#0087fb"/>
<circle cx="419.2" cy="47.8" r="1.95" fill="#b519b4"/>
<circle cx="400.0" cy="162.1" r="1.95" fill="#ff0079"/>
<circle cx="406.6" cy="186.1" r="1.95" fill="#008bfb"/>
<circle cx="388.7" cy="130.5" r="1.95" fill="#dc00a4"/>
<circle cx="410.3" cy="176.8" r="1.95" fill="#008afb"/>
<circle cx="410.0" cy="157.2" r="1.95" fill="#af1eb7"/>
<circle cx="423.6" cy="73.1" r="1.95" fill="#af1fb7"/>
<circle cx="405.1" cy="304.3" r="1.95" fill="#8642d1"/>
<circle cx="414.7" cy="184.3" r="1.95" fill="#0086fb"/>
<circle cx="459.8" cy="43.6" r="1.95" fill="#6d4fda"/>
<circle cx="388.8" cy="106.7" r="1.95" fill="#cf06ab"/>
<circle cx="411.0" cy="184.3" r="1.95" fill="#008bfb"/>
<circle cx="358.8" cy="128.7" r="1.95" fill="#ff0051"/>
<circle cx="362.9" cy="186.3" r="1.95" fill="#0085fb"/>
<circle cx="400.2" cy="159.2" r="1.95" fill="#ff007a"/>
<circle cx="264.4" cy="40.6" r="1.95" fill="#0087fb"/>
<circle cx="401.9" cy="158.9" r="1.95" fill="#f5008e"/>
<circle cx="399.7" cy="45.5" r="1.95" fill="#ff0078"/>
<circle cx="403.0" cy="99.0" r="1.95" fill="#d402a9"/>
<circle cx="410.9" cy="177.1" r="1.95" fill="#0085fb"/>
<circle cx="351.5" cy="158.0" r="1.95" fill="#ff0051"/>
<circle cx="421.0" cy="68.1" r="1.95" fill="#9633c4"/>
<circle cx="393.3" cy="43.7" r="1.95" fill="#ff0057"/>
<circle cx="371.0" cy="70.1" r="1.95" fill="#ff006d"/>
<circle cx="387.7" cy="41.5" r="1.95" fill="#ff0066"/>
<circle cx="414.8" cy="132.7" r="1.95" fill="#0087fb"/>
<circle cx="403.1" cy="154.9" r="1.95" fill="#f10093"/>
<circle cx="387.3" cy="126.4" r="1.95" fill="#dc00a4"/>
<circle cx="373.4" cy="157.6" r="1.95" fill="#ff0068"/>
<circle cx="445.6" cy="72.1" r="1.95" fill="#d402a9"/>
<circle cx="401.0" cy="39.1" r="1.95" fill="#ee0096"/>
<circle cx="419.4" cy="43.4" r="1.95" fill="#9434c6"/>
<circle cx="401.1" cy="51.7" r="1.95" fill="#f30091"/>
<circle cx="384.3" cy="126.4" r="1.95" fill="#e4009e"/>
<circle cx="439.6" cy="70.3" r="1.95" fill="#a129be"/>
<circle cx="387.6" cy="126.1" r="1.95" fill="#f30091"/>
<circle cx="412.5" cy="157.1" r="1.95" fill="#0084fb"/>
<circle cx="416.1" cy="331.3" r="1.95" fill="#0085fb"/>
<circle cx="399.5" cy="240.3" r="1.95" fill="#0086fb"/>
<circle cx="392.9" cy="101.5" r="1.95" fill="#d402a9"/>
<circle cx="412.6" cy="121.9" r="1.95" fill="#008bfb"/>
<circle cx="447.5" cy="43.7" r="1.95" fill="#5d54dc"/>
<circle cx="460.7" cy="43.5" r="1.95" fill="#0071f5"/>
<circle cx="466.3" cy="70.9" r="1.95" fill="#0087fb"/>
<circle cx="340.7" cy="157.3" r="1.95" fill="#ff0051"/>
<circle cx="399.7" cy="103.8" r="1.95" fill="#d402a9"/>
<circle cx="398.1" cy="92.9" r="1.95" fill="#0088fb"/>
<circle cx="395.0" cy="418.1" r="1.95" fill="#ff0057"/>
<circle cx="404.3" cy="155.2" r="1.95" fill="#ed0097"/>
<circle cx="387.6" cy="133.1" r="1.95" fill="#df00a3"/>
<circle cx="413.1" cy="68.5" r="1.95" fill="#dc00a4"/>
<circle cx="428.7" cy="99.0" r="1.95" fill="#9633c5"/>
<circle cx="318.8" cy="157.2" r="1.95" fill="#ff0051"/>
<circle cx="270.7" cy="40.8" r="1.95" fill="#0086fb"/>
<circle cx="372.8" cy="41.6" r="1.95" fill="#ff0051"/>
<circle cx="403.6" cy="245.9" r="1.95" fill="#f20092"/>
<circle cx="390.4" cy="301.2" r="1.95" fill="#008bfb"/>
<circle cx="394.2" cy="92.8" r="1.95" fill="#e5009e"/>
<circle cx="420.2" cy="244.3" r="1.95" fill="#ff005d"/>
<circle cx="402.5" cy="30.8" r="1.95" fill="#f30090"/>
<circle cx="416.1" cy="70.0" r="1.95" fill="#a427bd"/>
<circle cx="416.5" cy="47.8" r="1.95" fill="#b31bb5"/>
<circle cx="374.8" cy="75.4" r="1.95" fill="#ff0064"/>
<circle cx="386.1" cy="72.1" r="1.95" fill="#ff0074"/>
<circle cx="416.4" cy="215.3" r="1.95" fill="#0086fb"/>
<circle cx="330.7" cy="40.9" r="1.95" fill="#0084fb"/>
<circle cx="417.7" cy="122.1" r="1.95" fill="#0089fb"/>
<circle cx="378.9" cy="63.9" r="1.95" fill="#ff0075"/>
<circle cx="377.7" cy="76.6" r="1.95" fill="#ff0084"/>
<circle cx="422.2" cy="103.2" r="1.95" fill="#5e54dc"/>
<circle cx="405.5" cy="246.8" r="1.95" fill="#dc00a4"/>
<circle cx="285.9" cy="41.3" r="1.95" fill="#0086fb"/>
<circle cx="385.9" cy="39.8" r="1.95" fill="#ff005d"/>
<circle cx="378.4" cy="101.2" r="1.95" fill="#ff0070"/>
<circle cx="386.5" cy="130.7" r="1.95" fill="#9633c4"/>
<circle cx="380.8" cy="188.6" r="1.95" fill="#0086fb"/>
<circle cx="414.5" cy="95.4" r="1.95" fill="#ac21b8"/>
<circle cx="402.5" cy="353.3" r="1.95" fill="#ee0095"/>
<circle cx="429.8" cy="215.2" r="1.95" fill="#0086fb"/>
<circle cx="388.0" cy="302.1" r="1.95" fill="#0086fb"/>
<circle cx="404.2" cy="271.7" r="1.95" fill="#4c58df"/>
<circle cx="408.3" cy="128.5" r="1.95" fill="#0085fb"/>
<circle cx="406.9" cy="242.0" r="1.95" fill="#9d2dc1"/>
<circle cx="407.9" cy="70.2" r="1.95" fill="#dc00a4"/>
<circle cx="415.5" cy="273.4" r="1.95" fill="#0087fb"/>
<circle cx="313.5" cy="40.6" r="1.95" fill="#0089fb"/>
<circle cx="409.5" cy="212.8" r="1.95" fill="#0089fb"/>
<circle cx="399.0" cy="242.1" r="1.95" fill="#0085fb"/>
<circle cx="402.0" cy="149.3" r="1.95" fill="#ff0080"/>
<circle cx="399.5" cy="91.1" r="1.95" fill="#d303aa"/>
<circle cx="368.1" cy="71.4" r="1.95" fill="#ff0066"/>
<circle cx="389.0" cy="302.2" r="1.95" fill="#0088fb"/>
<circle cx="401.7" cy="159.5" r="1.95" fill="#eb0099"/>
<circle cx="429.6" cy="41.4" r="1.95" fill="#7e4ad8"/>
<circle cx="356.3" cy="156.7" r="1.95" fill="#ff0053"/>
<circle cx="410.1" cy="35.2" r="1.95" fill="#c70bae"/>
<circle cx="400.5" cy="70.5" r="1.95" fill="#dc00a4"/>
<circle cx="378.5" cy="80.8" r="1.95" fill="#ff0063"/>
<circle cx="418.8" cy="94.9" r="1.95" fill="#9e2cc0"/>
<circle cx="426.5" cy="157.4" r="1.95" fill="#9732c4"/>
<circle cx="459.2" cy="43.8" r="1.95" fill="#8741d0"/>
<circle cx="378.1" cy="72.2" r="1.95" fill="#ff0080"/>
<circle cx="362.9" cy="156.7" r="1.95" fill="#ff0059"/>
<circle cx="402.0" cy="333.6" r="1.95" fill="#ed0096"/>
<circle cx="393.8" cy="71.4" r="1.95" fill="#dc00a4"/>
<circle cx="405.1" cy="126.4" r="1.95" fill="#0086fb"/>
<circle cx="432.6" cy="72.5" r="1.95" fill="#9930c3"/>
<circle cx="397.7" cy="107.6" r="1.95" fill="#ca09ad"/>
<circle cx="409.2" cy="192.3" r="1.95" fill="#0088fb"/>
<circle cx="394.3" cy="99.4" r="1.95" fill="#d900a7"/>
<circle cx="404.1" cy="186.5" r="1.95" fill="#0085fb"/>
<circle cx="415.3" cy="157.2" r="1.95" fill="#008bfb"/>
<circle cx="402.0" cy="219.2" r="1.95" fill="#0087fb"/>
<circle cx="390.7" cy="213.7" r="1.95" fill="#ff0079"/>
<circle cx="452.0" cy="72.8" r="1.95" fill="#0078f9"/>
<circle cx="399.4" cy="93.0" r="1.95" fill="#d303aa"/>
<circle cx="400.0" cy="163.7" r="1.95" fill="#ff0074"/>
<circle cx="282.2" cy="40.4" r="1.95" fill="#0089fb"/>
<circle cx="400.1" cy="105.8" r="1.95" fill="#a229be"/>
<circle cx="421.9" cy="243.4" r="1.95" fill="#ff0051"/>
<circle cx="414.5" cy="181.9" r="1.95" fill="#008bfb"/>
<circle cx="413.3" cy="190.5" r="1.95" fill="#0087fb"/>
<circle cx="418.1" cy="49.0" r="1.95" fill="#a427bd"/>
<circle cx="413.6" cy="94.3" r="1.95" fill="#ac21b9"/>
<circle cx="430.1" cy="68.2" r="1.95" fill="#d402a9"/>
<circle cx="403.0" cy="385.3" r="1.95" fill="#0075f8"/>
<circle cx="359.2" cy="156.7" r="1.95" fill="#ff0055"/>
<circle cx="422.8" cy="96.9" r="1.95" fill="#893fce"/>
<circle cx="408.4" cy="99.3" r="1.95" fill="#a527bc"/>
<circle cx="409.9" cy="217.8" r="1.95" fill="#0089fb"/>
<circle cx="379.7" cy="65.9" r="1.95" fill="#f6008d"/>
<circle cx="396.5" cy="331.3" r="1.95" fill="#ff0058"/>
<circle cx="445.1" cy="44.0" r="1.95" fill="#6951da"/>
<circle cx="404.8" cy="182.4" r="1.95" fill="#008bfb"/>
<circle cx="404.0" cy="311.0" r="1.95" fill="#4a58e0"/>
<circle cx="344.7" cy="157.5" r="1.95" fill="#ff0051"/>
<circle cx="398.2" cy="248.8" r="1.95" fill="#0088fb"/>
<circle cx="379.6" cy="72.3" r="1.95" fill="#ff0070"/>
<circle cx="431.2" cy="214.7" r="1.95" fill="#0086fb"/>
<circle cx="397.1" cy="97.1" r="1.95" fill="#0088fb"/>
<circle cx="322.6" cy="41.4" r="1.95" fill="#0084fb"/>
<circle cx="453.1" cy="41.6" r="1.95" fill="#8c3ccb"/>
<circle cx="367.6" cy="186.1" r="1.95" fill="#0086fb"/>
<circle cx="399.9" cy="150.9" r="1.95" fill="#ff007e"/>
<circle cx="438.4" cy="38.9" r="1.95" fill="#6d4fda"/>
<circle cx="444.1" cy="44.1" r="1.95" fill="#6053db"/>
<circle cx="406.2" cy="45.5" r="1.95" fill="#cf06ab"/>
<circle cx="422.4" cy="185.6" r="1.95" fill="#0087fb"/>
<circle cx="453.9" cy="68.2" r="1.95" fill="#0078f9"/>
<circle cx="412.6" cy="43.1" r="1.95" fill="#ab21b9"/>
<circle cx="397.9" cy="160.2" r="1.95" fill="#ee0096"/>
<circle cx="309.6" cy="39.6" r="1.95" fill="#008afb"/>
<circle cx="288.3" cy="39.0" r="1.95" fill="#0086fb"/>
<circle cx="381.1" cy="66.4" r="1.95" fill="#ea009a"/>
<circle cx="398.3" cy="43.1" r="1.95" fill="#ff0073"/>
<circle cx="267.2" cy="40.3" r="1.95" fill="#0086fb"/>
<circle cx="417.5" cy="35.3" r="1.95" fill="#9633c4"/>
<circle cx="395.1" cy="90.6" r="1.95" fill="#be12b1"/>
<circle cx="409.6" cy="184.0" r="1.95" fill="#008bfb"/>
<circle cx="390.4" cy="126.0" r="1.95" fill="#dc00a4"/>
<circle cx="268.6" cy="40.5" r="1.95" fill="#008bfb"/>
<circle cx="373.4" cy="70.4" r="1.95" fill="#ff0059"/>
<circle cx="418.0" cy="34.9" r="1.95" fill="#9732c4"/>
<circle cx="357.6" cy="186.8" r="1.95" fill="#008bfb"/>
<circle cx="402.0" cy="336.7" r="1.95" fill="#eb0099"/>
<circle cx="387.2" cy="95.0" r="1.95" fill="#d800a8"/>
<circle cx="402.6" cy="219.2" r="1.95" fill="#0084fb"/>
<circle cx="408.8" cy="39.4" r="1.95" fill="#e4009e"/>
<circle cx="395.5" cy="250.9" r="1.95" fill="#0089fb"/>
<circle cx="397.2" cy="271.0" r="1.95" fill="#0081fc"/>
<circle cx="386.1" cy="66.7" r="1.95" fill="#f40090"/>
<circle cx="461.4" cy="71.3" r="1.95" fill="#0089fb"/>
<circle cx="408.8" cy="43.4" r="1.95" fill="#b916b3"/>
<circle cx="393.0" cy="108.4" r="1.95" fill="#ce06ac"/>
<circle cx="405.3" cy="188.3" r="1.95" fill="#0086fb"/>
<circle cx="405.3" cy="122.5" r="1.95" fill="#754dd9"/>
<circle cx="402.0" cy="330.5" r="1.95" fill="#b717b3"/>
<circle cx="408.8" cy="134.4" r="1.95" fill="#0084fb"/>
<circle cx="406.1" cy="271.2" r="1.95" fill="#a02bbf"/>
<circle cx="404.9" cy="132.8" r="1.95" fill="#754dd9"/>
<circle cx="414.6" cy="96.9" r="1.95" fill="#0088fb"/>
<circle cx="379.5" cy="215.8" r="1.95" fill="#ff0066"/>
<circle cx="390.1" cy="128.0" r="1.95" fill="#c909ae"/>
<circle cx="424.7" cy="99.5" r="1.95" fill="#9931c3"/>
<circle cx="403.1" cy="394.9" r="1.95" fill="#0076f9"/>
<circle cx="407.8" cy="37.0" r="1.95" fill="#ee0096"/>
<circle cx="416.1" cy="67.5" r="1.95" fill="#d005ab"/>
<circle cx="404.1" cy="312.6" r="1.95" fill="#8d3bcb"/>
<circle cx="408.3" cy="212.7" r="1.95" fill="#007cfc"/>
<circle cx="297.5" cy="41.0" r="1.95" fill="#008afb"/>
<circle cx="389.7" cy="39.4" r="1.95" fill="#ff0064"/>
<circle cx="403.0" cy="102.9" r="1.95" fill="#dc00a4"/>
<circle cx="390.3" cy="69.0" r="1.95" fill="#e4009e"/>
<circle cx="391.3" cy="105.3" r="1.95" fill="#0088fb"/>
<circle cx="313.6" cy="42.0" r="1.95" fill="#008bfb"/>
<circle cx="386.9" cy="213.7" r="1.95" fill="#ff0061"/>
<circle cx="384.8" cy="99.0" r="1.95" fill="#ff0051"/>
<circle cx="406.8" cy="184.2" r="1.95" fill="#0089fb"/>
<circle cx="288.8" cy="39.0" r="1.95" fill="#0085fb"/>
<circle cx="386.3" cy="128.4" r="1.95" fill="#dc00a4"/>
<circle cx="401.0" cy="41.0" r="1.95" fill="#f4008f"/>
<circle cx="267.1" cy="41.5" r="1.95" fill="#007ffc"/>
<circle cx="388.7" cy="213.7" r="1.95" fill="#ff0070"/>
<circle cx="379.8" cy="76.5" r="1.95" fill="#f6008d"/>
<circle cx="390.5" cy="41.1" r="1.95" fill="#ff0063"/>
<circle cx="458.7" cy="70.1" r="1.95" fill="#0084fb"/>
<circle cx="327.8" cy="42.1" r="1.95" fill="#0087fb"/>
<circle cx="265.9" cy="42.2" r="1.95" fill="#0084fb"/>
<circle cx="371.6" cy="70.5" r="1.95" fill="#ff006a"/>
<circle cx="298.9" cy="42.0" r="1.95" fill="#0087fb"/>
<circle cx="438.4" cy="43.7" r="1.95" fill="#6352db"/>
<circle cx="405.7" cy="248.4" r="1.95" fill="#b41ab4"/>
<circle cx="397.7" cy="447.5" r="1.95" fill="#b817b3"/>
<circle cx="397.3" cy="32.7" r="1.95" fill="#f10092"/>
<circle cx="462.9" cy="70.2" r="1.95" fill="#0086fb"/>
<circle cx="338.3" cy="157.9" r="1.95" fill="#ff0053"/>
<circle cx="401.0" cy="162.1" r="1.95" fill="#ff0079"/>
<circle cx="385.0" cy="132.3" r="1.95" fill="#ff0076"/>
<circle cx="446.9" cy="73.1" r="1.95" fill="#704eda"/>
<circle cx="265.9" cy="40.4" r="1.95" fill="#0084fb"/>
<circle cx="424.8" cy="101.1" r="1.95" fill="#8d3bcb"/>
<circle cx="357.6" cy="158.0" r="1.95" fill="#ff0054"/>
<circle cx="408.9" cy="331.4" r="1.95" fill="#893fce"/>
<circle cx="391.1" cy="99.5" r="1.95" fill="#c10fb0"/>
<circle cx="349.0" cy="128.7" r="1.95" fill="#ff0056"/>
<circle cx="397.8" cy="50.8" r="1.95" fill="#ff0073"/>
<circle cx="320.4" cy="157.1" r="1.95" fill="#ff0054"/>
<circle cx="418.9" cy="215.5" r="1.95" fill="#0087fb"/>
<circle cx="438.3" cy="70.0" r="1.95" fill="#9d2dc1"/>
<circle cx="385.6" cy="273.3" r="1.95" fill="#0086fb"/>
<circle cx="410.5" cy="194.9" r="1.95" fill="#0086fb"/>
<circle cx="428.9" cy="98.5" r="1.95" fill="#8f39c9"/>
<circle cx="383.8" cy="72.2" r="1.95" fill="#ee0096"/>
<circle cx="360.2" cy="186.1" r="1.95" fill="#0086fb"/>
<circle cx="359.1" cy="186.0" r="1.95" fill="#0086fb"/>
<circle cx="456.6" cy="43.2" r="1.95" fill="#6f4fda"/>
<circle cx="413.0" cy="120.0" r="1.95" fill="#0088fb"/>
<circle cx="413.7" cy="130.2" r="1.95" fill="#008bfb"/>
<circle cx="441.0" cy="72.7" r="1.95" fill="#9c2ec1"/>
<circle cx="403.3" cy="411.7" r="1.95" fill="#0077f9"/>
<circle cx="298.7" cy="40.6" r="1.95" fill="#008bfb"/>
<circle cx="413.1" cy="124.2" r="1.95" fill="#0087fb"/>
<circle cx="390.1" cy="70.5" r="1.95" fill="#f7008c"/>
<circle cx="452.8" cy="37.8" r="1.95" fill="#5e54dc"/>
<circle cx="378.6" cy="59.6" r="1.95" fill="#ff0076"/>
<circle cx="350.8" cy="128.2" r="1.95" fill="#ff0053"/>
<circle cx="387.8" cy="301.6" r="1.95" fill="#008bfb"/>
<circle cx="371.2" cy="41.0" r="1.95" fill="#ff0052"/>
<circle cx="369.7" cy="157.0" r="1.95" fill="#ff005b"/>
<circle cx="392.9" cy="99.2" r="1.95" fill="#0088fb"/>
<circle cx="420.7" cy="216.1" r="1.95" fill="#0086fb"/>
<circle cx="354.5" cy="128.7" r="1.95" fill="#ff0051"/>
<circle cx="287.3" cy="43.4" r="1.95" fill="#0084fb"/>
<circle cx="402.7" cy="457.4" r="1.95" fill="#0078fa"/>
<circle cx="400.5" cy="130.9" r="1.95" fill="#5a55dc"/>
<circle cx="301.4" cy="41.3" r="1.95" fill="#0089fb"/>
<circle cx="400.9" cy="297.8" r="1.95" fill="#0084fb"/>
<circle cx="411.3" cy="186.1" r="1.95" fill="#008bfb"/>
<circle cx="401.2" cy="302.0" r="1.95" fill="#0073f7"/>
<circle cx="402.1" cy="188.5" r="1.95" fill="#008bfb"/>
<circle cx="337.3" cy="156.8" r="1.95" fill="#ff0051"/>
<circle cx="409.8" cy="72.6" r="1.95" fill="#da00a6"/>
<circle cx="415.3" cy="184.1" r="1.95" fill="#008bfb"/>
<circle cx="395.0" cy="89.8" r="1.95" fill="#cc07ac"/>
<circle cx="398.7" cy="267.7" r="1.95" fill="#008afb"/>
<circle cx="408.4" cy="132.5" r="1.95" fill="#0089fb"/>
<circle cx="418.0" cy="106.1" r="1.95" fill="#8d3bca"/>
<circle cx="397.7" cy="273.1" r="1.95" fill="#0085fb"/>
<circle cx="402.9" cy="391.7" r="1.95" fill="#0072f6"/>
<circle cx="452.8" cy="43.1" r="1.95" fill="#6950da"/>
<circle cx="374.6" cy="99.5" r="1.95" fill="#ff0065"/>
<circle cx="402.9" cy="177.6" r="1.95" fill="#0087fb"/>
<circle cx="438.2" cy="68.1" r="1.95" fill="#ad20b8"/>
<circle cx="439.2" cy="67.7" r="1.95" fill="#7c4ad8"/>
<circle cx="397.6" cy="97.2" r="1.95" fill="#bf11b1"/>
<circle cx="422.7" cy="130.4" r="1.95" fill="#008afb"/>
<circle cx="403.2" cy="367.3" r="1.95" fill="#e6009d"/>
<circle cx="406.4" cy="47.4" r="1.95" fill="#ee0095"/>
<circle cx="415.8" cy="183.4" r="1.95" fill="#0087fb"/>
<circle cx="382.8" cy="132.1" r="1.95" fill="#f10093"/>
<circle cx="425.7" cy="215.6" r="1.95" fill="#0089fb"/>
<circle cx="390.6" cy="303.4" r="1.95" fill="#0084fb"/>
<circle cx="417.6" cy="243.7" r="1.95" fill="#ff0052"/>
<circle cx="384.7" cy="101.4" r="1.95" fill="#ff0060"/>
<circle cx="424.0" cy="68.3" r="1.95" fill="#b51ab4"/>
<circle cx="285.3" cy="42.5" r="1.95" fill="#0087fb"/>
<circle cx="434.9" cy="42.7" r="1.95" fill="#4d58df"/>
<circle cx="387.7" cy="123.5" r="1.95" fill="#dc00a4"/>
<circle cx="388.7" cy="103.7" r="1.95" fill="#ea009a"/>
<circle cx="460.4" cy="71.3" r="1.95" fill="#0085fb"/>
<circle cx="395.1" cy="274.6" r="1.95" fill="#0089fb"/>
<circle cx="424.0" cy="273.2" r="1.95" fill="#0085fb"/>
<circle cx="401.8" cy="212.6" r="1.95" fill="#0089fb"/>
<circle cx="379.2" cy="128.5" r="1.95" fill="#ef0095"/>
<circle cx="458.8" cy="71.3" r="1.95" fill="#0088fb"/>
<circle cx="404.1" cy="300.0" r="1.95" fill="#4859e0"/>
<circle cx="351.7" cy="156.7" r="1.95" fill="#ff0052"/>
<circle cx="450.2" cy="44.3" r="1.95" fill="#6e4fda"/>
<circle cx="421.1" cy="99.6" r="1.95" fill="#8345d3"/>
<circle cx="424.1" cy="70.1" r="1.95" fill="#cf06ab"/>
<circle cx="414.3" cy="39.3" r="1.95" fill="#9335c6"/>
<circle cx="409.4" cy="215.6" r="1.95" fill="#0084fb"/>
<circle cx="390.2" cy="105.4" r="1.95" fill="#0088fb"/>
<circle cx="391.4" cy="188.1" r="1.95" fill="#0088fb"/>
<circle cx="399.2" cy="252.4" r="1.95" fill="#0085fb"/>
<circle cx="403.2" cy="424.9" r="1.95" fill="#0077f9"/>
<circle cx="381.1" cy="186.2" r="1.95" fill="#0089fb"/>
<circle cx="365.5" cy="158.0" r="1.95" fill="#ff0058"/>
<circle cx="386.0" cy="302.4" r="1.95" fill="#0086fb"/>
<circle cx="415.6" cy="215.3" r="1.95" fill="#0086fb"/>
<circle cx="447.8" cy="39.0" r="1.95" fill="#4e58df"/>
<circle cx="407.9" cy="122.4" r="1.95" fill="#0084fb"/>
<circle cx="404.0" cy="309.4" r="1.95" fill="#0084fb"/>
<circle cx="381.0" cy="101.9" r="1.95" fill="#ff0069"/>
<circle cx="379.6" cy="70.3" r="1.95" fill="#ff0075"/>
<circle cx="406.1" cy="331.1" r="1.95" fill="#0085fb"/>
<circle cx="426.8" cy="128.1" r="1.95" fill="#008bfb"/>
<circle cx="408.0" cy="179.8" r="1.95" fill="#754dd9"/>
<circle cx="379.0" cy="81.0" r="1.95" fill="#ff0077"/>
<circle cx="372.1" cy="187.8" r="1.95" fill="#0087fb"/>
<circle cx="276.7" cy="41.2" r="1.95" fill="#0089fb"/>
<circle cx="312.4" cy="42.1" r="1.95" fill="#0089fb"/>
<circle cx="403.3" cy="454.3" r="1.95" fill="#0078f9"/>
<circle cx="396.7" cy="276.0" r="1.95" fill="#0084fb"/>
<circle cx="374.8" cy="68.0" r="1.95" fill="#ff006c"/>
<circle cx="402.7" cy="220.7" r="1.95" fill="#0086fb"/>
<circle cx="426.9" cy="37.2" r="1.95" fill="#9335c6"/>
<circle cx="424.6" cy="215.3" r="1.95" fill="#0086fb"/>
<circle cx="414.0" cy="45.6" r="1.95" fill="#8e3ac9"/>
<circle cx="393.1" cy="215.5" r="1.95" fill="#4b58df"/>
<circle cx="402.4" cy="271.7" r="1.95" fill="#893fce"/>
<circle cx="396.8" cy="101.7" r="1.95" fill="#e4009e"/>
<circle cx="370.6" cy="100.4" r="1.95" fill="#ff0051"/>
<circle cx="377.9" cy="184.8" r="1.95" fill="#0087fb"/>
<circle cx="320.2" cy="40.3" r="1.95" fill="#0086fb"/>
<circle cx="393.2" cy="35.3" r="1.95" fill="#ff005a"/>
<circle cx="263.1" cy="41.3" r="1.95" fill="#0088fb"/>
<circle cx="440.6" cy="331.3" r="1.95" fill="#0088fb"/>
<circle cx="450.1" cy="43.6" r="1.95" fill="#6452db"/>
<circle cx="424.1" cy="72.5" r="1.95" fill="#b11db6"/>
<circle cx="377.2" cy="78.7" r="1.95" fill="#ff0077"/>
<circle cx="405.6" cy="177.6" r="1.95" fill="#0088fb"/>
<circle cx="397.4" cy="129.8" r="1.95" fill="#724ed9"/>
<circle cx="407.7" cy="188.6" r="1.95" fill="#0088fb"/>
<circle cx="365.8" cy="157.2" r="1.95" fill="#ff005d"/>
<circle cx="407.0" cy="418.1" r="1.95" fill="#ff005d"/>
<circle cx="405.5" cy="308.2" r="1.95" fill="#0078f9"/>
<circle cx="421.3" cy="273.2" r="1.95" fill="#ee0096"/>
<circle cx="404.6" cy="97.1" r="1.95" fill="#c30eaf"/>
<circle cx="405.1" cy="302.2" r="1.95" fill="#8e3ac9"/>
<circle cx="366.6" cy="158.0" r="1.95" fill="#ff005b"/>
<circle cx="402.0" cy="321.2" r="1.95" fill="#d204aa"/>
<circle cx="394.4" cy="47.5" r="1.95" fill="#ff0056"/>
<circle cx="406.5" cy="49.3" r="1.95" fill="#dc00a4"/>
<circle cx="407.9" cy="184.3" r="1.95" fill="#0085fb"/>
<circle cx="392.2" cy="37.4" r="1.95" fill="#ff0073"/>
<circle cx="404.7" cy="31.8" r="1.95" fill="#cc07ac"/>
<circle cx="422.1" cy="47.4" r="1.95" fill="#9633c4"/>
<circle cx="420.6" cy="43.4" r="1.95" fill="#8e3ac9"/>
<circle cx="458.7" cy="69.3" r="1.95" fill="#008bfb"/>
<circle cx="350.2" cy="158.0" r="1.95" fill="#ff0053"/>
<circle cx="390.3" cy="95.3" r="1.95" fill="#dc00a4"/>
<circle cx="402.2" cy="49.7" r="1.95" fill="#ee0096"/>
<circle cx="401.5" cy="70.4" r="1.95" fill="#c50daf"/>
<circle cx="385.1" cy="133.7" r="1.95" fill="#dc00a4"/>
<circle cx="428.6" cy="100.1" r="1.95" fill="#a328bd"/>
<circle cx="433.6" cy="129.0" r="1.95" fill="#007afb"/>
<circle cx="460.2" cy="70.6" r="1.95" fill="#008bfb"/>
<circle cx="377.4" cy="60.9" r="1.95" fill="#ff006b"/>
<circle cx="403.2" cy="188.7" r="1.95" fill="#0085fb"/>
<circle cx="334.7" cy="157.1" r="1.95" fill="#ff005a"/>
<circle cx="397.4" cy="37.2" r="1.95" fill="#ff0076"/>
<circle cx="411.2" cy="128.5" r="1.95" fill="#754dd9"/>
<circle cx="413.6" cy="101.1" r="1.95" fill="#c60bae"/>
<circle cx="266.1" cy="41.3" r="1.95" fill="#008bfb"/>
<circle cx="444.7" cy="72.1" r="1.95" fill="#d402a9"/>
<circle cx="401.7" cy="192.2" r="1.95" fill="#0084fb"/>
<circle cx="421.5" cy="37.1" r="1.95" fill="#8d3bca"/>
<circle cx="426.8" cy="39.3" r="1.95" fill="#8d3bca"/>
<circle cx="390.5" cy="157.2" r="1.95" fill="#ff006d"/>
<circle cx="362.0" cy="158.0" r="1.95" fill="#ff005a"/>
<circle cx="403.3" cy="96.1" r="1.95" fill="#0088fb"/>
<circle cx="416.2" cy="73.1" r="1.95" fill="#b718b3"/>
<circle cx="402.5" cy="283.2" r="1.95" fill="#e8009b"/>
<circle cx="399.6" cy="235.5" r="1.95" fill="#0087fb"/>
<circle cx="412.2" cy="418.3" r="1.95" fill="#8345d4"/>
<circle cx="425.2" cy="67.9" r="1.95" fill="#a824bb"/>
<circle cx="397.2" cy="41.3" r="1.95" fill="#ff0073"/>
<circle cx="387.8" cy="130.1" r="1.95" fill="#dc00a4"/>
<circle cx="401.0" cy="162.0" r="1.95" fill="#ff007c"/>
<circle cx="420.4" cy="128.2" r="1.95" fill="#008afb"/>
<circle cx="402.8" cy="325.9" r="1.95" fill="#ff0072"/>
<circle cx="375.0" cy="158.0" r="1.95" fill="#ff005f"/>
<circle cx="459.7" cy="39.0" r="1.95" fill="#5656dd"/>
<circle cx="412.3" cy="95.8" r="1.95" fill="#ac21b9"/>
<circle cx="425.6" cy="36.4" r="1.95" fill="#8444d3"/>
<circle cx="408.1" cy="134.2" r="1.95" fill="#007ffc"/>
<circle cx="399.2" cy="236.2" r="1.95" fill="#008bfb"/>
<circle cx="418.0" cy="124.0" r="1.95" fill="#0084fb"/>
<circle cx="372.1" cy="72.5" r="1.95" fill="#ff0051"/>
<circle cx="416.3" cy="37.1" r="1.95" fill="#8f39c9"/>
<circle cx="432.1" cy="41.1" r="1.95" fill="#5556dd"/>
<circle cx="415.0" cy="128.5" r="1.95" fill="#0085fb"/>
<circle cx="421.3" cy="67.8" r="1.95" fill="#bf11b1"/>
<circle cx="403.1" cy="399.8" r="1.95" fill="#0077f9"/>
<circle cx="402.5" cy="265.1" r="1.95" fill="#f10092"/>
<circle cx="414.2" cy="43.3" r="1.95" fill="#b31bb4"/>
<circle cx="418.5" cy="103.4" r="1.95" fill="#8e3aca"/>
<circle cx="387.0" cy="184.0" r="1.95" fill="#0089fb"/>
<circle cx="424.8" cy="99.0" r="1.95" fill="#6e4fda"/>
<circle cx="342.1" cy="158.0" r="1.95" fill="#ff0051"/>
<circle cx="400.8" cy="213.0" r="1.95" fill="#0087fb"/>
<circle cx="415.2" cy="48.2" r="1.95" fill="#9f2cc0"/>
<circle cx="394.7" cy="129.9" r="1.95" fill="#9c2ec1"/>
<circle cx="379.2" cy="184.5" r="1.95" fill="#0087fb"/>
<circle cx="299.3" cy="41.6" r="1.95" fill="#0084fb"/>
<circle cx="430.4" cy="72.2" r="1.95" fill="#0084fb"/>
<circle cx="410.0" cy="134.5" r="1.95" fill="#0086fb"/>
<circle cx="399.6" cy="269.3" r="1.95" fill="#0084fb"/>
<circle cx="411.1" cy="243.6" r="1.95" fill="#ff0058"/>
<circle cx="397.0" cy="300.2" r="1.95" fill="#0089fb"/>
<circle cx="404.7" cy="35.3" r="1.95" fill="#e8009c"/>
<circle cx="394.0" cy="47.0" r="1.95" fill="#ff005c"/>
<circle cx="396.2" cy="39.5" r="1.95" fill="#ff0063"/>
<circle cx="404.3" cy="41.3" r="1.95" fill="#f7008c"/>
<circle cx="396.7" cy="244.1" r="1.95" fill="#0087fb"/>
<circle cx="408.1" cy="132.5" r="1.95" fill="#0085fb"/>
<circle cx="403.5" cy="254.0" r="1.95" fill="#3a5ce3"/>
<circle cx="302.9" cy="42.3" r="1.95" fill="#0088fb"/>
<circle cx="373.1" cy="100.7" r="1.95" fill="#ff0070"/>
<circle cx="391.1" cy="95.0" r="1.95" fill="#e8009b"/>
<circle cx="403.2" cy="217.4" r="1.95" fill="#0087fb"/>
<circle cx="399.6" cy="128.5" r="1.95" fill="#734dd9"/>
<circle cx="301.8" cy="42.2" r="1.95" fill="#893fce"/>
<circle cx="442.7" cy="38.5" r="1.95" fill="#3b5ce3"/>
<circle cx="386.4" cy="68.3" r="1.95" fill="#fe0085"/>
<circle cx="404.1" cy="293.6" r="1.95" fill="#0071f5"/>
<circle cx="423.4" cy="97.1" r="1.95" fill="#9237c7"/>
<circle cx="400.2" cy="103.8" r="1.95" fill="#c60bae"/>
<circle cx="401.0" cy="167.0" r="1.95" fill="#ff0074"/>
<circle cx="439.8" cy="73.0" r="1.95" fill="#734dd9"/>
<circle cx="431.8" cy="128.1" r="1.95" fill="#0083fc"/>
<circle cx="378.1" cy="186.2" r="1.95" fill="#008afb"/>
<circle cx="414.5" cy="95.0" r="1.95" fill="#cc07ac"/>
<circle cx="427.3" cy="43.1" r="1.95" fill="#8543d1"/>
<circle cx="325.5" cy="43.2" r="1.95" fill="#008bfb"/>
<circle cx="412.4" cy="67.7" r="1.95" fill="#bd13b1"/>
<circle cx="421.3" cy="104.9" r="1.95" fill="#9832c4"/>
<circle cx="424.4" cy="126.5" r="1.95" fill="#008bfb"/>
<circle cx="412.0" cy="101.3" r="1.95" fill="#c909ae"/>
<circle cx="402.4" cy="37.4" r="1.95" fill="#ce06ac"/>
<circle cx="409.8" cy="99.1" r="1.95" fill="#ae1fb8"/>
<circle cx="461.3" cy="70.3" r="1.95" fill="#0089fb"/>
<circle cx="349.4" cy="186.0" r="1.95" fill="#008bfb"/>
<circle cx="451.8" cy="157.5" r="1.95" fill="#0089fb"/>
<circle cx="426.4" cy="331.4" r="1.95" fill="#0086fb"/>
<circle cx="410.7" cy="188.7" r="1.95" fill="#0089fb"/>
<circle cx="421.5" cy="101.3" r="1.95" fill="#a923ba"/>
<circle cx="413.8" cy="41.3" r="1.95" fill="#a824bb"/>
<circle cx="376.2" cy="157.9" r="1.95" fill="#ff0062"/>
<circle cx="433.3" cy="42.2" r="1.95" fill="#6552db"/>
<circle cx="402.4" cy="124.8" r="1.95" fill="#315ee5"/>
<circle cx="370.4" cy="187.5" r="1.95" fill="#008afb"/>
<circle cx="382.6" cy="96.8" r="1.95" fill="#ff0051"/>
<circle cx="381.1" cy="96.7" r="1.95" fill="#ff0070"/>
<circle cx="400.0" cy="155.1" r="1.95" fill="#ff0073"/>
<circle cx="421.4" cy="95.4" r="1.95" fill="#ab22b9"/>
<circle cx="411.1" cy="119.9" r="1.95" fill="#008bfb"/>
<circle cx="413.8" cy="35.1" r="1.95" fill="#b519b4"/>
<circle cx="399.8" cy="97.3" r="1.95" fill="#ac21b9"/>
<circle cx="398.7" cy="418.3" r="1.95" fill="#ff0058"/>
<circle cx="399.6" cy="298.5" r="1.95" fill="#0084fb"/>
<circle cx="382.5" cy="68.3" r="1.95" fill="#f20091"/>
<circle cx="354.8" cy="128.2" r="1.95" fill="#ff0051"/>
<circle cx="383.2" cy="188.2" r="1.95" fill="#008bfb"/>
<circle cx="404.0" cy="181.9" r="1.95" fill="#0088fb"/>
<circle cx="418.8" cy="96.9" r="1.95" fill="#893fce"/>
<circle cx="457.5" cy="70.5" r="1.95" fill="#008bfb"/>
<circle cx="414.7" cy="130.5" r="1.95" fill="#008bfb"/>
<circle cx="452.4" cy="72.4" r="1.95" fill="#d402a9"/>
<circle cx="345.1" cy="156.7" r="1.95" fill="#ff0058"/>
<circle cx="403.2" cy="362.6" r="1.95" fill="#ed0096"/>
<circle cx="368.4" cy="157.4" r="1.95" fill="#ff005b"/>
<circle cx="455.7" cy="45.5" r="1.95" fill="#704eda"/>
<circle cx="414.9" cy="97.1" r="1.95" fill="#a229be"/>
<circle cx="417.9" cy="105.3" r="1.95" fill="#9a30c3"/>
<circle cx="387.6" cy="133.6" r="1.95" fill="#d402a9"/>
<circle cx="316.4" cy="157.1" r="1.95" fill="#ff0051"/>
<circle cx="396.7" cy="91.3" r="1.95" fill="#d104ab"/>
<circle cx="398.7" cy="37.3" r="1.95" fill="#ff0052"/>
<circle cx="403.7" cy="131.9" r="1.95" fill="#754dd9"/>
<circle cx="406.8" cy="217.4" r="1.95" fill="#0083fc"/>
<circle cx="394.7" cy="272.0" r="1.95" fill="#0084fb"/>
<circle cx="454.9" cy="70.2" r="1.95" fill="#008bfb"/>
<circle cx="428.1" cy="157.4" r="1.95" fill="#8e3ac9"/>
<circle cx="404.4" cy="270.0" r="1.95" fill="#6651db"/>
<circle cx="383.2" cy="215.5" r="1.95" fill="#ff0073"/>
<circle cx="410.9" cy="182.3" r="1.95" fill="#008afb"/>
<circle cx="399.1" cy="271.5" r="1.95" fill="#0085fb"/>
<circle cx="458.2" cy="39.4" r="1.95" fill="#7a4bd8"/>
<circle cx="400.9" cy="155.7" r="1.95" fill="#ff006d"/>
<circle cx="389.0" cy="128.4" r="1.95" fill="#dd00a4"/>
<circle cx="396.0" cy="129.9" r="1.95" fill="#a427bd"/>
<circle cx="401.6" cy="99.1" r="1.95" fill="#cb08ad"/>
<circle cx="304.0" cy="40.1" r="1.95" fill="#0084fb"/>
<circle cx="408.5" cy="72.2" r="1.95" fill="#cd07ac"/>
<circle cx="400.6" cy="267.1" r="1.95" fill="#0168f0"/>
<circle cx="403.2" cy="218.2" r="1.95" fill="#0086fb"/>
<circle cx="392.4" cy="184.0" r="1.95" fill="#0086fb"/>
<circle cx="356.0" cy="128.0" r="1.95" fill="#ff0053"/>
<circle cx="465.3" cy="70.0" r="1.95" fill="#008bfb"/>
<circle cx="278.3" cy="41.7" r="1.95" fill="#0084fb"/>
<circle cx="391.1" cy="71.4" r="1.95" fill="#f20092"/>
<circle cx="310.5" cy="42.4" r="1.95" fill="#0089fb"/>
<circle cx="418.0" cy="41.4" r="1.95" fill="#8e3ac9"/>
<circle cx="392.6" cy="97.4" r="1.95" fill="#e4009e"/>
<circle cx="444.9" cy="73.2" r="1.95" fill="#5756dd"/>
<circle cx="431.8" cy="42.1" r="1.95" fill="#6e4fda"/>
<circle cx="318.7" cy="157.1" r="1.95" fill="#ff0051"/>
<circle cx="397.8" cy="299.3" r="1.95" fill="#0078fa"/>
<circle cx="414.4" cy="67.9" r="1.95" fill="#d402a9"/>
<circle cx="406.6" cy="134.5" r="1.95" fill="#0077f9"/>
<circle cx="403.1" cy="180.0" r="1.95" fill="#008bfb"/>
<circle cx="453.2" cy="44.8" r="1.95" fill="#7e4ad8"/>
<circle cx="375.4" cy="41.5" r="1.95" fill="#ff0051"/>
<circle cx="412.9" cy="182.1" r="1.95" fill="#0088fb"/>
<circle cx="419.0" cy="216.1" r="1.95" fill="#0085fb"/>
<circle cx="418.0" cy="121.7" r="1.95" fill="#007efc"/>
<circle cx="400.8" cy="45.2" r="1.95" fill="#eb0099"/>
<circle cx="395.9" cy="41.1" r="1.95" fill="#ff0079"/>
<circle cx="400.0" cy="187.6" r="1.95" fill="#0086fb"/>
<circle cx="409.9" cy="132.5" r="1.95" fill="#754dd9"/>
<circle cx="372.6" cy="41.0" r="1.95" fill="#ff0052"/>
<circle cx="402.9" cy="336.7" r="1.95" fill="#e8009b"/>
<circle cx="414.0" cy="302.1" r="1.95" fill="#ff0057"/>
<circle cx="416.6" cy="134.5" r="1.95" fill="#008bfb"/>
<circle cx="455.3" cy="37.1" r="1.95" fill="#714ed9"/>
<circle cx="407.2" cy="122.4" r="1.95" fill="#754dd9"/>
<circle cx="413.3" cy="215.2" r="1.95" fill="#0088fb"/>
<circle cx="389.9" cy="70.3" r="1.95" fill="#dc00a4"/>
<circle cx="447.6" cy="43.6" r="1.95" fill="#7a4bd8"/>
<circle cx="412.4" cy="72.9" r="1.95" fill="#c70bae"/>
<circle cx="402.8" cy="446.5" r="1.95" fill="#007cfc"/>
<circle cx="423.2" cy="99.6" r="1.95" fill="#b817b3"/>
<circle cx="441.2" cy="43.5" r="1.95" fill="#6a50da"/>
<circle cx="410.3" cy="41.4" r="1.95" fill="#d502a9"/>
<circle cx="447.5" cy="41.2" r="1.95" fill="#754dd9"/>
<circle cx="462.1" cy="42.8" r="1.95" fill="#8444d2"/>
<circle cx="382.3" cy="64.4" r="1.95" fill="#ff0068"/>
<circle cx="400.6" cy="157.6" r="1.95" fill="#f7008c"/>
<circle cx="426.7" cy="67.6" r="1.95" fill="#ae1fb8"/>
<circle cx="427.4" cy="68.5" r="1.95" fill="#b21bb5"/>
<circle cx="405.4" cy="99.0" r="1.95" fill="#c60bae"/>
<circle cx="420.2" cy="126.2" r="1.95" fill="#0086fb"/>
<circle cx="416.1" cy="418.5" r="1.95" fill="#8b3dcc"/>
<circle cx="325.4" cy="157.6" r="1.95" fill="#ff0056"/>
<circle cx="403.9" cy="190.2" r="1.95" fill="#008bfb"/>
<circle cx="398.0" cy="41.4" r="1.95" fill="#ff0079"/>
<circle cx="382.8" cy="273.3" r="1.95" fill="#0086fb"/>
<circle cx="412.3" cy="128.5" r="1.95" fill="#0084fb"/>
<circle cx="374.9" cy="156.7" r="1.95" fill="#ff0063"/>
<circle cx="411.0" cy="99.2" r="1.95" fill="#c909ae"/>
<circle cx="383.2" cy="126.2" r="1.95" fill="#e200a0"/>
<circle cx="404.3" cy="281.5" r="1.95" fill="#dc00a4"/>
<circle cx="390.8" cy="101.2" r="1.95" fill="#d403aa"/>
<circle cx="416.4" cy="45.2" r="1.95" fill="#9237c7"/>
<circle cx="388.9" cy="68.5" r="1.95" fill="#f10092"/>
<circle cx="403.4" cy="126.2" r="1.95" fill="#1364ec"/>
<circle cx="401.9" cy="165.3" r="1.95" fill="#ff006f"/>
<circle cx="440.6" cy="67.5" r="1.95" fill="#8345d4"/>
<circle cx="423.5" cy="97.1" r="1.95" fill="#8e3ac9"/>
<circle cx="405.2" cy="36.9" r="1.95" fill="#f7008c"/>
<circle cx="409.6" cy="194.6" r="1.95" fill="#0087fb"/>
<circle cx="407.0" cy="195.1" r="1.95" fill="#0088fb"/>
<circle cx="388.6" cy="215.6" r="1.95" fill="#ff0065"/>
<circle cx="403.2" cy="177.9" r="1.95" fill="#008bfb"/>
<circle cx="407.2" cy="41.2" r="1.95" fill="#d402a9"/>
<circle cx="395.5" cy="97.1" r="1.95" fill="#be12b1"/>
<circle cx="382.7" cy="74.7" r="1.95" fill="#f7008c"/>
<circle cx="398.0" cy="39.1" r="1.95" fill="#ff006c"/>
<circle cx="308.1" cy="39.3" r="1.95" fill="#008bfb"/>
<circle cx="405.7" cy="238.5" r="1.95" fill="#9f2cc0"/>
<circle cx="420.5" cy="243.4" r="1.95" fill="#ff0053"/>
<circle cx="394.2" cy="101.2" r="1.95" fill="#e4009f"/>
<circle cx="400.4" cy="275.5" r="1.95" fill="#0084fb"/>
<circle cx="373.5" cy="67.2" r="1.95" fill="#e6009d"/>
<circle cx="376.7" cy="97.3" r="1.95" fill="#ff0077"/>
<circle cx="412.8" cy="192.9" r="1.95" fill="#0087fb"/>
<circle cx="378.4" cy="186.1" r="1.95" fill="#0086fb"/>
<circle cx="400.5" cy="302.6" r="1.95" fill="#008bfb"/>
<circle cx="444.0" cy="39.5" r="1.95" fill="#6552db"/>
<circle cx="397.8" cy="105.6" r="1.95" fill="#c60bae"/>
<circle cx="371.0" cy="72.6" r="1.95" fill="#ff0052"/>
<circle cx="449.9" cy="70.4" r="1.95" fill="#d402a9"/>
<circle cx="402.7" cy="157.2" r="1.95" fill="#f6008d"/>
<circle cx="404.4" cy="215.2" r="1.95" fill="#0087fb"/>
<circle cx="402.0" cy="184.5" r="1.95" fill="#0089fb"/>
<circle cx="387.3" cy="102.9" r="1.95" fill="#ff007a"/>
<circle cx="399.1" cy="447.5" r="1.95" fill="#c20fb0"/>
<circle cx="429.2" cy="331.2" r="1.95" fill="#0087fb"/>
<circle cx="393.0" cy="273.5" r="1.95" fill="#0086fb"/>
<circle cx="424.7" cy="41.4" r="1.95" fill="#8e3aca"/>
<circle cx="400.7" cy="49.7" r="1.95" fill="#e4009e"/>
<circle cx="392.3" cy="43.4" r="1.95" fill="#ff005a"/>
<circle cx="386.1" cy="183.9" r="1.95" fill="#0085fb"/>
<circle cx="403.3" cy="186.0" r="1.95" fill="#0084fb"/>
<circle cx="425.4" cy="45.7" r="1.95" fill="#a725bb"/>
<circle cx="378.2" cy="68.4" r="1.95" fill="#ff0073"/>
<circle cx="382.5" cy="130.2" r="1.95" fill="#ee0096"/>
<circle cx="468.2" cy="70.8" r="1.95" fill="#008bfb"/>
<circle cx="407.1" cy="215.3" r="1.95" fill="#0085fb"/>
<circle cx="404.0" cy="303.1" r="1.95" fill="#893fce"/>
<circle cx="401.3" cy="41.4" r="1.95" fill="#f30090"/>
<circle cx="411.1" cy="136.7" r="1.95" fill="#0085fb"/>
<circle cx="420.6" cy="47.4" r="1.95" fill="#9633c4"/>
<circle cx="409.6" cy="132.8" r="1.95" fill="#008bfb"/>
<circle cx="407.0" cy="218.5" r="1.95" fill="#0085fb"/>
<circle cx="404.2" cy="130.1" r="1.95" fill="#0076f8"/>
<circle cx="392.9" cy="303.5" r="1.95" fill="#008bfb"/>
<circle cx="377.1" cy="70.6" r="1.95" fill="#ff0073"/>
<circle cx="398.7" cy="161.7" r="1.95" fill="#f5008e"/>
<circle cx="402.7" cy="335.2" r="1.95" fill="#f20091"/>
<circle cx="294.8" cy="40.4" r="1.95" fill="#008bfb"/>
<circle cx="404.2" cy="49.5" r="1.95" fill="#ff0073"/>
<circle cx="404.8" cy="213.2" r="1.95" fill="#0084fb"/>
<circle cx="405.6" cy="194.4" r="1.95" fill="#008bfb"/>
<circle cx="389.5" cy="301.4" r="1.95" fill="#0073f7"/>
<circle cx="336.0" cy="157.3" r="1.95" fill="#ff0051"/>
<circle cx="426.7" cy="73.0" r="1.95" fill="#b21cb5"/>
<circle cx="387.5" cy="216.9" r="1.95" fill="#ff0065"/>
<circle cx="388.7" cy="72.1" r="1.95" fill="#f00094"/>
<circle cx="396.2" cy="184.4" r="1.95" fill="#0085fb"/>
<circle cx="405.3" cy="181.8" r="1.95" fill="#0084fb"/>
<circle cx="421.6" cy="215.1" r="1.95" fill="#0086fb"/>
<circle cx="366.7" cy="186.4" r="1.95" fill="#0089fb"/>
<circle cx="409.0" cy="273.2" r="1.95" fill="#da00a6"/>
<circle cx="287.1" cy="38.5" r="1.95" fill="#0087fb"/>
<circle cx="445.9" cy="70.6" r="1.95" fill="#8642d1"/>
<circle cx="414.9" cy="73.4" r="1.95" fill="#ae1fb8"/>
<circle cx="413.3" cy="73.1" r="1.95" fill="#b31bb4"/>
<circle cx="417.3" cy="72.7" r="1.95" fill="#c909ae"/>
<circle cx="400.9" cy="160.5" r="1.95" fill="#ff0078"/>
<circle cx="373.3" cy="72.3" r="1.95" fill="#ff005f"/>
<circle cx="401.9" cy="217.6" r="1.95" fill="#0084fb"/>
<circle cx="403.6" cy="241.1" r="1.95" fill="#d402a9"/>
<circle cx="406.5" cy="194.7" r="1.95" fill="#0086fb"/>
<circle cx="442.3" cy="41.6" r="1.95" fill="#5656dd"/>
<circle cx="401.9" cy="390.1" r="1.95" fill="#0071f5"/>
<circle cx="388.9" cy="107.0" r="1.95" fill="#c60bae"/>
<circle cx="436.3" cy="157.5" r="1.95" fill="#0086fb"/>
<circle cx="402.6" cy="350.2" r="1.95" fill="#e4009e"/>
<circle cx="394.8" cy="273.1" r="1.95" fill="#008bfb"/>
<circle cx="407.0" cy="34.8" r="1.95" fill="#cc07ac"/>
<circle cx="413.8" cy="136.7" r="1.95" fill="#008bfb"/>
<circle cx="406.1" cy="132.5" r="1.95" fill="#0071f5"/>
<circle cx="403.9" cy="35.3" r="1.95" fill="#ef0095"/>
<circle cx="405.0" cy="124.2" r="1.95" fill="#0085fb"/>
<circle cx="423.4" cy="331.2" r="1.95" fill="#0087fb"/>
<circle cx="390.1" cy="130.7" r="1.95" fill="#e3009f"/>
<circle cx="411.6" cy="38.0" r="1.95" fill="#cc07ac"/>
<circle cx="405.9" cy="128.2" r="1.95" fill="#0084fb"/>
<circle cx="402.5" cy="188.1" r="1.95" fill="#0087fb"/>
<circle cx="384.5" cy="215.4" r="1.95" fill="#ff0063"/>
<circle cx="381.5" cy="131.2" r="1.95" fill="#ee0095"/>
<circle cx="387.2" cy="99.1" r="1.95" fill="#f30090"/>
<circle cx="393.4" cy="47.3" r="1.95" fill="#ff006c"/>
<circle cx="329.5" cy="40.9" r="1.95" fill="#008bfb"/>
<circle cx="396.7" cy="237.9" r="1.95" fill="#0087fb"/>
<circle cx="405.6" cy="298.1" r="1.95" fill="#0085fb"/>
<circle cx="392.9" cy="105.7" r="1.95" fill="#d402a9"/>
<circle cx="408.9" cy="128.0" r="1.95" fill="#0080fc"/>
<circle cx="387.3" cy="128.3" r="1.95" fill="#da00a6"/>
<circle cx="385.5" cy="128.2" r="1.95" fill="#ee0096"/>
<circle cx="400.5" cy="152.8" r="1.95" fill="#f7008c"/>
<circle cx="417.8" cy="130.4" r="1.95" fill="#008afb"/>
<circle cx="391.9" cy="130.5" r="1.95" fill="#dc00a4"/>
<circle cx="437.6" cy="41.2" r="1.95" fill="#6851da"/>
<circle cx="406.2" cy="211.8" r="1.95" fill="#0089fb"/>
<circle cx="375.8" cy="101.3" r="1.95" fill="#ff0076"/>
<circle cx="385.7" cy="39.9" r="1.95" fill="#ff0051"/>
<circle cx="298.0" cy="42.1" r="1.95" fill="#0079fa"/>
<circle cx="397.4" cy="123.8" r="1.95" fill="#9137c7"/>
<circle cx="343.5" cy="158.0" r="1.95" fill="#ff0051"/>
<circle cx="396.0" cy="48.9" r="1.95" fill="#ff0066"/>
<circle cx="409.8" cy="100.3" r="1.95" fill="#8f39c9"/>
<circle cx="402.8" cy="322.8" r="1.95" fill="#9633c4"/>
<circle cx="418.3" cy="96.9" r="1.95" fill="#8b3dcc"/>
<circle cx="403.7" cy="234.7" r="1.95" fill="#9e2dc0"/>
<circle cx="386.3" cy="66.5" r="1.95" fill="#ed0096"/>
<circle cx="443.0" cy="68.5" r="1.95" fill="#d402a9"/>
<circle cx="402.5" cy="268.4" r="1.95" fill="#9732c4"/>
<circle cx="408.3" cy="302.5" r="1.95" fill="#ff005b"/>
<circle cx="400.9" cy="128.5" r="1.95" fill="#365de4"/>
<circle cx="391.1" cy="70.5" r="1.95" fill="#ee0095"/>
<circle cx="387.5" cy="302.2" r="1.95" fill="#0089fb"/>
<circle cx="401.5" cy="104.2" r="1.95" fill="#ac21b8"/>
<circle cx="278.3" cy="41.5" r="1.95" fill="#008bfb"/>
<circle cx="459.7" cy="39.3" r="1.95" fill="#6a50da"/>
<circle cx="267.3" cy="42.3" r="1.95" fill="#0088fb"/>
<circle cx="427.9" cy="44.7" r="1.95" fill="#8a3ecd"/>
<circle cx="387.6" cy="188.3" r="1.95" fill="#0088fb"/>
<circle cx="405.2" cy="215.3" r="1.95" fill="#0084fb"/>
<circle cx="362.8" cy="158.0" r="1.95" fill="#ff0053"/>
<circle cx="396.3" cy="35.1" r="1.95" fill="#ff0061"/>
<circle cx="374.4" cy="65.9" r="1.95" fill="#ff0066"/>
<circle cx="403.5" cy="438.8" r="1.95" fill="#0084fb"/>
<circle cx="450.9" cy="67.9" r="1.95" fill="#007afb"/>
<circle cx="388.4" cy="103.3" r="1.95" fill="#ba15b2"/>
<circle cx="410.1" cy="126.0" r="1.95" fill="#0089fb"/>
<circle cx="419.0" cy="123.8" r="1.95" fill="#008bfb"/>
<circle cx="406.9" cy="237.2" r="1.95" fill="#0086fb"/>
<circle cx="317.2" cy="41.4" r="1.95" fill="#0085fb"/>
<circle cx="396.9" cy="304.9" r="1.95" fill="#008bfb"/>
<circle cx="397.4" cy="299.7" r="1.95" fill="#008bfb"/>
<circle cx="309.5" cy="41.0" r="1.95" fill="#0089fb"/>
<circle cx="411.2" cy="244.2" r="1.95" fill="#ff0060"/>
<circle cx="402.3" cy="308.2" r="1.95" fill="#0084fb"/>
<circle cx="441.0" cy="41.4" r="1.95" fill="#6751db"/>
<circle cx="428.3" cy="37.9" r="1.95" fill="#8840cf"/>
<circle cx="404.7" cy="195.0" r="1.95" fill="#0089fb"/>
<circle cx="421.0" cy="157.2" r="1.95" fill="#ff0067"/>
<circle cx="402.1" cy="324.3" r="1.95" fill="#0074f7"/>
<circle cx="443.3" cy="67.3" r="1.95" fill="#794bd9"/>
<circle cx="383.8" cy="66.0" r="1.95" fill="#ef0095"/>
<circle cx="402.7" cy="214.5" r="1.95" fill="#0088fb"/>
<circle cx="362.8" cy="157.1" r="1.95" fill="#ff0055"/>
<circle cx="398.1" cy="99.6" r="1.95" fill="#cb08ad"/>
<circle cx="423.9" cy="102.3" r="1.95" fill="#9038c8"/>
<circle cx="381.6" cy="128.3" r="1.95" fill="#d402a9"/>
<circle cx="385.1" cy="133.7" r="1.95" fill="#e9009b"/>
<circle cx="420.8" cy="103.2" r="1.95" fill="#8a3ecd"/>
<circle cx="408.1" cy="67.7" r="1.95" fill="#b41ab4"/>
<circle cx="400.1" cy="155.7" r="1.95" fill="#ff007d"/>
<circle cx="402.3" cy="304.8" r="1.95" fill="#0081fc"/>
<circle cx="394.3" cy="95.1" r="1.95" fill="#dc00a4"/>
<circle cx="410.6" cy="192.3" r="1.95" fill="#0086fb"/>
<circle cx="398.1" cy="269.4" r="1.95" fill="#007ffc"/>
<circle cx="393.8" cy="91.0" r="1.95" fill="#b21cb5"/>
<circle cx="401.9" cy="208.3" r="1.95" fill="#0089fb"/>
<circle cx="417.9" cy="45.6" r="1.95" fill="#a526bc"/>
<circle cx="364.5" cy="156.7" r="1.95" fill="#ff0059"/>
<circle cx="348.6" cy="157.0" r="1.95" fill="#ff0051"/>
<circle cx="406.0" cy="278.0" r="1.95" fill="#a824bb"/>
<circle cx="301.4" cy="40.4" r="1.95" fill="#008afb"/>
<circle cx="396.9" cy="105.8" r="1.95" fill="#ca09ad"/>
<circle cx="395.8" cy="238.3" r="1.95" fill="#0085fb"/>
<circle cx="414.1" cy="157.4" r="1.95" fill="#0084fb"/>
<circle cx="411.5" cy="44.6" r="1.95" fill="#ce06ac"/>
<circle cx="400.7" cy="273.2" r="1.95" fill="#007afb"/>
<circle cx="418.0" cy="43.3" r="1.95" fill="#9d2dc1"/>
<circle cx="379.9" cy="68.1" r="1.95" fill="#e8009b"/>
<circle cx="394.5" cy="123.4" r="1.95" fill="#a923ba"/>
<circle cx="460.2" cy="39.1" r="1.95" fill="#8147d5"/>
<circle cx="454.2" cy="45.1" r="1.95" fill="#794cd9"/>
<circle cx="402.1" cy="382.1" r="1.95" fill="#1a62ea"/>
<circle cx="395.8" cy="302.2" r="1.95" fill="#007ffc"/>
<circle cx="397.4" cy="134.4" r="1.95" fill="#e4009e"/>
<circle cx="361.2" cy="128.5" r="1.95" fill="#ff0056"/>
<circle cx="391.6" cy="47.0" r="1.95" fill="#ff0051"/>
<circle cx="403.1" cy="423.2" r="1.95" fill="#007afb"/>
<circle cx="352.9" cy="156.7" r="1.95" fill="#ff0057"/>
<circle cx="452.3" cy="67.8" r="1.95" fill="#d402a9"/>
<circle cx="341.0" cy="158.0" r="1.95" fill="#ff0054"/>
<circle cx="387.3" cy="215.2" r="1.95" fill="#ff0075"/>
<circle cx="447.6" cy="38.9" r="1.95" fill="#8444d3"/>
<circle cx="412.3" cy="126.2" r="1.95" fill="#0084fb"/>
<circle cx="411.1" cy="39.1" r="1.95" fill="#cd07ac"/>
<circle cx="402.7" cy="426.5" r="1.95" fill="#0076f8"/>
<circle cx="399.4" cy="130.6" r="1.95" fill="#3f5be2"/>
<circle cx="415.9" cy="68.5" r="1.95" fill="#ca09ad"/>
<circle cx="418.0" cy="186.5" r="1.95" fill="#0086fb"/>
<circle cx="403.0" cy="194.5" r="1.95" fill="#0087fb"/>
<circle cx="403.4" cy="446.5" r="1.95" fill="#0077f9"/>
<circle cx="411.3" cy="180.0" r="1.95" fill="#0084fb"/>
<circle cx="405.7" cy="211.6" r="1.95" fill="#0086fb"/>
<circle cx="296.5" cy="40.4" r="1.95" fill="#0087fb"/>
<circle cx="351.1" cy="157.3" r="1.95" fill="#ff0051"/>
<circle cx="404.2" cy="273.3" r="1.95" fill="#8048d7"/>
<circle cx="406.2" cy="268.8" r="1.95" fill="#cc07ac"/>
<circle cx="418.3" cy="93.0" r="1.95" fill="#893fce"/>
<circle cx="411.2" cy="98.1" r="1.95" fill="#c60caf"/>
<circle cx="407.0" cy="212.9" r="1.95" fill="#0089fb"/>
<circle cx="402.0" cy="167.0" r="1.95" fill="#f4008f"/>
<circle cx="406.3" cy="123.8" r="1.95" fill="#008bfb"/>
<circle cx="407.6" cy="47.5" r="1.95" fill="#dc00a4"/>
<circle cx="399.9" cy="34.9" r="1.95" fill="#e6009d"/>
<circle cx="361.7" cy="157.5" r="1.95" fill="#ff0057"/>
<circle cx="432.7" cy="68.0" r="1.95" fill="#a526bc"/>
<circle cx="390.4" cy="103.8" r="1.95" fill="#ed0097"/>
<circle cx="400.4" cy="186.1" r="1.95" fill="#0087fb"/>
<circle cx="421.4" cy="130.5" r="1.95" fill="#0084fb"/>
<circle cx="409.7" cy="70.0" r="1.95" fill="#ca09ad"/>
<circle cx="307.2" cy="38.3" r="1.95" fill="#0087fb"/>
<circle cx="392.2" cy="43.1" r="1.95" fill="#ff0060"/>
<circle cx="427.9" cy="72.3" r="1.95" fill="#b31bb4"/>
<circle cx="417.6" cy="47.8" r="1.95" fill="#b31bb4"/>
<circle cx="404.3" cy="276.6" r="1.95" fill="#0084fb"/>
<circle cx="376.2" cy="41.0" r="1.95" fill="#ff0052"/>
<circle cx="417.6" cy="244.2" r="1.95" fill="#ff0053"/>
<circle cx="422.2" cy="157.3" r="1.95" fill="#ff0063"/>
<circle cx="402.1" cy="304.1" r="1.95" fill="#0071f6"/>
<circle cx="394.6" cy="301.1" r="1.95" fill="#007efc"/>
<circle cx="370.4" cy="156.7" r="1.95" fill="#ff005b"/>
<circle cx="420.2" cy="101.6" r="1.95" fill="#b41ab4"/>
<circle cx="403.3" cy="128.1" r="1.95" fill="#0076f8"/>
<circle cx="385.9" cy="215.1" r="1.95" fill="#ff0063"/>
<circle cx="284.6" cy="40.5" r="1.95" fill="#0089fb"/>
<circle cx="378.0" cy="187.8" r="1.95" fill="#0086fb"/>
<circle cx="398.9" cy="253.0" r="1.95" fill="#0086fb"/>
<circle cx="291.4" cy="40.3" r="1.95" fill="#008afb"/>
<circle cx="400.5" cy="95.3" r="1.95" fill="#c60bae"/>
<circle cx="285.7" cy="39.6" r="1.95" fill="#008bfb"/>
<circle cx="419.5" cy="132.5" r="1.95" fill="#0084fb"/>
<circle cx="423.3" cy="186.5" r="1.95" fill="#008bfb"/>
<circle cx="453.4" cy="157.2" r="1.95" fill="#0086fb"/>
<circle cx="396.1" cy="447.3" r="1.95" fill="#ff0071"/>
<circle cx="402.0" cy="335.2" r="1.95" fill="#f30090"/>
<circle cx="380.8" cy="62.6" r="1.95" fill="#ff0074"/>
<circle cx="379.8" cy="97.0" r="1.95" fill="#ff0055"/>
<circle cx="421.0" cy="105.0" r="1.95" fill="#8741d0"/>
<circle cx="339.7" cy="157.5" r="1.95" fill="#ff0055"/>
<circle cx="313.7" cy="41.0" r="1.95" fill="#0084fb"/>
<circle cx="413.4" cy="70.0" r="1.95" fill="#be12b1"/>
<circle cx="429.3" cy="43.9" r="1.95" fill="#8e3aca"/>
<circle cx="411.8" cy="177.8" r="1.95" fill="#008afb"/>
<circle cx="411.9" cy="70.3" r="1.95" fill="#e200a0"/>
<circle cx="437.4" cy="39.3" r="1.95" fill="#6950da"/>
<circle cx="458.0" cy="44.1" r="1.95" fill="#8c3ccc"/>
<circle cx="372.3" cy="67.9" r="1.95" fill="#ff005d"/>
<circle cx="407.3" cy="276.5" r="1.95" fill="#ff0072"/>
<circle cx="398.9" cy="235.6" r="1.95" fill="#0088fb"/>
<circle cx="430.8" cy="128.5" r="1.95" fill="#008bfb"/>
<circle cx="435.2" cy="70.4" r="1.95" fill="#d402a9"/>
<circle cx="399.7" cy="101.6" r="1.95" fill="#c80aae"/>
<circle cx="456.2" cy="70.2" r="1.95" fill="#0088fb"/>
<circle cx="405.9" cy="217.4" r="1.95" fill="#0085fb"/>
<circle cx="371.6" cy="72.4" r="1.95" fill="#ff006a"/>
<circle cx="304.5" cy="42.5" r="1.95" fill="#0089fb"/>
<circle cx="457.2" cy="69.0" r="1.95" fill="#0084fb"/>
<circle cx="407.6" cy="275.5" r="1.95" fill="#0084fb"/>
<circle cx="428.9" cy="70.5" r="1.95" fill="#0084fb"/>
<circle cx="391.6" cy="303.4" r="1.95" fill="#0077f9"/>
<circle cx="367.2" cy="156.7" r="1.95" fill="#ff0055"/>
<circle cx="455.0" cy="72.1" r="1.95" fill="#0084fb"/>
<circle cx="380.3" cy="125.9" r="1.95" fill="#ff0077"/>
<circle cx="358.1" cy="156.7" r="1.95" fill="#ff0058"/>
<circle cx="411.4" cy="43.7" r="1.95" fill="#ba15b2"/>
<circle cx="456.7" cy="37.8" r="1.95" fill="#6b50da"/>
<circle cx="402.0" cy="216.1" r="1.95" fill="#0089fb"/>
<circle cx="393.9" cy="244.2" r="1.95" fill="#007ffc"/>
<circle cx="405.0" cy="130.4" r="1.95" fill="#0082fc"/>
<circle cx="385.6" cy="124.1" r="1.95" fill="#dc00a4"/>
<circle cx="321.7" cy="157.1" r="1.95" fill="#ff0051"/>
<circle cx="401.9" cy="383.7" r="1.95" fill="#0076f8"/>
<circle cx="402.6" cy="52.0" r="1.95" fill="#f10093"/>
<circle cx="386.9" cy="97.4" r="1.95" fill="#ed0097"/>
<circle cx="289.6" cy="39.9" r="1.95" fill="#008bfb"/>
<circle cx="391.3" cy="91.5" r="1.95" fill="#e000a1"/>
<circle cx="414.5" cy="188.7" r="1.95" fill="#0089fb"/>
<circle cx="408.3" cy="244.9" r="1.95" fill="#ff0052"/>
<circle cx="352.5" cy="186.5" r="1.95" fill="#0085fb"/>
<circle cx="407.3" cy="273.5" r="1.95" fill="#ff0072"/>
<circle cx="404.0" cy="292.1" r="1.95" fill="#714ed9"/>
<circle cx="380.3" cy="63.7" r="1.95" fill="#ff0074"/>
<circle cx="398.0" cy="240.3" r="1.95" fill="#008bfb"/>
<circle cx="279.4" cy="41.1" r="1.95" fill="#0084fb"/>
<circle cx="395.2" cy="272.0" r="1.95" fill="#0078f9"/>
<circle cx="376.9" cy="65.8" r="1.95" fill="#ff006d"/>
<circle cx="401.8" cy="215.6" r="1.95" fill="#0084fb"/>
<circle cx="399.5" cy="252.9" r="1.95" fill="#008afb"/>
<circle cx="378.5" cy="72.4" r="1.95" fill="#f20091"/>
<circle cx="442.6" cy="44.1" r="1.95" fill="#5e54dc"/>
<circle cx="415.6" cy="45.6" r="1.95" fill="#b31bb4"/>
<circle cx="414.0" cy="215.9" r="1.95" fill="#0085fb"/>
<circle cx="402.5" cy="276.6" r="1.95" fill="#d402a9"/>
<circle cx="409.7" cy="245.0" r="1.95" fill="#ff0052"/>
<circle cx="405.3" cy="211.9" r="1.95" fill="#0086fb"/>
<circle cx="425.5" cy="46.2" r="1.95" fill="#9335c6"/>
<circle cx="403.7" cy="130.6" r="1.95" fill="#0078f9"/>
<circle cx="437.4" cy="43.3" r="1.95" fill="#5b55dc"/>
<circle cx="400.9" cy="149.3" r="1.95" fill="#ff0077"/>
<circle cx="346.0" cy="158.0" r="1.95" fill="#ff005d"/>
<circle cx="406.7" cy="39.5" r="1.95" fill="#e8009b"/>
<circle cx="419.3" cy="124.3" r="1.95" fill="#008afb"/>
<circle cx="405.1" cy="134.1" r="1.95" fill="#0080fc"/>
<circle cx="404.4" cy="266.7" r="1.95" fill="#c80aae"/>
<circle cx="403.3" cy="49.7" r="1.95" fill="#ef0095"/>
<circle cx="408.2" cy="217.7" r="1.95" fill="#0088fb"/>
<circle cx="287.1" cy="39.3" r="1.95" fill="#893fce"/>
<circle cx="410.7" cy="98.1" r="1.95" fill="#8e3ac9"/>
<circle cx="389.9" cy="93.1" r="1.95" fill="#c011b1"/>
<circle cx="428.6" cy="215.1" r="1.95" fill="#0085fb"/>
<circle cx="365.3" cy="99.0" r="1.95" fill="#ff0051"/>
<circle cx="463.9" cy="69.5" r="1.95" fill="#008bfb"/>
<circle cx="439.1" cy="72.2" r="1.95" fill="#d402a9"/>
<circle cx="420.3" cy="245.2" r="1.95" fill="#ff0053"/>
<circle cx="408.4" cy="157.4" r="1.95" fill="#ae1fb7"/>
<circle cx="385.9" cy="186.3" r="1.95" fill="#0089fb"/>
<circle cx="402.7" cy="330.5" r="1.95" fill="#cc07ac"/>
<circle cx="414.7" cy="215.3" r="1.95" fill="#0087fb"/>
<circle cx="400.8" cy="280.4" r="1.95" fill="#0074f7"/>
<circle cx="402.8" cy="126.2" r="1.95" fill="#2d5ee6"/>
<circle cx="413.8" cy="47.7" r="1.95" fill="#9137c8"/>
<circle cx="400.8" cy="242.2" r="1.95" fill="#0085fb"/>
<circle cx="410.8" cy="217.1" r="1.95" fill="#0089fb"/>
<circle cx="405.6" cy="219.0" r="1.95" fill="#0087fb"/>
<circle cx="460.4" cy="41.1" r="1.95" fill="#714ed9"/>
<circle cx="384.7" cy="101.9" r="1.95" fill="#ff0067"/>
<circle cx="402.1" cy="157.3" r="1.95" fill="#f5008e"/>
<circle cx="402.0" cy="325.9" r="1.95" fill="#ff0071"/>
<circle cx="396.7" cy="95.1" r="1.95" fill="#c80aae"/>
<circle cx="404.7" cy="132.4" r="1.95" fill="#754dd9"/>
<circle cx="371.3" cy="41.5" r="1.95" fill="#ff0054"/>
<circle cx="371.8" cy="67.8" r="1.95" fill="#ff0069"/>
<circle cx="421.1" cy="93.7" r="1.95" fill="#8f39c9"/>
<circle cx="288.4" cy="43.3" r="1.95" fill="#0084fb"/>
<circle cx="402.8" cy="195.0" r="1.95" fill="#008afb"/>
<circle cx="322.9" cy="157.1" r="1.95" fill="#ff0051"/>
<circle cx="397.9" cy="250.8" r="1.95" fill="#0084fb"/>
<circle cx="322.9" cy="43.6" r="1.95" fill="#008afb"/>
<circle cx="399.0" cy="69.2" r="1.95" fill="#a824ba"/>
<circle cx="448.7" cy="38.7" r="1.95" fill="#4e58df"/>
<circle cx="449.6" cy="72.4" r="1.95" fill="#0084fb"/>
<circle cx="400.8" cy="125.7" r="1.95" fill="#6751db"/>
<circle cx="391.1" cy="95.3" r="1.95" fill="#e8009b"/>
<circle cx="396.1" cy="48.7" r="1.95" fill="#ff0068"/>
<circle cx="303.9" cy="41.0" r="1.95" fill="#0089fb"/>
<circle cx="402.0" cy="332.1" r="1.95" fill="#b31bb4"/>
<circle cx="403.9" cy="296.8" r="1.95" fill="#0076f8"/>
<circle cx="411.2" cy="302.2" r="1.95" fill="#ff0058"/>
<circle cx="391.5" cy="101.2" r="1.95" fill="#dc00a4"/>
<circle cx="396.6" cy="101.4" r="1.95" fill="#e4009e"/>
<circle cx="374.5" cy="74.4" r="1.95" fill="#f30090"/>
<circle cx="321.5" cy="157.6" r="1.95" fill="#ff0053"/>
<circle cx="412.9" cy="179.7" r="1.95" fill="#008bfb"/>
<circle cx="389.3" cy="41.2" r="1.95" fill="#ff0057"/>
<circle cx="402.4" cy="309.9" r="1.95" fill="#9633c4"/>
<circle cx="352.5" cy="157.6" r="1.95" fill="#ff0054"/>
<circle cx="382.2" cy="216.1" r="1.95" fill="#ff0055"/>
<circle cx="421.5" cy="72.3" r="1.95" fill="#dc00a4"/>
<circle cx="368.0" cy="156.7" r="1.95" fill="#ff0056"/>
<circle cx="400.4" cy="235.4" r="1.95" fill="#0089fb"/>
<circle cx="379.8" cy="63.7" r="1.95" fill="#ff0051"/>
<circle cx="455.1" cy="43.2" r="1.95" fill="#714ed9"/>
<circle cx="287.6" cy="39.0" r="1.95" fill="#008bfb"/>
<circle cx="375.5" cy="76.8" r="1.95" fill="#ff005b"/>
<circle cx="410.9" cy="68.3" r="1.95" fill="#b11cb5"/>
<circle cx="401.0" cy="298.1" r="1.95" fill="#008bfb"/>
<circle cx="271.3" cy="41.8" r="1.95" fill="#008bfb"/>
<circle cx="389.0" cy="101.1" r="1.95" fill="#d402a9"/>
<circle cx="413.8" cy="134.4" r="1.95" fill="#007cfc"/>
<circle cx="392.6" cy="186.1" r="1.95" fill="#008bfb"/>
<circle cx="395.1" cy="69.1" r="1.95" fill="#e3009f"/>
<circle cx="393.9" cy="109.6" r="1.95" fill="#c60bae"/>
<circle cx="401.9" cy="162.1" r="1.95" fill="#ff007d"/>
<circle cx="418.2" cy="157.3" r="1.95" fill="#0076f8"/>
<circle cx="391.7" cy="38.9" r="1.95" fill="#ff0060"/>
<circle cx="432.1" cy="331.1" r="1.95" fill="#0086fb"/>
<circle cx="399.9" cy="160.5" r="1.95" fill="#ef0094"/>
<circle cx="441.0" cy="39.0" r="1.95" fill="#5257de"/>
<circle cx="402.5" cy="365.7" r="1.95" fill="#ee0096"/>
<circle cx="398.1" cy="94.9" r="1.95" fill="#c60bae"/>
<circle cx="400.5" cy="266.2" r="1.95" fill="#0076f9"/>
<circle cx="383.0" cy="128.4" r="1.95" fill="#f30090"/>
<circle cx="409.0" cy="215.4" r="1.95" fill="#0087fb"/>
<circle cx="428.4" cy="215.3" r="1.95" fill="#0087fb"/>
<circle cx="382.6" cy="68.0" r="1.95" fill="#ff007a"/>
<circle cx="372.5" cy="128.3" r="1.95" fill="#ff0051"/>
<circle cx="384.4" cy="157.3" r="1.95" fill="#ff0056"/>
<circle cx="463.3" cy="157.3" r="1.95" fill="#0086fb"/>
<circle cx="469.8" cy="157.3" r="1.95" fill="#0086fb"/>
<circle cx="474.2" cy="157.3" r="1.95" fill="#0086fb"/>
<circle cx="407.0" cy="179.3" r="1.95" fill="#ff0067"/>
<circle cx="409.0" cy="179.0" r="1.95" fill="#ff006b"/>
<circle cx="408.0" cy="180.3" r="1.95" fill="#ff0072"/>
<circle cx="404.8" cy="188.1" r="1.95" fill="#ff0067"/>
<circle cx="405.5" cy="189.5" r="1.95" fill="#ff006b"/>
<circle cx="408.5" cy="191.3" r="1.95" fill="#f8008b"/>
<circle cx="406.5" cy="192.8" r="1.95" fill="#f8008b"/>
<circle cx="410.5" cy="184.5" r="1.95" fill="#9633c4"/>
<circle cx="408.0" cy="182.8" r="1.95" fill="#9633c4"/>
<circle cx="377.5" cy="215.3" r="1.95" fill="#a527bc"/>
<circle cx="445.3" cy="215.3" r="1.95" fill="#0088fb"/>
<circle cx="404.6" cy="247.8" r="1.95" fill="#ff0056"/>
<circle cx="405.0" cy="242.8" r="1.95" fill="#e8009b"/>
<circle cx="405.5" cy="243.8" r="1.95" fill="#ee0095"/>
<circle cx="432.5" cy="273.3" r="1.95" fill="#0086fb"/>
<circle cx="441.8" cy="273.3" r="1.95" fill="#0086fb"/>
<circle cx="378.8" cy="302.3" r="1.95" fill="#0086fb"/>
<circle cx="404.5" cy="300.3" r="1.95" fill="#893fce"/>
<circle cx="403.5" cy="305.3" r="1.95" fill="#9633c4"/>
<circle cx="404.0" cy="307.8" r="1.95" fill="#ff0056"/>
<circle cx="404.5" cy="308.6" r="1.95" fill="#ff0056"/>
<circle cx="404.0" cy="294.3" r="1.95" fill="#893fce"/>
<circle cx="404.0" cy="292.1" r="1.95" fill="#ff0078"/>
<circle cx="404.0" cy="312.5" r="1.95" fill="#ff0078"/>
<circle cx="403.2" cy="293.3" r="1.95" fill="#f8008b"/>
<circle cx="404.8" cy="311.3" r="1.95" fill="#f8008b"/>
<circle cx="418.6" cy="302.3" r="1.95" fill="#0086fb"/>
<circle cx="421.7" cy="302.3" r="1.95" fill="#ff0056"/>
<circle cx="429.0" cy="302.3" r="1.95" fill="#0086fb"/>
<circle cx="446.8" cy="331.3" r="1.95" fill="#0086fb"/>
<circle cx="400.9" cy="360.3" r="1.95" fill="#0078f9"/>
<circle cx="408.5" cy="360.3" r="1.95" fill="#6153db"/>
<circle cx="415.5" cy="360.3" r="1.95" fill="#ff0072"/>
<circle cx="420.0" cy="360.3" r="1.95" fill="#0086fb"/>
<circle cx="369.1" cy="389.3" r="1.95" fill="#0086fb"/>
<circle cx="373.3" cy="389.3" r="1.95" fill="#0086fb"/>
<circle cx="381.0" cy="389.3" r="1.95" fill="#0086fb"/>
<circle cx="383.9" cy="389.3" r="1.95" fill="#0086fb"/>
<circle cx="402.6" cy="389.3" r="1.95" fill="#e8009b"/></g>
<line x1="252.3" y1="476.55" x2="485.4" y2="476.55" stroke="#7a7a7a" stroke-width="1.4"/>
<line x1="278.92" y1="476.55" x2="278.92" y2="479.95" stroke="#333333" stroke-width="0.9"/>
<text x="278.92" y="491.5" text-anchor="middle" font-size="10.5" fill="#333333">−3</text>
<line x1="320.08" y1="476.55" x2="320.08" y2="479.95" stroke="#333333" stroke-width="0.9"/>
<text x="320.08" y="491.5" text-anchor="middle" font-size="10.5" fill="#333333">−2</text>
<line x1="361.24" y1="476.55" x2="361.24" y2="479.95" stroke="#333333" stroke-width="0.9"/>
<text x="361.24" y="491.5" text-anchor="middle" font-size="10.5" fill="#333333">−1</text>
<line x1="402.40" y1="476.55" x2="402.40" y2="479.95" stroke="#333333" stroke-width="0.9"/>
<text x="402.40" y="491.5" text-anchor="middle" font-size="10.5" fill="#333333">0</text>
<line x1="443.56" y1="476.55" x2="443.56" y2="479.95" stroke="#333333" stroke-width="0.9"/>
<text x="443.56" y="491.5" text-anchor="middle" font-size="10.5" fill="#333333">1</text>
<line x1="484.72" y1="476.55" x2="484.72" y2="479.95" stroke="#333333" stroke-width="0.9"/>
<text x="484.72" y="491.5" text-anchor="middle" font-size="10.5" fill="#333333">2</text>
<text x="368.85" y="507" text-anchor="middle" font-size="12.65" fill="#333333">SHAP value (impact on model output)</text>
<text x="230.2" y="45.90" text-anchor="end" font-size="12.6" fill="#333333">GDP growth rate</text>
<text x="230.2" y="74.90" text-anchor="end" font-size="12.6" fill="#333333">Δ Energy intensity</text>
<text x="230.2" y="103.90" text-anchor="end" font-size="12.6" fill="#333333">Δ Energy use per capita</text>
<text x="230.2" y="132.90" text-anchor="end" font-size="12.6" fill="#333333">Energy intensity</text>
<text x="230.2" y="161.90" text-anchor="end" font-size="12.6" fill="#333333">Δ Fossil fuel share</text>
<text x="230.2" y="190.90" text-anchor="end" font-size="12.6" fill="#333333">CO2 emissions (t-1)</text>
<text x="230.2" y="219.90" text-anchor="end" font-size="12.6" fill="#333333">Real GDP (t-1)</text>
<text x="230.2" y="248.90" text-anchor="end" font-size="12.6" fill="#333333">Energy use per capita</text>
<text x="230.2" y="277.90" text-anchor="end" font-size="12.6" fill="#333333">Energy intensity (3-year avg.)</text>
<text x="230.2" y="306.90" text-anchor="end" font-size="12.6" fill="#333333">Energy use per capita (3-year avg.)</text>
<text x="230.2" y="335.90" text-anchor="end" font-size="12.6" fill="#333333">Fossil fuel share</text>
<text x="230.2" y="364.90" text-anchor="end" font-size="12.6" fill="#333333">Fossil fuel share (3-year avg.)</text>
<text x="230.2" y="393.90" text-anchor="end" font-size="12.6" fill="#333333">Δ Renewables share</text>
<text x="230.2" y="422.90" text-anchor="end" font-size="12.6" fill="#333333">Renewables share</text>
<text x="230.2" y="451.90" text-anchor="end" font-size="12.6" fill="#333333">Renewables share (3-year avg.)</text>
<defs><linearGradient id="cb" x1="0" y1="1" x2="0" y2="0">
<stop offset="0.000" stop-color="#008bfb"/>
<stop offset="0.100" stop-color="#007cfc"/>
<stop offset="0.200" stop-color="#0068f0"/>
<stop offset="0.293" stop-color="#5a55dc"/>
<stop offset="0.350" stop-color="#7e4ad8"/>
<stop offset="0.405" stop-color="#9038c8"/>
<stop offset="0.500" stop-color="#b41ab4"/>
<stop offset="0.550" stop-color="#c80aae"/>
<stop offset="0.595" stop-color="#d800a8"/>
<stop offset="0.655" stop-color="#ea009a"/>
<stop offset="0.699" stop-color="#f5008e"/>
<stop offset="0.750" stop-color="#ff0084"/>
<stop offset="0.810" stop-color="#ff0078"/>
<stop offset="0.980" stop-color="#ff0050"/>
<stop offset="1.000" stop-color="#ff0051"/>
</linearGradient></defs>
<rect x="499" y="12.3" width="5.8" height="464.0" fill="url(#cb)"/>
<text x="509" y="16.3" font-size="10.5" fill="#333333">High</text>
<text x="509" y="481" font-size="10.5" fill="#333333">Low</text>
<text transform="translate(543,244.5) rotate(-90)" text-anchor="middle" font-size="11.5" fill="#333333">Feature value</text>
</svg>
</body></html>
